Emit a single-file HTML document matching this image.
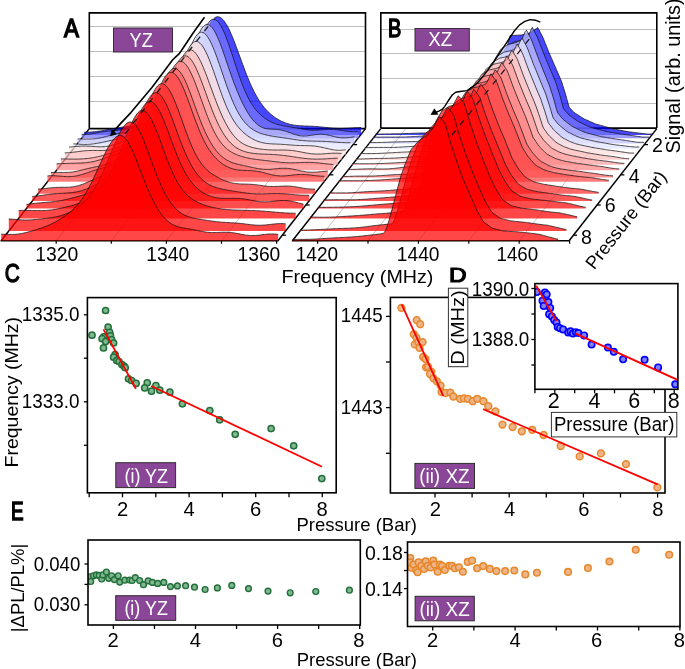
<!DOCTYPE html>
<html><head><meta charset="utf-8"><style>
html,body{margin:0;padding:0;background:#fff;overflow:hidden;}
svg{display:block;will-change:transform;}
text{font-family:"Liberation Sans", sans-serif;}
</style></head><body><svg width="685" height="669" viewBox="0 0 685 669" font-family='"Liberation Sans", sans-serif'><rect x="89.3" y="12.9" width="276.2" height="115.7" fill="#fff" stroke="none" stroke-width="1" />
<line x1="89.3" y1="26.5" x2="365.5" y2="26.5" stroke="#bdbdbd" stroke-width="1" />
<line x1="89.3" y1="51.5" x2="365.5" y2="51.5" stroke="#bdbdbd" stroke-width="1" />
<line x1="89.3" y1="76.5" x2="365.5" y2="76.5" stroke="#bdbdbd" stroke-width="1" />
<line x1="89.3" y1="101.5" x2="365.5" y2="101.5" stroke="#bdbdbd" stroke-width="1" />
<line x1="56.2" y1="240.8" x2="144.4" y2="128.6" stroke="#9a9a9a" stroke-width="0.6" />
<line x1="111.3" y1="240.8" x2="199.5" y2="128.6" stroke="#9a9a9a" stroke-width="0.6" />
<line x1="166.4" y1="240.8" x2="254.6" y2="128.6" stroke="#9a9a9a" stroke-width="0.6" />
<line x1="221.5" y1="240.8" x2="309.7" y2="128.6" stroke="#9a9a9a" stroke-width="0.6" />
<path d="M89.3,128.6 L89.3,12.9 L365.5,12.9 L365.5,128.6" fill="none" stroke="#000" stroke-width="1.6" />
<line x1="89.3" y1="128.6" x2="365.5" y2="128.6" stroke="#000" stroke-width="1.6" />
<line x1="1.1" y1="240.8" x2="89.3" y2="128.6" stroke="#000" stroke-width="1.5" />
<line x1="277.98" y1="240.8" x2="365.5" y2="128.6" stroke="#000" stroke-width="1.5" />
<line x1="0.6" y1="240.8" x2="278.48" y2="240.8" stroke="#000" stroke-width="1.6" />
<path d="M84.19,135.1 L84.19,132.2 L85.45,132.19 L86.71,132.17 L87.97,132.14 L89.22,132.09 L90.48,132.02 L91.74,131.93 L93,131.83 L94.26,131.71 L95.52,131.58 L96.78,131.43 L98.03,131.26 L99.29,131.08 L100.55,130.89 L101.81,130.69 L103.07,130.47 L104.33,130.25 L105.59,130.02 L106.84,129.79 L108.1,129.56 L109.36,129.32 L110.62,129.09 L111.88,128.86 L113.14,128.63 L114.4,128.41 L115.65,128.19 L116.91,127.99 L118.17,127.78 L119.43,127.59 L120.69,127.4 L121.95,127.22 L123.2,127.04 L124.46,126.87 L125.72,126.7 L126.98,126.53 L128.24,126.36 L129.5,126.18 L130.76,126 L132.01,125.82 L133.27,125.62 L134.53,125.41 L135.79,125.19 L137.05,124.95 L138.31,124.69 L139.57,124.41 L140.82,124.11 L142.08,123.78 L143.34,123.43 L144.6,123.05 L145.86,122.65 L147.12,122.22 L148.38,121.76 L149.63,121.26 L150.89,120.74 L152.15,120.19 L153.41,119.61 L154.67,119 L155.93,118.36 L157.19,117.68 L158.44,116.97 L159.7,116.23 L160.96,115.45 L162.22,114.63 L163.48,113.76 L164.74,112.86 L166,111.91 L167.25,110.9 L168.51,109.84 L169.77,108.72 L171.03,107.53 L172.29,106.27 L173.55,104.93 L174.8,103.51 L176.06,101.99 L177.32,100.38 L178.58,98.66 L179.84,96.83 L181.1,94.88 L182.36,92.8 L183.61,90.6 L184.87,88.26 L186.13,85.78 L187.39,83.17 L188.65,80.41 L189.91,77.52 L191.17,74.49 L192.42,71.33 L193.68,68.05 L194.94,64.66 L196.2,61.17 L197.46,57.61 L198.72,54 L199.98,50.35 L201.23,46.71 L202.49,43.09 L203.75,39.55 L205.01,36.12 L206.27,32.83 L207.53,29.74 L208.79,26.88 L210.04,24.31 L211.3,22.05 L212.56,20.15 L213.82,18.65 L215.08,17.56 L216.34,16.9 L217.59,16.7 L218.85,16.88 L220.11,17.37 L221.37,18.18 L222.63,19.3 L223.89,20.71 L225.15,22.41 L226.4,24.38 L227.66,26.6 L228.92,29.06 L230.18,31.72 L231.44,34.57 L232.7,37.59 L233.96,40.75 L235.21,44.02 L236.47,47.38 L237.73,50.81 L238.99,54.27 L240.25,57.74 L241.51,61.21 L242.77,64.65 L244.02,68.03 L245.28,71.35 L246.54,74.58 L247.8,77.72 L249.06,80.75 L250.32,83.66 L251.58,86.45 L252.83,89.11 L254.09,91.64 L255.35,94.04 L256.61,96.31 L257.87,98.46 L259.13,100.47 L260.39,102.37 L261.64,104.15 L262.9,105.83 L264.16,107.4 L265.42,108.87 L266.68,110.25 L267.94,111.55 L269.19,112.76 L270.45,113.9 L271.71,114.97 L272.97,115.97 L274.23,116.91 L275.49,117.79 L276.75,118.62 L278,119.38 L279.26,120.1 L280.52,120.77 L281.78,121.38 L283.04,121.95 L284.3,122.47 L285.56,122.95 L286.81,123.38 L288.07,123.78 L289.33,124.13 L290.59,124.44 L291.85,124.71 L293.11,124.95 L294.37,125.16 L295.62,125.34 L296.88,125.49 L298.14,125.61 L299.4,125.71 L300.66,125.8 L301.92,125.87 L303.18,125.93 L304.43,125.98 L305.69,126.02 L306.95,126.06 L308.21,126.11 L309.47,126.15 L310.73,126.2 L311.99,126.26 L313.24,126.32 L314.5,126.4 L315.76,126.48 L317.02,126.58 L318.28,126.68 L319.54,126.79 L320.79,126.91 L322.05,127.03 L323.31,127.16 L324.57,127.3 L325.83,127.43 L327.09,127.56 L328.35,127.69 L329.6,127.81 L330.86,127.93 L332.12,128.03 L333.38,128.13 L334.64,128.21 L335.9,128.27 L337.16,128.32 L338.41,128.36 L339.67,128.38 L340.93,128.38 L342.19,128.36 L343.45,128.34 L344.71,128.29 L345.97,128.24 L347.22,128.18 L348.48,128.11 L349.74,128.04 L351,127.96 L352.26,127.89 L353.52,127.81 L354.78,127.74 L356.03,127.68 L357.29,127.63 L358.55,127.59 L359.81,127.57 L361.07,127.56 L361.07,135.1 Z" fill="rgba(0,0,255,0.72)" stroke="none" stroke-width="1" />
<path d="M84.19,132.2 L85.45,132.19 L86.71,132.17 L87.97,132.14 L89.22,132.09 L90.48,132.02 L91.74,131.93 L93,131.83 L94.26,131.71 L95.52,131.58 L96.78,131.43 L98.03,131.26 L99.29,131.08 L100.55,130.89 L101.81,130.69 L103.07,130.47 L104.33,130.25 L105.59,130.02 L106.84,129.79 L108.1,129.56 L109.36,129.32 L110.62,129.09 L111.88,128.86 L113.14,128.63 L114.4,128.41 L115.65,128.19 L116.91,127.99 L118.17,127.78 L119.43,127.59 L120.69,127.4 L121.95,127.22 L123.2,127.04 L124.46,126.87 L125.72,126.7 L126.98,126.53 L128.24,126.36 L129.5,126.18 L130.76,126 L132.01,125.82 L133.27,125.62 L134.53,125.41 L135.79,125.19 L137.05,124.95 L138.31,124.69 L139.57,124.41 L140.82,124.11 L142.08,123.78 L143.34,123.43 L144.6,123.05 L145.86,122.65 L147.12,122.22 L148.38,121.76 L149.63,121.26 L150.89,120.74 L152.15,120.19 L153.41,119.61 L154.67,119 L155.93,118.36 L157.19,117.68 L158.44,116.97 L159.7,116.23 L160.96,115.45 L162.22,114.63 L163.48,113.76 L164.74,112.86 L166,111.91 L167.25,110.9 L168.51,109.84 L169.77,108.72 L171.03,107.53 L172.29,106.27 L173.55,104.93 L174.8,103.51 L176.06,101.99 L177.32,100.38 L178.58,98.66 L179.84,96.83 L181.1,94.88 L182.36,92.8 L183.61,90.6 L184.87,88.26 L186.13,85.78 L187.39,83.17 L188.65,80.41 L189.91,77.52 L191.17,74.49 L192.42,71.33 L193.68,68.05 L194.94,64.66 L196.2,61.17 L197.46,57.61 L198.72,54 L199.98,50.35 L201.23,46.71 L202.49,43.09 L203.75,39.55 L205.01,36.12 L206.27,32.83 L207.53,29.74 L208.79,26.88 L210.04,24.31 L211.3,22.05 L212.56,20.15 L213.82,18.65 L215.08,17.56 L216.34,16.9 L217.59,16.7 L218.85,16.88 L220.11,17.37 L221.37,18.18 L222.63,19.3 L223.89,20.71 L225.15,22.41 L226.4,24.38 L227.66,26.6 L228.92,29.06 L230.18,31.72 L231.44,34.57 L232.7,37.59 L233.96,40.75 L235.21,44.02 L236.47,47.38 L237.73,50.81 L238.99,54.27 L240.25,57.74 L241.51,61.21 L242.77,64.65 L244.02,68.03 L245.28,71.35 L246.54,74.58 L247.8,77.72 L249.06,80.75 L250.32,83.66 L251.58,86.45 L252.83,89.11 L254.09,91.64 L255.35,94.04 L256.61,96.31 L257.87,98.46 L259.13,100.47 L260.39,102.37 L261.64,104.15 L262.9,105.83 L264.16,107.4 L265.42,108.87 L266.68,110.25 L267.94,111.55 L269.19,112.76 L270.45,113.9 L271.71,114.97 L272.97,115.97 L274.23,116.91 L275.49,117.79 L276.75,118.62 L278,119.38 L279.26,120.1 L280.52,120.77 L281.78,121.38 L283.04,121.95 L284.3,122.47 L285.56,122.95 L286.81,123.38 L288.07,123.78 L289.33,124.13 L290.59,124.44 L291.85,124.71 L293.11,124.95 L294.37,125.16 L295.62,125.34 L296.88,125.49 L298.14,125.61 L299.4,125.71 L300.66,125.8 L301.92,125.87 L303.18,125.93 L304.43,125.98 L305.69,126.02 L306.95,126.06 L308.21,126.11 L309.47,126.15 L310.73,126.2 L311.99,126.26 L313.24,126.32 L314.5,126.4 L315.76,126.48 L317.02,126.58 L318.28,126.68 L319.54,126.79 L320.79,126.91 L322.05,127.03 L323.31,127.16 L324.57,127.3 L325.83,127.43 L327.09,127.56 L328.35,127.69 L329.6,127.81 L330.86,127.93 L332.12,128.03 L333.38,128.13 L334.64,128.21 L335.9,128.27 L337.16,128.32 L338.41,128.36 L339.67,128.38 L340.93,128.38 L342.19,128.36 L343.45,128.34 L344.71,128.29 L345.97,128.24 L347.22,128.18 L348.48,128.11 L349.74,128.04 L351,127.96 L352.26,127.89 L353.52,127.81 L354.78,127.74 L356.03,127.68 L357.29,127.63 L358.55,127.59 L359.81,127.57 L361.07,127.56" fill="none" stroke="#111" stroke-width="0.75" />
<path d="M81.67,138.3 L81.67,134.3 L82.93,134.37 L84.19,134.4 L85.45,134.4 L86.71,134.35 L87.97,134.27 L89.23,134.15 L90.48,134 L91.74,133.82 L93,133.62 L94.26,133.4 L95.52,133.17 L96.78,132.93 L98.04,132.69 L99.29,132.46 L100.55,132.23 L101.81,132.02 L103.07,131.82 L104.33,131.63 L105.59,131.46 L106.85,131.31 L108.1,131.17 L109.36,131.04 L110.62,130.92 L111.88,130.81 L113.14,130.69 L114.4,130.58 L115.66,130.45 L116.91,130.32 L118.17,130.17 L119.43,130.01 L120.69,129.83 L121.95,129.62 L123.21,129.4 L124.47,129.15 L125.72,128.88 L126.98,128.6 L128.24,128.29 L129.5,127.98 L130.76,127.65 L132.02,127.31 L133.27,126.97 L134.53,126.63 L135.79,126.29 L137.05,125.95 L138.31,125.61 L139.57,125.27 L140.83,124.94 L142.08,124.61 L143.34,124.27 L144.6,123.93 L145.86,123.57 L147.12,123.2 L148.38,122.81 L149.64,122.39 L150.89,121.93 L152.15,121.43 L153.41,120.88 L154.67,120.28 L155.93,119.62 L157.19,118.89 L158.45,118.09 L159.7,117.21 L160.96,116.26 L162.22,115.24 L163.48,114.13 L164.74,112.94 L166,111.66 L167.26,110.31 L168.51,108.87 L169.77,107.35 L171.03,105.75 L172.29,104.06 L173.55,102.29 L174.81,100.42 L176.06,98.47 L177.32,96.42 L178.58,94.27 L179.84,92.01 L181.1,89.64 L182.36,87.15 L183.62,84.55 L184.87,81.81 L186.13,78.95 L187.39,75.96 L188.65,72.85 L189.91,69.61 L191.17,66.26 L192.43,62.81 L193.68,59.27 L194.94,55.67 L196.2,52.04 L197.46,48.4 L198.72,44.8 L199.98,41.26 L201.24,37.85 L202.49,34.59 L203.75,31.53 L205.01,28.73 L206.27,26.23 L207.53,24.06 L208.79,22.26 L210.05,20.87 L211.3,19.91 L212.56,19.39 L213.82,19.33 L215.08,19.65 L216.34,20.36 L217.6,21.43 L218.86,22.86 L220.11,24.64 L221.37,26.74 L222.63,29.15 L223.89,31.84 L225.15,34.8 L226.41,37.98 L227.66,41.36 L228.92,44.91 L230.18,48.59 L231.44,52.38 L232.7,56.22 L233.96,60.1 L235.22,63.98 L236.47,67.82 L237.73,71.6 L238.99,75.29 L240.25,78.86 L241.51,82.3 L242.77,85.59 L244.03,88.71 L245.28,91.66 L246.54,94.43 L247.8,97.03 L249.06,99.45 L250.32,101.7 L251.58,103.78 L252.84,105.71 L254.09,107.5 L255.35,109.15 L256.61,110.67 L257.87,112.08 L259.13,113.39 L260.39,114.6 L261.65,115.72 L262.9,116.77 L264.16,117.74 L265.42,118.64 L266.68,119.48 L267.94,120.26 L269.2,120.99 L270.45,121.66 L271.71,122.27 L272.97,122.84 L274.23,123.35 L275.49,123.82 L276.75,124.25 L278.01,124.64 L279.26,124.98 L280.52,125.29 L281.78,125.58 L283.04,125.83 L284.3,126.07 L285.56,126.28 L286.82,126.49 L288.07,126.68 L289.33,126.88 L290.59,127.07 L291.85,127.26 L293.11,127.46 L294.37,127.67 L295.63,127.88 L296.88,128.09 L298.14,128.32 L299.4,128.54 L300.66,128.76 L301.92,128.98 L303.18,129.2 L304.44,129.4 L305.69,129.58 L306.95,129.75 L308.21,129.9 L309.47,130.02 L310.73,130.11 L311.99,130.18 L313.25,130.22 L314.5,130.23 L315.76,130.21 L317.02,130.16 L318.28,130.1 L319.54,130.02 L320.8,129.92 L322.05,129.82 L323.31,129.72 L324.57,129.62 L325.83,129.54 L327.09,129.46 L328.35,129.41 L329.61,129.38 L330.86,129.38 L332.12,129.41 L333.38,129.47 L334.64,129.55 L335.9,129.67 L337.16,129.81 L338.42,129.97 L339.67,130.15 L340.93,130.34 L342.19,130.54 L343.45,130.74 L344.71,130.94 L345.97,131.12 L347.23,131.3 L348.48,131.45 L349.74,131.58 L351,131.69 L352.26,131.77 L353.52,131.82 L354.78,131.84 L356.04,131.84 L357.29,131.82 L358.55,131.79 L358.55,138.3 Z" fill="rgba(119,119,255,0.72)" stroke="none" stroke-width="1" />
<path d="M81.67,134.3 L82.93,134.37 L84.19,134.4 L85.45,134.4 L86.71,134.35 L87.97,134.27 L89.23,134.15 L90.48,134 L91.74,133.82 L93,133.62 L94.26,133.4 L95.52,133.17 L96.78,132.93 L98.04,132.69 L99.29,132.46 L100.55,132.23 L101.81,132.02 L103.07,131.82 L104.33,131.63 L105.59,131.46 L106.85,131.31 L108.1,131.17 L109.36,131.04 L110.62,130.92 L111.88,130.81 L113.14,130.69 L114.4,130.58 L115.66,130.45 L116.91,130.32 L118.17,130.17 L119.43,130.01 L120.69,129.83 L121.95,129.62 L123.21,129.4 L124.47,129.15 L125.72,128.88 L126.98,128.6 L128.24,128.29 L129.5,127.98 L130.76,127.65 L132.02,127.31 L133.27,126.97 L134.53,126.63 L135.79,126.29 L137.05,125.95 L138.31,125.61 L139.57,125.27 L140.83,124.94 L142.08,124.61 L143.34,124.27 L144.6,123.93 L145.86,123.57 L147.12,123.2 L148.38,122.81 L149.64,122.39 L150.89,121.93 L152.15,121.43 L153.41,120.88 L154.67,120.28 L155.93,119.62 L157.19,118.89 L158.45,118.09 L159.7,117.21 L160.96,116.26 L162.22,115.24 L163.48,114.13 L164.74,112.94 L166,111.66 L167.26,110.31 L168.51,108.87 L169.77,107.35 L171.03,105.75 L172.29,104.06 L173.55,102.29 L174.81,100.42 L176.06,98.47 L177.32,96.42 L178.58,94.27 L179.84,92.01 L181.1,89.64 L182.36,87.15 L183.62,84.55 L184.87,81.81 L186.13,78.95 L187.39,75.96 L188.65,72.85 L189.91,69.61 L191.17,66.26 L192.43,62.81 L193.68,59.27 L194.94,55.67 L196.2,52.04 L197.46,48.4 L198.72,44.8 L199.98,41.26 L201.24,37.85 L202.49,34.59 L203.75,31.53 L205.01,28.73 L206.27,26.23 L207.53,24.06 L208.79,22.26 L210.05,20.87 L211.3,19.91 L212.56,19.39 L213.82,19.33 L215.08,19.65 L216.34,20.36 L217.6,21.43 L218.86,22.86 L220.11,24.64 L221.37,26.74 L222.63,29.15 L223.89,31.84 L225.15,34.8 L226.41,37.98 L227.66,41.36 L228.92,44.91 L230.18,48.59 L231.44,52.38 L232.7,56.22 L233.96,60.1 L235.22,63.98 L236.47,67.82 L237.73,71.6 L238.99,75.29 L240.25,78.86 L241.51,82.3 L242.77,85.59 L244.03,88.71 L245.28,91.66 L246.54,94.43 L247.8,97.03 L249.06,99.45 L250.32,101.7 L251.58,103.78 L252.84,105.71 L254.09,107.5 L255.35,109.15 L256.61,110.67 L257.87,112.08 L259.13,113.39 L260.39,114.6 L261.65,115.72 L262.9,116.77 L264.16,117.74 L265.42,118.64 L266.68,119.48 L267.94,120.26 L269.2,120.99 L270.45,121.66 L271.71,122.27 L272.97,122.84 L274.23,123.35 L275.49,123.82 L276.75,124.25 L278.01,124.64 L279.26,124.98 L280.52,125.29 L281.78,125.58 L283.04,125.83 L284.3,126.07 L285.56,126.28 L286.82,126.49 L288.07,126.68 L289.33,126.88 L290.59,127.07 L291.85,127.26 L293.11,127.46 L294.37,127.67 L295.63,127.88 L296.88,128.09 L298.14,128.32 L299.4,128.54 L300.66,128.76 L301.92,128.98 L303.18,129.2 L304.44,129.4 L305.69,129.58 L306.95,129.75 L308.21,129.9 L309.47,130.02 L310.73,130.11 L311.99,130.18 L313.25,130.22 L314.5,130.23 L315.76,130.21 L317.02,130.16 L318.28,130.1 L319.54,130.02 L320.8,129.92 L322.05,129.82 L323.31,129.72 L324.57,129.62 L325.83,129.54 L327.09,129.46 L328.35,129.41 L329.61,129.38 L330.86,129.38 L332.12,129.41 L333.38,129.47 L334.64,129.55 L335.9,129.67 L337.16,129.81 L338.42,129.97 L339.67,130.15 L340.93,130.34 L342.19,130.54 L343.45,130.74 L344.71,130.94 L345.97,131.12 L347.23,131.3 L348.48,131.45 L349.74,131.58 L351,131.69 L352.26,131.77 L353.52,131.82 L354.78,131.84 L356.04,131.84 L357.29,131.82 L358.55,131.79" fill="none" stroke="#111" stroke-width="0.75" />
<path d="M77.59,143.5 L77.59,138.9 L78.85,138.9 L80.1,138.91 L81.36,138.93 L82.62,138.96 L83.88,138.98 L85.14,139.01 L86.4,139.02 L87.66,139.03 L88.91,139.03 L90.17,139.01 L91.43,138.96 L92.69,138.9 L93.95,138.81 L95.21,138.69 L96.47,138.54 L97.72,138.36 L98.98,138.16 L100.24,137.92 L101.5,137.66 L102.76,137.38 L104.02,137.08 L105.27,136.76 L106.53,136.43 L107.79,136.1 L109.05,135.76 L110.31,135.42 L111.57,135.09 L112.83,134.78 L114.08,134.47 L115.34,134.19 L116.6,133.92 L117.86,133.68 L119.12,133.45 L120.38,133.25 L121.64,133.07 L122.89,132.9 L124.15,132.74 L125.41,132.6 L126.67,132.45 L127.93,132.3 L129.19,132.14 L130.45,131.97 L131.7,131.77 L132.96,131.55 L134.22,131.29 L135.48,131 L136.74,130.66 L138,130.27 L139.26,129.83 L140.51,129.34 L141.77,128.79 L143.03,128.19 L144.29,127.54 L145.55,126.84 L146.81,126.08 L148.07,125.28 L149.32,124.43 L150.58,123.54 L151.84,122.61 L153.1,121.64 L154.36,120.63 L155.62,119.58 L156.87,118.49 L158.13,117.36 L159.39,116.19 L160.65,114.97 L161.91,113.69 L163.17,112.35 L164.43,110.94 L165.68,109.45 L166.94,107.88 L168.2,106.2 L169.46,104.42 L170.72,102.52 L171.98,100.49 L173.24,98.33 L174.49,96.02 L175.75,93.57 L177.01,90.97 L178.27,88.22 L179.53,85.32 L180.79,82.28 L182.05,79.1 L183.3,75.79 L184.56,72.38 L185.82,68.86 L187.08,65.28 L188.34,61.64 L189.6,57.98 L190.86,54.32 L192.11,50.7 L193.37,47.16 L194.63,43.74 L195.89,40.47 L197.15,37.39 L198.41,34.55 L199.66,31.99 L200.92,29.75 L202.18,27.87 L203.44,26.38 L204.7,25.31 L205.96,24.68 L207.22,24.5 L208.47,24.74 L209.73,25.36 L210.99,26.36 L212.25,27.73 L213.51,29.45 L214.77,31.51 L216.03,33.88 L217.28,36.53 L218.54,39.44 L219.8,42.57 L221.06,45.88 L222.32,49.35 L223.58,52.93 L224.84,56.58 L226.09,60.29 L227.35,64.01 L228.61,67.71 L229.87,71.38 L231.13,74.99 L232.39,78.52 L233.65,81.97 L234.9,85.31 L236.16,88.54 L237.42,91.66 L238.68,94.66 L239.94,97.55 L241.2,100.31 L242.46,102.94 L243.71,105.46 L244.97,107.85 L246.23,110.12 L247.49,112.26 L248.75,114.27 L250.01,116.16 L251.26,117.9 L252.52,119.52 L253.78,121 L255.04,122.34 L256.3,123.54 L257.56,124.61 L258.82,125.54 L260.07,126.35 L261.33,127.03 L262.59,127.59 L263.85,128.05 L265.11,128.41 L266.37,128.68 L267.63,128.88 L268.88,129.02 L270.14,129.12 L271.4,129.19 L272.66,129.24 L273.92,129.29 L275.18,129.35 L276.44,129.43 L277.69,129.54 L278.95,129.68 L280.21,129.87 L281.47,130.11 L282.73,130.39 L283.99,130.72 L285.25,131.09 L286.5,131.49 L287.76,131.93 L289.02,132.39 L290.28,132.85 L291.54,133.32 L292.8,133.78 L294.06,134.22 L295.31,134.62 L296.57,134.99 L297.83,135.31 L299.09,135.58 L300.35,135.78 L301.61,135.93 L302.86,136.01 L304.12,136.03 L305.38,136 L306.64,135.91 L307.9,135.78 L309.16,135.62 L310.42,135.43 L311.67,135.23 L312.93,135.02 L314.19,134.82 L315.45,134.63 L316.71,134.47 L317.97,134.35 L319.23,134.27 L320.48,134.24 L321.74,134.25 L323,134.32 L324.26,134.45 L325.52,134.61 L326.78,134.83 L328.04,135.08 L329.29,135.36 L330.55,135.67 L331.81,135.98 L333.07,136.3 L334.33,136.61 L335.59,136.9 L336.85,137.17 L338.1,137.41 L339.36,137.6 L340.62,137.75 L341.88,137.85 L343.14,137.91 L344.4,137.91 L345.65,137.87 L346.91,137.79 L348.17,137.67 L349.43,137.52 L350.69,137.35 L351.95,137.17 L353.21,136.98 L354.46,136.79 L354.46,143.5 Z" fill="rgba(192,192,255,0.72)" stroke="none" stroke-width="1" />
<path d="M77.59,138.9 L78.85,138.9 L80.1,138.91 L81.36,138.93 L82.62,138.96 L83.88,138.98 L85.14,139.01 L86.4,139.02 L87.66,139.03 L88.91,139.03 L90.17,139.01 L91.43,138.96 L92.69,138.9 L93.95,138.81 L95.21,138.69 L96.47,138.54 L97.72,138.36 L98.98,138.16 L100.24,137.92 L101.5,137.66 L102.76,137.38 L104.02,137.08 L105.27,136.76 L106.53,136.43 L107.79,136.1 L109.05,135.76 L110.31,135.42 L111.57,135.09 L112.83,134.78 L114.08,134.47 L115.34,134.19 L116.6,133.92 L117.86,133.68 L119.12,133.45 L120.38,133.25 L121.64,133.07 L122.89,132.9 L124.15,132.74 L125.41,132.6 L126.67,132.45 L127.93,132.3 L129.19,132.14 L130.45,131.97 L131.7,131.77 L132.96,131.55 L134.22,131.29 L135.48,131 L136.74,130.66 L138,130.27 L139.26,129.83 L140.51,129.34 L141.77,128.79 L143.03,128.19 L144.29,127.54 L145.55,126.84 L146.81,126.08 L148.07,125.28 L149.32,124.43 L150.58,123.54 L151.84,122.61 L153.1,121.64 L154.36,120.63 L155.62,119.58 L156.87,118.49 L158.13,117.36 L159.39,116.19 L160.65,114.97 L161.91,113.69 L163.17,112.35 L164.43,110.94 L165.68,109.45 L166.94,107.88 L168.2,106.2 L169.46,104.42 L170.72,102.52 L171.98,100.49 L173.24,98.33 L174.49,96.02 L175.75,93.57 L177.01,90.97 L178.27,88.22 L179.53,85.32 L180.79,82.28 L182.05,79.1 L183.3,75.79 L184.56,72.38 L185.82,68.86 L187.08,65.28 L188.34,61.64 L189.6,57.98 L190.86,54.32 L192.11,50.7 L193.37,47.16 L194.63,43.74 L195.89,40.47 L197.15,37.39 L198.41,34.55 L199.66,31.99 L200.92,29.75 L202.18,27.87 L203.44,26.38 L204.7,25.31 L205.96,24.68 L207.22,24.5 L208.47,24.74 L209.73,25.36 L210.99,26.36 L212.25,27.73 L213.51,29.45 L214.77,31.51 L216.03,33.88 L217.28,36.53 L218.54,39.44 L219.8,42.57 L221.06,45.88 L222.32,49.35 L223.58,52.93 L224.84,56.58 L226.09,60.29 L227.35,64.01 L228.61,67.71 L229.87,71.38 L231.13,74.99 L232.39,78.52 L233.65,81.97 L234.9,85.31 L236.16,88.54 L237.42,91.66 L238.68,94.66 L239.94,97.55 L241.2,100.31 L242.46,102.94 L243.71,105.46 L244.97,107.85 L246.23,110.12 L247.49,112.26 L248.75,114.27 L250.01,116.16 L251.26,117.9 L252.52,119.52 L253.78,121 L255.04,122.34 L256.3,123.54 L257.56,124.61 L258.82,125.54 L260.07,126.35 L261.33,127.03 L262.59,127.59 L263.85,128.05 L265.11,128.41 L266.37,128.68 L267.63,128.88 L268.88,129.02 L270.14,129.12 L271.4,129.19 L272.66,129.24 L273.92,129.29 L275.18,129.35 L276.44,129.43 L277.69,129.54 L278.95,129.68 L280.21,129.87 L281.47,130.11 L282.73,130.39 L283.99,130.72 L285.25,131.09 L286.5,131.49 L287.76,131.93 L289.02,132.39 L290.28,132.85 L291.54,133.32 L292.8,133.78 L294.06,134.22 L295.31,134.62 L296.57,134.99 L297.83,135.31 L299.09,135.58 L300.35,135.78 L301.61,135.93 L302.86,136.01 L304.12,136.03 L305.38,136 L306.64,135.91 L307.9,135.78 L309.16,135.62 L310.42,135.43 L311.67,135.23 L312.93,135.02 L314.19,134.82 L315.45,134.63 L316.71,134.47 L317.97,134.35 L319.23,134.27 L320.48,134.24 L321.74,134.25 L323,134.32 L324.26,134.45 L325.52,134.61 L326.78,134.83 L328.04,135.08 L329.29,135.36 L330.55,135.67 L331.81,135.98 L333.07,136.3 L334.33,136.61 L335.59,136.9 L336.85,137.17 L338.1,137.41 L339.36,137.6 L340.62,137.75 L341.88,137.85 L343.14,137.91 L344.4,137.91 L345.65,137.87 L346.91,137.79 L348.17,137.67 L349.43,137.52 L350.69,137.35 L351.95,137.17 L353.21,136.98 L354.46,136.79" fill="none" stroke="#111" stroke-width="0.75" />
<path d="M73.5,148.7 L73.5,143.8 L74.76,143.9 L76.02,144 L77.28,144.09 L78.53,144.18 L79.79,144.27 L81.05,144.34 L82.31,144.39 L83.57,144.42 L84.83,144.44 L86.08,144.43 L87.34,144.39 L88.6,144.33 L89.86,144.25 L91.12,144.14 L92.38,144.01 L93.64,143.85 L94.89,143.68 L96.15,143.48 L97.41,143.27 L98.67,143.04 L99.93,142.8 L101.19,142.55 L102.45,142.29 L103.7,142.03 L104.96,141.75 L106.22,141.48 L107.48,141.2 L108.74,140.91 L110,140.63 L111.26,140.34 L112.51,140.06 L113.77,139.77 L115.03,139.48 L116.29,139.18 L117.55,138.88 L118.81,138.58 L120.07,138.28 L121.32,137.96 L122.58,137.64 L123.84,137.32 L125.1,136.98 L126.36,136.63 L127.62,136.27 L128.87,135.9 L130.13,135.51 L131.39,135.11 L132.65,134.69 L133.91,134.25 L135.17,133.79 L136.43,133.31 L137.68,132.8 L138.94,132.26 L140.2,131.68 L141.46,131.07 L142.72,130.43 L143.98,129.74 L145.24,129 L146.49,128.21 L147.75,127.37 L149.01,126.46 L150.27,125.5 L151.53,124.46 L152.79,123.36 L154.05,122.17 L155.3,120.91 L156.56,119.57 L157.82,118.13 L159.08,116.6 L160.34,114.98 L161.6,113.26 L162.86,111.44 L164.11,109.51 L165.37,107.47 L166.63,105.32 L167.89,103.06 L169.15,100.69 L170.41,98.19 L171.67,95.58 L172.92,92.85 L174.18,90 L175.44,87.04 L176.7,83.96 L177.96,80.78 L179.22,77.51 L180.47,74.15 L181.73,70.73 L182.99,67.26 L184.25,63.76 L185.51,60.26 L186.77,56.79 L188.03,53.4 L189.28,50.11 L190.54,46.97 L191.8,44.02 L193.06,41.31 L194.32,38.88 L195.58,36.77 L196.84,35.03 L198.09,33.68 L199.35,32.76 L200.61,32.27 L201.87,32.23 L203.13,32.59 L204.39,33.31 L205.65,34.41 L206.9,35.85 L208.16,37.64 L209.42,39.74 L210.68,42.13 L211.94,44.8 L213.2,47.7 L214.46,50.81 L215.71,54.1 L216.97,57.54 L218.23,61.09 L219.49,64.72 L220.75,68.41 L222.01,72.13 L223.27,75.84 L224.52,79.52 L225.78,83.14 L227.04,86.69 L228.3,90.15 L229.56,93.49 L230.82,96.71 L232.07,99.79 L233.33,102.72 L234.59,105.51 L235.85,108.13 L237.11,110.6 L238.37,112.91 L239.63,115.06 L240.88,117.06 L242.14,118.91 L243.4,120.61 L244.66,122.18 L245.92,123.61 L247.18,124.93 L248.44,126.13 L249.69,127.22 L250.95,128.21 L252.21,129.12 L253.47,129.94 L254.73,130.68 L255.99,131.35 L257.25,131.96 L258.5,132.52 L259.76,133.02 L261.02,133.48 L262.28,133.89 L263.54,134.27 L264.8,134.62 L266.06,134.93 L267.31,135.22 L268.57,135.49 L269.83,135.74 L271.09,135.97 L272.35,136.19 L273.61,136.4 L274.86,136.6 L276.12,136.79 L277.38,136.98 L278.64,137.16 L279.9,137.35 L281.16,137.53 L282.42,137.71 L283.67,137.9 L284.93,138.08 L286.19,138.27 L287.45,138.46 L288.71,138.65 L289.97,138.84 L291.23,139.04 L292.48,139.23 L293.74,139.41 L295,139.59 L296.26,139.77 L297.52,139.94 L298.78,140.1 L300.04,140.25 L301.29,140.39 L302.55,140.52 L303.81,140.64 L305.07,140.74 L306.33,140.83 L307.59,140.91 L308.85,140.97 L310.1,141.03 L311.36,141.08 L312.62,141.11 L313.88,141.15 L315.14,141.17 L316.4,141.2 L317.66,141.23 L318.91,141.25 L320.17,141.28 L321.43,141.32 L322.69,141.36 L323.95,141.4 L325.21,141.46 L326.46,141.52 L327.72,141.59 L328.98,141.67 L330.24,141.75 L331.5,141.84 L332.76,141.94 L334.02,142.03 L335.27,142.13 L336.53,142.22 L337.79,142.31 L339.05,142.39 L340.31,142.47 L341.57,142.54 L342.83,142.6 L344.08,142.65 L345.34,142.68 L346.6,142.71 L347.86,142.72 L349.12,142.72 L350.38,142.71 L350.38,148.7 Z" fill="rgba(224,229,255,0.72)" stroke="none" stroke-width="1" />
<path d="M73.5,143.8 L74.76,143.9 L76.02,144 L77.28,144.09 L78.53,144.18 L79.79,144.27 L81.05,144.34 L82.31,144.39 L83.57,144.42 L84.83,144.44 L86.08,144.43 L87.34,144.39 L88.6,144.33 L89.86,144.25 L91.12,144.14 L92.38,144.01 L93.64,143.85 L94.89,143.68 L96.15,143.48 L97.41,143.27 L98.67,143.04 L99.93,142.8 L101.19,142.55 L102.45,142.29 L103.7,142.03 L104.96,141.75 L106.22,141.48 L107.48,141.2 L108.74,140.91 L110,140.63 L111.26,140.34 L112.51,140.06 L113.77,139.77 L115.03,139.48 L116.29,139.18 L117.55,138.88 L118.81,138.58 L120.07,138.28 L121.32,137.96 L122.58,137.64 L123.84,137.32 L125.1,136.98 L126.36,136.63 L127.62,136.27 L128.87,135.9 L130.13,135.51 L131.39,135.11 L132.65,134.69 L133.91,134.25 L135.17,133.79 L136.43,133.31 L137.68,132.8 L138.94,132.26 L140.2,131.68 L141.46,131.07 L142.72,130.43 L143.98,129.74 L145.24,129 L146.49,128.21 L147.75,127.37 L149.01,126.46 L150.27,125.5 L151.53,124.46 L152.79,123.36 L154.05,122.17 L155.3,120.91 L156.56,119.57 L157.82,118.13 L159.08,116.6 L160.34,114.98 L161.6,113.26 L162.86,111.44 L164.11,109.51 L165.37,107.47 L166.63,105.32 L167.89,103.06 L169.15,100.69 L170.41,98.19 L171.67,95.58 L172.92,92.85 L174.18,90 L175.44,87.04 L176.7,83.96 L177.96,80.78 L179.22,77.51 L180.47,74.15 L181.73,70.73 L182.99,67.26 L184.25,63.76 L185.51,60.26 L186.77,56.79 L188.03,53.4 L189.28,50.11 L190.54,46.97 L191.8,44.02 L193.06,41.31 L194.32,38.88 L195.58,36.77 L196.84,35.03 L198.09,33.68 L199.35,32.76 L200.61,32.27 L201.87,32.23 L203.13,32.59 L204.39,33.31 L205.65,34.41 L206.9,35.85 L208.16,37.64 L209.42,39.74 L210.68,42.13 L211.94,44.8 L213.2,47.7 L214.46,50.81 L215.71,54.1 L216.97,57.54 L218.23,61.09 L219.49,64.72 L220.75,68.41 L222.01,72.13 L223.27,75.84 L224.52,79.52 L225.78,83.14 L227.04,86.69 L228.3,90.15 L229.56,93.49 L230.82,96.71 L232.07,99.79 L233.33,102.72 L234.59,105.51 L235.85,108.13 L237.11,110.6 L238.37,112.91 L239.63,115.06 L240.88,117.06 L242.14,118.91 L243.4,120.61 L244.66,122.18 L245.92,123.61 L247.18,124.93 L248.44,126.13 L249.69,127.22 L250.95,128.21 L252.21,129.12 L253.47,129.94 L254.73,130.68 L255.99,131.35 L257.25,131.96 L258.5,132.52 L259.76,133.02 L261.02,133.48 L262.28,133.89 L263.54,134.27 L264.8,134.62 L266.06,134.93 L267.31,135.22 L268.57,135.49 L269.83,135.74 L271.09,135.97 L272.35,136.19 L273.61,136.4 L274.86,136.6 L276.12,136.79 L277.38,136.98 L278.64,137.16 L279.9,137.35 L281.16,137.53 L282.42,137.71 L283.67,137.9 L284.93,138.08 L286.19,138.27 L287.45,138.46 L288.71,138.65 L289.97,138.84 L291.23,139.04 L292.48,139.23 L293.74,139.41 L295,139.59 L296.26,139.77 L297.52,139.94 L298.78,140.1 L300.04,140.25 L301.29,140.39 L302.55,140.52 L303.81,140.64 L305.07,140.74 L306.33,140.83 L307.59,140.91 L308.85,140.97 L310.1,141.03 L311.36,141.08 L312.62,141.11 L313.88,141.15 L315.14,141.17 L316.4,141.2 L317.66,141.23 L318.91,141.25 L320.17,141.28 L321.43,141.32 L322.69,141.36 L323.95,141.4 L325.21,141.46 L326.46,141.52 L327.72,141.59 L328.98,141.67 L330.24,141.75 L331.5,141.84 L332.76,141.94 L334.02,142.03 L335.27,142.13 L336.53,142.22 L337.79,142.31 L339.05,142.39 L340.31,142.47 L341.57,142.54 L342.83,142.6 L344.08,142.65 L345.34,142.68 L346.6,142.71 L347.86,142.72 L349.12,142.72 L350.38,142.71" fill="none" stroke="#111" stroke-width="0.75" />
<path d="M69.02,154.4 L69.02,147.1 L70.28,146.99 L71.54,146.88 L72.79,146.76 L74.05,146.65 L75.31,146.54 L76.57,146.44 L77.83,146.34 L79.09,146.26 L80.35,146.19 L81.6,146.13 L82.86,146.1 L84.12,146.08 L85.38,146.09 L86.64,146.11 L87.9,146.15 L89.16,146.21 L90.41,146.28 L91.67,146.36 L92.93,146.45 L94.19,146.54 L95.45,146.62 L96.71,146.69 L97.97,146.75 L99.22,146.79 L100.48,146.8 L101.74,146.79 L103,146.74 L104.26,146.65 L105.52,146.53 L106.77,146.37 L108.03,146.17 L109.29,145.94 L110.55,145.67 L111.81,145.36 L113.07,145.03 L114.33,144.67 L115.58,144.28 L116.84,143.89 L118.1,143.48 L119.36,143.06 L120.62,142.64 L121.88,142.21 L123.14,141.79 L124.39,141.37 L125.65,140.95 L126.91,140.54 L128.17,140.13 L129.43,139.71 L130.69,139.29 L131.95,138.86 L133.2,138.41 L134.46,137.94 L135.72,137.45 L136.98,136.92 L138.24,136.34 L139.5,135.72 L140.76,135.04 L142.01,134.3 L143.27,133.49 L144.53,132.61 L145.79,131.66 L147.05,130.62 L148.31,129.5 L149.56,128.29 L150.82,126.99 L152.08,125.61 L153.34,124.13 L154.6,122.56 L155.86,120.89 L157.12,119.13 L158.37,117.27 L159.63,115.32 L160.89,113.26 L162.15,111.1 L163.41,108.84 L164.67,106.46 L165.93,103.98 L167.18,101.38 L168.44,98.67 L169.7,95.84 L170.96,92.9 L172.22,89.85 L173.48,86.7 L174.74,83.46 L175.99,80.14 L177.25,76.76 L178.51,73.34 L179.77,69.91 L181.03,66.51 L182.29,63.15 L183.55,59.89 L184.8,56.76 L186.06,53.82 L187.32,51.09 L188.58,48.63 L189.84,46.47 L191.1,44.66 L192.36,43.23 L193.61,42.19 L194.87,41.58 L196.13,41.4 L197.39,41.61 L198.65,42.19 L199.91,43.11 L201.16,44.39 L202.42,45.99 L203.68,47.9 L204.94,50.11 L206.2,52.59 L207.46,55.32 L208.72,58.28 L209.97,61.42 L211.23,64.73 L212.49,68.17 L213.75,71.71 L215.01,75.32 L216.27,78.96 L217.53,82.62 L218.78,86.25 L220.04,89.83 L221.3,93.33 L222.56,96.74 L223.82,100.04 L225.08,103.2 L226.34,106.21 L227.59,109.07 L228.85,111.77 L230.11,114.3 L231.37,116.67 L232.63,118.89 L233.89,120.95 L235.15,122.86 L236.4,124.63 L237.66,126.27 L238.92,127.8 L240.18,129.21 L241.44,130.53 L242.7,131.75 L243.95,132.89 L245.21,133.95 L246.47,134.95 L247.73,135.88 L248.99,136.74 L250.25,137.55 L251.51,138.31 L252.76,139.01 L254.02,139.66 L255.28,140.26 L256.54,140.8 L257.8,141.3 L259.06,141.74 L260.32,142.14 L261.57,142.48 L262.83,142.78 L264.09,143.04 L265.35,143.26 L266.61,143.43 L267.87,143.58 L269.13,143.7 L270.38,143.79 L271.64,143.87 L272.9,143.93 L274.16,143.98 L275.42,144.03 L276.68,144.07 L277.94,144.12 L279.19,144.17 L280.45,144.23 L281.71,144.3 L282.97,144.38 L284.23,144.46 L285.49,144.56 L286.75,144.66 L288,144.76 L289.26,144.86 L290.52,144.97 L291.78,145.07 L293.04,145.17 L294.3,145.25 L295.55,145.33 L296.81,145.4 L298.07,145.46 L299.33,145.5 L300.59,145.54 L301.85,145.56 L303.11,145.58 L304.36,145.6 L305.62,145.62 L306.88,145.64 L308.14,145.67 L309.4,145.71 L310.66,145.76 L311.92,145.84 L313.17,145.93 L314.43,146.05 L315.69,146.2 L316.95,146.37 L318.21,146.57 L319.47,146.79 L320.73,147.04 L321.98,147.31 L323.24,147.59 L324.5,147.88 L325.76,148.18 L327.02,148.48 L328.28,148.77 L329.54,149.05 L330.79,149.31 L332.05,149.55 L333.31,149.76 L334.57,149.93 L335.83,150.07 L337.09,150.16 L338.35,150.22 L339.6,150.23 L340.86,150.2 L342.12,150.14 L343.38,150.04 L344.64,149.91 L345.9,149.75 L345.9,154.4 Z" fill="rgba(252,222,222,0.72)" stroke="none" stroke-width="1" />
<path d="M69.02,147.1 L70.28,146.99 L71.54,146.88 L72.79,146.76 L74.05,146.65 L75.31,146.54 L76.57,146.44 L77.83,146.34 L79.09,146.26 L80.35,146.19 L81.6,146.13 L82.86,146.1 L84.12,146.08 L85.38,146.09 L86.64,146.11 L87.9,146.15 L89.16,146.21 L90.41,146.28 L91.67,146.36 L92.93,146.45 L94.19,146.54 L95.45,146.62 L96.71,146.69 L97.97,146.75 L99.22,146.79 L100.48,146.8 L101.74,146.79 L103,146.74 L104.26,146.65 L105.52,146.53 L106.77,146.37 L108.03,146.17 L109.29,145.94 L110.55,145.67 L111.81,145.36 L113.07,145.03 L114.33,144.67 L115.58,144.28 L116.84,143.89 L118.1,143.48 L119.36,143.06 L120.62,142.64 L121.88,142.21 L123.14,141.79 L124.39,141.37 L125.65,140.95 L126.91,140.54 L128.17,140.13 L129.43,139.71 L130.69,139.29 L131.95,138.86 L133.2,138.41 L134.46,137.94 L135.72,137.45 L136.98,136.92 L138.24,136.34 L139.5,135.72 L140.76,135.04 L142.01,134.3 L143.27,133.49 L144.53,132.61 L145.79,131.66 L147.05,130.62 L148.31,129.5 L149.56,128.29 L150.82,126.99 L152.08,125.61 L153.34,124.13 L154.6,122.56 L155.86,120.89 L157.12,119.13 L158.37,117.27 L159.63,115.32 L160.89,113.26 L162.15,111.1 L163.41,108.84 L164.67,106.46 L165.93,103.98 L167.18,101.38 L168.44,98.67 L169.7,95.84 L170.96,92.9 L172.22,89.85 L173.48,86.7 L174.74,83.46 L175.99,80.14 L177.25,76.76 L178.51,73.34 L179.77,69.91 L181.03,66.51 L182.29,63.15 L183.55,59.89 L184.8,56.76 L186.06,53.82 L187.32,51.09 L188.58,48.63 L189.84,46.47 L191.1,44.66 L192.36,43.23 L193.61,42.19 L194.87,41.58 L196.13,41.4 L197.39,41.61 L198.65,42.19 L199.91,43.11 L201.16,44.39 L202.42,45.99 L203.68,47.9 L204.94,50.11 L206.2,52.59 L207.46,55.32 L208.72,58.28 L209.97,61.42 L211.23,64.73 L212.49,68.17 L213.75,71.71 L215.01,75.32 L216.27,78.96 L217.53,82.62 L218.78,86.25 L220.04,89.83 L221.3,93.33 L222.56,96.74 L223.82,100.04 L225.08,103.2 L226.34,106.21 L227.59,109.07 L228.85,111.77 L230.11,114.3 L231.37,116.67 L232.63,118.89 L233.89,120.95 L235.15,122.86 L236.4,124.63 L237.66,126.27 L238.92,127.8 L240.18,129.21 L241.44,130.53 L242.7,131.75 L243.95,132.89 L245.21,133.95 L246.47,134.95 L247.73,135.88 L248.99,136.74 L250.25,137.55 L251.51,138.31 L252.76,139.01 L254.02,139.66 L255.28,140.26 L256.54,140.8 L257.8,141.3 L259.06,141.74 L260.32,142.14 L261.57,142.48 L262.83,142.78 L264.09,143.04 L265.35,143.26 L266.61,143.43 L267.87,143.58 L269.13,143.7 L270.38,143.79 L271.64,143.87 L272.9,143.93 L274.16,143.98 L275.42,144.03 L276.68,144.07 L277.94,144.12 L279.19,144.17 L280.45,144.23 L281.71,144.3 L282.97,144.38 L284.23,144.46 L285.49,144.56 L286.75,144.66 L288,144.76 L289.26,144.86 L290.52,144.97 L291.78,145.07 L293.04,145.17 L294.3,145.25 L295.55,145.33 L296.81,145.4 L298.07,145.46 L299.33,145.5 L300.59,145.54 L301.85,145.56 L303.11,145.58 L304.36,145.6 L305.62,145.62 L306.88,145.64 L308.14,145.67 L309.4,145.71 L310.66,145.76 L311.92,145.84 L313.17,145.93 L314.43,146.05 L315.69,146.2 L316.95,146.37 L318.21,146.57 L319.47,146.79 L320.73,147.04 L321.98,147.31 L323.24,147.59 L324.5,147.88 L325.76,148.18 L327.02,148.48 L328.28,148.77 L329.54,149.05 L330.79,149.31 L332.05,149.55 L333.31,149.76 L334.57,149.93 L335.83,150.07 L337.09,150.16 L338.35,150.22 L339.6,150.23 L340.86,150.2 L342.12,150.14 L343.38,150.04 L344.64,149.91 L345.9,149.75" fill="none" stroke="#111" stroke-width="0.75" />
<path d="M64.77,159.8 L64.77,152.9 L66.03,152.86 L67.29,152.8 L68.55,152.71 L69.81,152.61 L71.07,152.49 L72.33,152.35 L73.58,152.2 L74.84,152.04 L76.1,151.87 L77.36,151.7 L78.62,151.53 L79.88,151.36 L81.13,151.2 L82.39,151.05 L83.65,150.92 L84.91,150.8 L86.17,150.7 L87.43,150.62 L88.69,150.56 L89.94,150.52 L91.2,150.49 L92.46,150.48 L93.72,150.48 L94.98,150.48 L96.24,150.5 L97.5,150.51 L98.75,150.52 L100.01,150.51 L101.27,150.5 L102.53,150.46 L103.79,150.4 L105.05,150.32 L106.31,150.2 L107.56,150.06 L108.82,149.87 L110.08,149.65 L111.34,149.4 L112.6,149.11 L113.86,148.78 L115.12,148.42 L116.37,148.03 L117.63,147.61 L118.89,147.16 L120.15,146.69 L121.41,146.2 L122.67,145.7 L123.92,145.17 L125.18,144.64 L126.44,144.09 L127.7,143.52 L128.96,142.95 L130.22,142.36 L131.48,141.75 L132.73,141.13 L133.99,140.48 L135.25,139.8 L136.51,139.09 L137.77,138.34 L139.03,137.54 L140.29,136.69 L141.54,135.77 L142.8,134.79 L144.06,133.72 L145.32,132.57 L146.58,131.33 L147.84,129.98 L149.1,128.54 L150.35,126.98 L151.61,125.31 L152.87,123.52 L154.13,121.6 L155.39,119.57 L156.65,117.41 L157.91,115.12 L159.16,112.72 L160.42,110.19 L161.68,107.54 L162.94,104.78 L164.2,101.91 L165.46,98.94 L166.72,95.88 L167.97,92.73 L169.23,89.51 L170.49,86.24 L171.75,82.94 L173.01,79.62 L174.27,76.3 L175.52,73.03 L176.78,69.83 L178.04,66.73 L179.3,63.77 L180.56,60.99 L181.82,58.44 L183.08,56.15 L184.33,54.16 L185.59,52.51 L186.85,51.23 L188.11,50.35 L189.37,49.88 L190.63,49.83 L191.89,50.15 L193.14,50.82 L194.4,51.85 L195.66,53.2 L196.92,54.88 L198.18,56.85 L199.44,59.09 L200.7,61.59 L201.95,64.31 L203.21,67.21 L204.47,70.29 L205.73,73.49 L206.99,76.8 L208.25,80.19 L209.51,83.62 L210.76,87.07 L212.02,90.53 L213.28,93.96 L214.54,97.34 L215.8,100.67 L217.06,103.92 L218.31,107.08 L219.57,110.13 L220.83,113.08 L222.09,115.9 L223.35,118.6 L224.61,121.17 L225.87,123.6 L227.12,125.89 L228.38,128.04 L229.64,130.05 L230.9,131.93 L232.16,133.67 L233.42,135.27 L234.68,136.75 L235.93,138.1 L237.19,139.34 L238.45,140.46 L239.71,141.48 L240.97,142.4 L242.23,143.22 L243.49,143.97 L244.74,144.64 L246,145.24 L247.26,145.77 L248.52,146.26 L249.78,146.69 L251.04,147.08 L252.3,147.43 L253.55,147.75 L254.81,148.04 L256.07,148.3 L257.33,148.54 L258.59,148.75 L259.85,148.95 L261.11,149.13 L262.36,149.29 L263.62,149.43 L264.88,149.56 L266.14,149.67 L267.4,149.76 L268.66,149.84 L269.91,149.9 L271.17,149.95 L272.43,149.99 L273.69,150.01 L274.95,150.02 L276.21,150.02 L277.47,150.02 L278.72,150.01 L279.98,150.01 L281.24,150 L282.5,150.01 L283.76,150.02 L285.02,150.04 L286.28,150.08 L287.53,150.14 L288.79,150.21 L290.05,150.31 L291.31,150.42 L292.57,150.56 L293.83,150.73 L295.09,150.91 L296.34,151.11 L297.6,151.33 L298.86,151.56 L300.12,151.81 L301.38,152.06 L302.64,152.31 L303.9,152.56 L305.15,152.8 L306.41,153.04 L307.67,153.25 L308.93,153.45 L310.19,153.63 L311.45,153.78 L312.71,153.9 L313.96,153.99 L315.22,154.06 L316.48,154.09 L317.74,154.1 L319,154.08 L320.26,154.04 L321.51,153.98 L322.77,153.9 L324.03,153.81 L325.29,153.71 L326.55,153.61 L327.81,153.51 L329.07,153.41 L330.32,153.33 L331.58,153.26 L332.84,153.21 L334.1,153.18 L335.36,153.18 L336.62,153.19 L337.88,153.23 L339.13,153.29 L340.39,153.37 L341.65,153.47 L341.65,159.8 Z" fill="rgba(255,190,188,0.72)" stroke="none" stroke-width="1" />
<path d="M64.77,152.9 L66.03,152.86 L67.29,152.8 L68.55,152.71 L69.81,152.61 L71.07,152.49 L72.33,152.35 L73.58,152.2 L74.84,152.04 L76.1,151.87 L77.36,151.7 L78.62,151.53 L79.88,151.36 L81.13,151.2 L82.39,151.05 L83.65,150.92 L84.91,150.8 L86.17,150.7 L87.43,150.62 L88.69,150.56 L89.94,150.52 L91.2,150.49 L92.46,150.48 L93.72,150.48 L94.98,150.48 L96.24,150.5 L97.5,150.51 L98.75,150.52 L100.01,150.51 L101.27,150.5 L102.53,150.46 L103.79,150.4 L105.05,150.32 L106.31,150.2 L107.56,150.06 L108.82,149.87 L110.08,149.65 L111.34,149.4 L112.6,149.11 L113.86,148.78 L115.12,148.42 L116.37,148.03 L117.63,147.61 L118.89,147.16 L120.15,146.69 L121.41,146.2 L122.67,145.7 L123.92,145.17 L125.18,144.64 L126.44,144.09 L127.7,143.52 L128.96,142.95 L130.22,142.36 L131.48,141.75 L132.73,141.13 L133.99,140.48 L135.25,139.8 L136.51,139.09 L137.77,138.34 L139.03,137.54 L140.29,136.69 L141.54,135.77 L142.8,134.79 L144.06,133.72 L145.32,132.57 L146.58,131.33 L147.84,129.98 L149.1,128.54 L150.35,126.98 L151.61,125.31 L152.87,123.52 L154.13,121.6 L155.39,119.57 L156.65,117.41 L157.91,115.12 L159.16,112.72 L160.42,110.19 L161.68,107.54 L162.94,104.78 L164.2,101.91 L165.46,98.94 L166.72,95.88 L167.97,92.73 L169.23,89.51 L170.49,86.24 L171.75,82.94 L173.01,79.62 L174.27,76.3 L175.52,73.03 L176.78,69.83 L178.04,66.73 L179.3,63.77 L180.56,60.99 L181.82,58.44 L183.08,56.15 L184.33,54.16 L185.59,52.51 L186.85,51.23 L188.11,50.35 L189.37,49.88 L190.63,49.83 L191.89,50.15 L193.14,50.82 L194.4,51.85 L195.66,53.2 L196.92,54.88 L198.18,56.85 L199.44,59.09 L200.7,61.59 L201.95,64.31 L203.21,67.21 L204.47,70.29 L205.73,73.49 L206.99,76.8 L208.25,80.19 L209.51,83.62 L210.76,87.07 L212.02,90.53 L213.28,93.96 L214.54,97.34 L215.8,100.67 L217.06,103.92 L218.31,107.08 L219.57,110.13 L220.83,113.08 L222.09,115.9 L223.35,118.6 L224.61,121.17 L225.87,123.6 L227.12,125.89 L228.38,128.04 L229.64,130.05 L230.9,131.93 L232.16,133.67 L233.42,135.27 L234.68,136.75 L235.93,138.1 L237.19,139.34 L238.45,140.46 L239.71,141.48 L240.97,142.4 L242.23,143.22 L243.49,143.97 L244.74,144.64 L246,145.24 L247.26,145.77 L248.52,146.26 L249.78,146.69 L251.04,147.08 L252.3,147.43 L253.55,147.75 L254.81,148.04 L256.07,148.3 L257.33,148.54 L258.59,148.75 L259.85,148.95 L261.11,149.13 L262.36,149.29 L263.62,149.43 L264.88,149.56 L266.14,149.67 L267.4,149.76 L268.66,149.84 L269.91,149.9 L271.17,149.95 L272.43,149.99 L273.69,150.01 L274.95,150.02 L276.21,150.02 L277.47,150.02 L278.72,150.01 L279.98,150.01 L281.24,150 L282.5,150.01 L283.76,150.02 L285.02,150.04 L286.28,150.08 L287.53,150.14 L288.79,150.21 L290.05,150.31 L291.31,150.42 L292.57,150.56 L293.83,150.73 L295.09,150.91 L296.34,151.11 L297.6,151.33 L298.86,151.56 L300.12,151.81 L301.38,152.06 L302.64,152.31 L303.9,152.56 L305.15,152.8 L306.41,153.04 L307.67,153.25 L308.93,153.45 L310.19,153.63 L311.45,153.78 L312.71,153.9 L313.96,153.99 L315.22,154.06 L316.48,154.09 L317.74,154.1 L319,154.08 L320.26,154.04 L321.51,153.98 L322.77,153.9 L324.03,153.81 L325.29,153.71 L326.55,153.61 L327.81,153.51 L329.07,153.41 L330.32,153.33 L331.58,153.26 L332.84,153.21 L334.1,153.18 L335.36,153.18 L336.62,153.19 L337.88,153.23 L339.13,153.29 L340.39,153.37 L341.65,153.47" fill="none" stroke="#111" stroke-width="0.75" />
<path d="M60.84,164.8 L60.84,158.9 L62.1,158.91 L63.36,158.93 L64.62,158.96 L65.88,158.99 L67.14,159.01 L68.39,159.04 L69.65,159.07 L70.91,159.09 L72.17,159.11 L73.43,159.12 L74.69,159.12 L75.95,159.12 L77.2,159.1 L78.46,159.07 L79.72,159.03 L80.98,158.97 L82.24,158.9 L83.5,158.82 L84.76,158.72 L86.01,158.6 L87.27,158.47 L88.53,158.32 L89.79,158.15 L91.05,157.97 L92.31,157.77 L93.57,157.55 L94.82,157.32 L96.08,157.07 L97.34,156.81 L98.6,156.53 L99.86,156.24 L101.12,155.93 L102.37,155.61 L103.63,155.28 L104.89,154.93 L106.15,154.58 L107.41,154.21 L108.67,153.83 L109.93,153.43 L111.18,153.03 L112.44,152.61 L113.7,152.18 L114.96,151.74 L116.22,151.28 L117.48,150.81 L118.74,150.32 L119.99,149.82 L121.25,149.29 L122.51,148.75 L123.77,148.18 L125.03,147.59 L126.29,146.96 L127.55,146.31 L128.8,145.62 L130.06,144.9 L131.32,144.14 L132.58,143.33 L133.84,142.48 L135.1,141.57 L136.36,140.61 L137.61,139.58 L138.87,138.49 L140.13,137.33 L141.39,136.09 L142.65,134.78 L143.91,133.37 L145.17,131.88 L146.42,130.29 L147.68,128.6 L148.94,126.8 L150.2,124.89 L151.46,122.86 L152.72,120.71 L153.97,118.44 L155.23,116.05 L156.49,113.54 L157.75,110.9 L159.01,108.13 L160.27,105.26 L161.53,102.27 L162.78,99.18 L164.04,96 L165.3,92.76 L166.56,89.46 L167.82,86.13 L169.08,82.8 L170.34,79.5 L171.59,76.26 L172.85,73.13 L174.11,70.13 L175.37,67.31 L176.63,64.72 L177.89,62.39 L179.15,60.36 L180.4,58.67 L181.66,57.35 L182.92,56.43 L184.18,55.91 L185.44,55.81 L186.7,56.09 L187.96,56.71 L189.21,57.67 L190.47,58.97 L191.73,60.58 L192.99,62.48 L194.25,64.67 L195.51,67.1 L196.76,69.77 L198.02,72.63 L199.28,75.67 L200.54,78.85 L201.8,82.14 L203.06,85.52 L204.32,88.96 L205.57,92.42 L206.83,95.89 L208.09,99.34 L209.35,102.75 L210.61,106.1 L211.87,109.36 L213.13,112.53 L214.38,115.59 L215.64,118.54 L216.9,121.35 L218.16,124.02 L219.42,126.56 L220.68,128.95 L221.94,131.2 L223.19,133.31 L224.45,135.27 L225.71,137.09 L226.97,138.78 L228.23,140.34 L229.49,141.77 L230.75,143.09 L232,144.29 L233.26,145.38 L234.52,146.38 L235.78,147.29 L237.04,148.1 L238.3,148.84 L239.56,149.5 L240.81,150.1 L242.07,150.63 L243.33,151.11 L244.59,151.53 L245.85,151.91 L247.11,152.24 L248.36,152.53 L249.62,152.78 L250.88,153.01 L252.14,153.2 L253.4,153.37 L254.66,153.52 L255.92,153.64 L257.17,153.75 L258.43,153.85 L259.69,153.93 L260.95,154 L262.21,154.06 L263.47,154.12 L264.73,154.17 L265.98,154.22 L267.24,154.27 L268.5,154.32 L269.76,154.38 L271.02,154.43 L272.28,154.5 L273.54,154.57 L274.79,154.64 L276.05,154.73 L277.31,154.82 L278.57,154.93 L279.83,155.04 L281.09,155.16 L282.35,155.3 L283.6,155.44 L284.86,155.59 L286.12,155.75 L287.38,155.92 L288.64,156.1 L289.9,156.28 L291.16,156.46 L292.41,156.65 L293.67,156.85 L294.93,157.04 L296.19,157.23 L297.45,157.42 L298.71,157.61 L299.96,157.79 L301.22,157.97 L302.48,158.13 L303.74,158.29 L305,158.44 L306.26,158.57 L307.52,158.69 L308.77,158.8 L310.03,158.9 L311.29,158.97 L312.55,159.04 L313.81,159.08 L315.07,159.12 L316.33,159.13 L317.58,159.13 L318.84,159.12 L320.1,159.1 L321.36,159.06 L322.62,159.01 L323.88,158.95 L325.14,158.89 L326.39,158.81 L327.65,158.73 L328.91,158.65 L330.17,158.57 L331.43,158.49 L332.69,158.4 L333.95,158.33 L335.2,158.26 L336.46,158.19 L337.72,158.14 L337.72,164.8 Z" fill="rgba(255,158,158,0.72)" stroke="none" stroke-width="1" />
<path d="M60.84,158.9 L62.1,158.91 L63.36,158.93 L64.62,158.96 L65.88,158.99 L67.14,159.01 L68.39,159.04 L69.65,159.07 L70.91,159.09 L72.17,159.11 L73.43,159.12 L74.69,159.12 L75.95,159.12 L77.2,159.1 L78.46,159.07 L79.72,159.03 L80.98,158.97 L82.24,158.9 L83.5,158.82 L84.76,158.72 L86.01,158.6 L87.27,158.47 L88.53,158.32 L89.79,158.15 L91.05,157.97 L92.31,157.77 L93.57,157.55 L94.82,157.32 L96.08,157.07 L97.34,156.81 L98.6,156.53 L99.86,156.24 L101.12,155.93 L102.37,155.61 L103.63,155.28 L104.89,154.93 L106.15,154.58 L107.41,154.21 L108.67,153.83 L109.93,153.43 L111.18,153.03 L112.44,152.61 L113.7,152.18 L114.96,151.74 L116.22,151.28 L117.48,150.81 L118.74,150.32 L119.99,149.82 L121.25,149.29 L122.51,148.75 L123.77,148.18 L125.03,147.59 L126.29,146.96 L127.55,146.31 L128.8,145.62 L130.06,144.9 L131.32,144.14 L132.58,143.33 L133.84,142.48 L135.1,141.57 L136.36,140.61 L137.61,139.58 L138.87,138.49 L140.13,137.33 L141.39,136.09 L142.65,134.78 L143.91,133.37 L145.17,131.88 L146.42,130.29 L147.68,128.6 L148.94,126.8 L150.2,124.89 L151.46,122.86 L152.72,120.71 L153.97,118.44 L155.23,116.05 L156.49,113.54 L157.75,110.9 L159.01,108.13 L160.27,105.26 L161.53,102.27 L162.78,99.18 L164.04,96 L165.3,92.76 L166.56,89.46 L167.82,86.13 L169.08,82.8 L170.34,79.5 L171.59,76.26 L172.85,73.13 L174.11,70.13 L175.37,67.31 L176.63,64.72 L177.89,62.39 L179.15,60.36 L180.4,58.67 L181.66,57.35 L182.92,56.43 L184.18,55.91 L185.44,55.81 L186.7,56.09 L187.96,56.71 L189.21,57.67 L190.47,58.97 L191.73,60.58 L192.99,62.48 L194.25,64.67 L195.51,67.1 L196.76,69.77 L198.02,72.63 L199.28,75.67 L200.54,78.85 L201.8,82.14 L203.06,85.52 L204.32,88.96 L205.57,92.42 L206.83,95.89 L208.09,99.34 L209.35,102.75 L210.61,106.1 L211.87,109.36 L213.13,112.53 L214.38,115.59 L215.64,118.54 L216.9,121.35 L218.16,124.02 L219.42,126.56 L220.68,128.95 L221.94,131.2 L223.19,133.31 L224.45,135.27 L225.71,137.09 L226.97,138.78 L228.23,140.34 L229.49,141.77 L230.75,143.09 L232,144.29 L233.26,145.38 L234.52,146.38 L235.78,147.29 L237.04,148.1 L238.3,148.84 L239.56,149.5 L240.81,150.1 L242.07,150.63 L243.33,151.11 L244.59,151.53 L245.85,151.91 L247.11,152.24 L248.36,152.53 L249.62,152.78 L250.88,153.01 L252.14,153.2 L253.4,153.37 L254.66,153.52 L255.92,153.64 L257.17,153.75 L258.43,153.85 L259.69,153.93 L260.95,154 L262.21,154.06 L263.47,154.12 L264.73,154.17 L265.98,154.22 L267.24,154.27 L268.5,154.32 L269.76,154.38 L271.02,154.43 L272.28,154.5 L273.54,154.57 L274.79,154.64 L276.05,154.73 L277.31,154.82 L278.57,154.93 L279.83,155.04 L281.09,155.16 L282.35,155.3 L283.6,155.44 L284.86,155.59 L286.12,155.75 L287.38,155.92 L288.64,156.1 L289.9,156.28 L291.16,156.46 L292.41,156.65 L293.67,156.85 L294.93,157.04 L296.19,157.23 L297.45,157.42 L298.71,157.61 L299.96,157.79 L301.22,157.97 L302.48,158.13 L303.74,158.29 L305,158.44 L306.26,158.57 L307.52,158.69 L308.77,158.8 L310.03,158.9 L311.29,158.97 L312.55,159.04 L313.81,159.08 L315.07,159.12 L316.33,159.13 L317.58,159.13 L318.84,159.12 L320.1,159.1 L321.36,159.06 L322.62,159.01 L323.88,158.95 L325.14,158.89 L326.39,158.81 L327.65,158.73 L328.91,158.65 L330.17,158.57 L331.43,158.49 L332.69,158.4 L333.95,158.33 L335.2,158.26 L336.46,158.19 L337.72,158.14" fill="none" stroke="#111" stroke-width="0.75" />
<path d="M56.52,170.3 L56.52,163.8 L57.78,163.76 L59.04,163.71 L60.3,163.67 L61.55,163.62 L62.81,163.57 L64.07,163.53 L65.33,163.48 L66.59,163.44 L67.85,163.39 L69.11,163.35 L70.36,163.32 L71.62,163.28 L72.88,163.25 L74.14,163.21 L75.4,163.18 L76.66,163.14 L77.91,163.1 L79.17,163.06 L80.43,163.01 L81.69,162.94 L82.95,162.87 L84.21,162.78 L85.47,162.67 L86.72,162.55 L87.98,162.4 L89.24,162.23 L90.5,162.04 L91.76,161.82 L93.02,161.57 L94.28,161.3 L95.53,161.01 L96.79,160.69 L98.05,160.35 L99.31,159.99 L100.57,159.6 L101.83,159.2 L103.09,158.79 L104.34,158.36 L105.6,157.92 L106.86,157.48 L108.12,157.02 L109.38,156.56 L110.64,156.09 L111.9,155.62 L113.15,155.15 L114.41,154.67 L115.67,154.18 L116.93,153.68 L118.19,153.16 L119.45,152.64 L120.71,152.09 L121.96,151.52 L123.22,150.92 L124.48,150.29 L125.74,149.61 L127,148.9 L128.26,148.13 L129.51,147.31 L130.77,146.43 L132.03,145.49 L133.29,144.47 L134.55,143.38 L135.81,142.21 L137.07,140.96 L138.32,139.61 L139.58,138.17 L140.84,136.64 L142.1,135.01 L143.36,133.27 L144.62,131.42 L145.88,129.46 L147.13,127.39 L148.39,125.21 L149.65,122.9 L150.91,120.48 L152.17,117.94 L153.43,115.28 L154.69,112.5 L155.94,109.61 L157.2,106.62 L158.46,103.53 L159.72,100.35 L160.98,97.11 L162.24,93.83 L163.5,90.52 L164.75,87.21 L166.01,83.94 L167.27,80.74 L168.53,77.65 L169.79,74.71 L171.05,71.96 L172.3,69.44 L173.56,67.21 L174.82,65.28 L176.08,63.71 L177.34,62.51 L178.6,61.71 L179.86,61.33 L181.11,61.36 L182.37,61.75 L183.63,62.49 L184.89,63.57 L186.15,64.98 L187.41,66.69 L188.67,68.7 L189.92,70.99 L191.18,73.52 L192.44,76.27 L193.7,79.23 L194.96,82.35 L196.22,85.61 L197.48,88.98 L198.73,92.43 L199.99,95.93 L201.25,99.46 L202.51,102.99 L203.77,106.48 L205.03,109.93 L206.29,113.3 L207.54,116.57 L208.8,119.74 L210.06,122.78 L211.32,125.67 L212.58,128.42 L213.84,131.02 L215.1,133.45 L216.35,135.72 L217.61,137.83 L218.87,139.78 L220.13,141.58 L221.39,143.23 L222.65,144.73 L223.9,146.11 L225.16,147.36 L226.42,148.5 L227.68,149.53 L228.94,150.47 L230.2,151.32 L231.46,152.1 L232.71,152.81 L233.97,153.46 L235.23,154.05 L236.49,154.6 L237.75,155.1 L239.01,155.56 L240.27,156 L241.52,156.4 L242.78,156.77 L244.04,157.11 L245.3,157.44 L246.56,157.74 L247.82,158.01 L249.08,158.27 L250.33,158.51 L251.59,158.74 L252.85,158.94 L254.11,159.14 L255.37,159.32 L256.63,159.49 L257.89,159.64 L259.14,159.8 L260.4,159.94 L261.66,160.09 L262.92,160.23 L264.18,160.37 L265.44,160.51 L266.69,160.65 L267.95,160.79 L269.21,160.94 L270.47,161.09 L271.73,161.24 L272.99,161.4 L274.25,161.55 L275.5,161.7 L276.76,161.85 L278.02,162 L279.28,162.14 L280.54,162.27 L281.8,162.39 L283.06,162.5 L284.31,162.59 L285.57,162.67 L286.83,162.74 L288.09,162.78 L289.35,162.82 L290.61,162.83 L291.87,162.83 L293.12,162.81 L294.38,162.78 L295.64,162.74 L296.9,162.7 L298.16,162.64 L299.42,162.59 L300.68,162.53 L301.93,162.48 L303.19,162.43 L304.45,162.4 L305.71,162.37 L306.97,162.36 L308.23,162.36 L309.49,162.37 L310.74,162.41 L312,162.46 L313.26,162.52 L314.52,162.6 L315.78,162.7 L317.04,162.81 L318.29,162.93 L319.55,163.06 L320.81,163.2 L322.07,163.34 L323.33,163.49 L324.59,163.64 L325.85,163.78 L327.1,163.92 L328.36,164.06 L329.62,164.19 L330.88,164.32 L332.14,164.43 L333.4,164.54 L333.4,170.3 Z" fill="rgba(255,130,130,0.72)" stroke="none" stroke-width="1" />
<path d="M56.52,163.8 L57.78,163.76 L59.04,163.71 L60.3,163.67 L61.55,163.62 L62.81,163.57 L64.07,163.53 L65.33,163.48 L66.59,163.44 L67.85,163.39 L69.11,163.35 L70.36,163.32 L71.62,163.28 L72.88,163.25 L74.14,163.21 L75.4,163.18 L76.66,163.14 L77.91,163.1 L79.17,163.06 L80.43,163.01 L81.69,162.94 L82.95,162.87 L84.21,162.78 L85.47,162.67 L86.72,162.55 L87.98,162.4 L89.24,162.23 L90.5,162.04 L91.76,161.82 L93.02,161.57 L94.28,161.3 L95.53,161.01 L96.79,160.69 L98.05,160.35 L99.31,159.99 L100.57,159.6 L101.83,159.2 L103.09,158.79 L104.34,158.36 L105.6,157.92 L106.86,157.48 L108.12,157.02 L109.38,156.56 L110.64,156.09 L111.9,155.62 L113.15,155.15 L114.41,154.67 L115.67,154.18 L116.93,153.68 L118.19,153.16 L119.45,152.64 L120.71,152.09 L121.96,151.52 L123.22,150.92 L124.48,150.29 L125.74,149.61 L127,148.9 L128.26,148.13 L129.51,147.31 L130.77,146.43 L132.03,145.49 L133.29,144.47 L134.55,143.38 L135.81,142.21 L137.07,140.96 L138.32,139.61 L139.58,138.17 L140.84,136.64 L142.1,135.01 L143.36,133.27 L144.62,131.42 L145.88,129.46 L147.13,127.39 L148.39,125.21 L149.65,122.9 L150.91,120.48 L152.17,117.94 L153.43,115.28 L154.69,112.5 L155.94,109.61 L157.2,106.62 L158.46,103.53 L159.72,100.35 L160.98,97.11 L162.24,93.83 L163.5,90.52 L164.75,87.21 L166.01,83.94 L167.27,80.74 L168.53,77.65 L169.79,74.71 L171.05,71.96 L172.3,69.44 L173.56,67.21 L174.82,65.28 L176.08,63.71 L177.34,62.51 L178.6,61.71 L179.86,61.33 L181.11,61.36 L182.37,61.75 L183.63,62.49 L184.89,63.57 L186.15,64.98 L187.41,66.69 L188.67,68.7 L189.92,70.99 L191.18,73.52 L192.44,76.27 L193.7,79.23 L194.96,82.35 L196.22,85.61 L197.48,88.98 L198.73,92.43 L199.99,95.93 L201.25,99.46 L202.51,102.99 L203.77,106.48 L205.03,109.93 L206.29,113.3 L207.54,116.57 L208.8,119.74 L210.06,122.78 L211.32,125.67 L212.58,128.42 L213.84,131.02 L215.1,133.45 L216.35,135.72 L217.61,137.83 L218.87,139.78 L220.13,141.58 L221.39,143.23 L222.65,144.73 L223.9,146.11 L225.16,147.36 L226.42,148.5 L227.68,149.53 L228.94,150.47 L230.2,151.32 L231.46,152.1 L232.71,152.81 L233.97,153.46 L235.23,154.05 L236.49,154.6 L237.75,155.1 L239.01,155.56 L240.27,156 L241.52,156.4 L242.78,156.77 L244.04,157.11 L245.3,157.44 L246.56,157.74 L247.82,158.01 L249.08,158.27 L250.33,158.51 L251.59,158.74 L252.85,158.94 L254.11,159.14 L255.37,159.32 L256.63,159.49 L257.89,159.64 L259.14,159.8 L260.4,159.94 L261.66,160.09 L262.92,160.23 L264.18,160.37 L265.44,160.51 L266.69,160.65 L267.95,160.79 L269.21,160.94 L270.47,161.09 L271.73,161.24 L272.99,161.4 L274.25,161.55 L275.5,161.7 L276.76,161.85 L278.02,162 L279.28,162.14 L280.54,162.27 L281.8,162.39 L283.06,162.5 L284.31,162.59 L285.57,162.67 L286.83,162.74 L288.09,162.78 L289.35,162.82 L290.61,162.83 L291.87,162.83 L293.12,162.81 L294.38,162.78 L295.64,162.74 L296.9,162.7 L298.16,162.64 L299.42,162.59 L300.68,162.53 L301.93,162.48 L303.19,162.43 L304.45,162.4 L305.71,162.37 L306.97,162.36 L308.23,162.36 L309.49,162.37 L310.74,162.41 L312,162.46 L313.26,162.52 L314.52,162.6 L315.78,162.7 L317.04,162.81 L318.29,162.93 L319.55,163.06 L320.81,163.2 L322.07,163.34 L323.33,163.49 L324.59,163.64 L325.85,163.78 L327.1,163.92 L328.36,164.06 L329.62,164.19 L330.88,164.32 L332.14,164.43 L333.4,164.54" fill="none" stroke="#111" stroke-width="0.75" />
<path d="M50.94,177.4 L50.94,172.6 L52.2,172.52 L53.46,172.46 L54.71,172.42 L55.97,172.41 L57.23,172.4 L58.49,172.41 L59.75,172.42 L61.01,172.44 L62.27,172.46 L63.52,172.47 L64.78,172.46 L66.04,172.44 L67.3,172.4 L68.56,172.34 L69.82,172.25 L71.08,172.13 L72.33,171.98 L73.59,171.81 L74.85,171.6 L76.11,171.37 L77.37,171.11 L78.63,170.84 L79.88,170.55 L81.14,170.24 L82.4,169.92 L83.66,169.6 L84.92,169.28 L86.18,168.96 L87.44,168.65 L88.69,168.35 L89.95,168.05 L91.21,167.76 L92.47,167.49 L93.73,167.22 L94.99,166.96 L96.25,166.7 L97.5,166.44 L98.76,166.18 L100.02,165.91 L101.28,165.63 L102.54,165.33 L103.8,165.01 L105.06,164.67 L106.31,164.29 L107.57,163.88 L108.83,163.43 L110.09,162.94 L111.35,162.42 L112.61,161.84 L113.87,161.23 L115.12,160.57 L116.38,159.87 L117.64,159.13 L118.9,158.34 L120.16,157.51 L121.42,156.64 L122.67,155.72 L123.93,154.77 L125.19,153.76 L126.45,152.71 L127.71,151.61 L128.97,150.46 L130.23,149.24 L131.48,147.96 L132.74,146.6 L134,145.16 L135.26,143.63 L136.52,142.01 L137.78,140.28 L139.04,138.43 L140.29,136.47 L141.55,134.37 L142.81,132.15 L144.07,129.79 L145.33,127.29 L146.59,124.66 L147.85,121.89 L149.1,119 L150.36,115.99 L151.62,112.87 L152.88,109.66 L154.14,106.38 L155.4,103.05 L156.66,99.69 L157.91,96.32 L159.17,92.99 L160.43,89.73 L161.69,86.56 L162.95,83.53 L164.21,80.68 L165.47,78.04 L166.72,75.65 L167.98,73.54 L169.24,71.76 L170.5,70.34 L171.76,69.29 L173.02,68.64 L174.27,68.4 L175.53,68.55 L176.79,69.05 L178.05,69.9 L179.31,71.09 L180.57,72.6 L181.83,74.43 L183.08,76.56 L184.34,78.95 L185.6,81.59 L186.86,84.45 L188.12,87.5 L189.38,90.7 L190.64,94.03 L191.89,97.45 L193.15,100.92 L194.41,104.42 L195.67,107.92 L196.93,111.38 L198.19,114.79 L199.45,118.13 L200.7,121.37 L201.96,124.5 L203.22,127.51 L204.48,130.39 L205.74,133.14 L207,135.74 L208.26,138.21 L209.51,140.53 L210.77,142.72 L212.03,144.77 L213.29,146.69 L214.55,148.47 L215.81,150.14 L217.07,151.68 L218.32,153.1 L219.58,154.42 L220.84,155.63 L222.1,156.74 L223.36,157.75 L224.62,158.67 L225.87,159.5 L227.13,160.26 L228.39,160.93 L229.65,161.54 L230.91,162.09 L232.17,162.58 L233.43,163.02 L234.68,163.42 L235.94,163.78 L237.2,164.11 L238.46,164.42 L239.72,164.71 L240.98,164.98 L242.24,165.25 L243.49,165.52 L244.75,165.79 L246.01,166.05 L247.27,166.32 L248.53,166.6 L249.79,166.87 L251.05,167.15 L252.3,167.43 L253.56,167.7 L254.82,167.96 L256.08,168.21 L257.34,168.45 L258.6,168.67 L259.86,168.86 L261.11,169.03 L262.37,169.17 L263.63,169.27 L264.89,169.34 L266.15,169.38 L267.41,169.38 L268.66,169.36 L269.92,169.3 L271.18,169.22 L272.44,169.12 L273.7,169 L274.96,168.88 L276.22,168.75 L277.47,168.62 L278.73,168.5 L279.99,168.4 L281.25,168.32 L282.51,168.27 L283.77,168.25 L285.03,168.26 L286.28,168.31 L287.54,168.4 L288.8,168.52 L290.06,168.68 L291.32,168.88 L292.58,169.1 L293.84,169.35 L295.09,169.62 L296.35,169.9 L297.61,170.19 L298.87,170.48 L300.13,170.77 L301.39,171.04 L302.65,171.29 L303.9,171.52 L305.16,171.72 L306.42,171.89 L307.68,172.03 L308.94,172.13 L310.2,172.19 L311.46,172.22 L312.71,172.22 L313.97,172.18 L315.23,172.13 L316.49,172.05 L317.75,171.95 L319.01,171.84 L320.26,171.73 L321.52,171.61 L322.78,171.5 L324.04,171.4 L325.3,171.31 L326.56,171.23 L327.82,171.17 L327.82,177.4 Z" fill="rgba(255,100,100,0.72)" stroke="none" stroke-width="1" />
<path d="M50.94,172.6 L52.2,172.52 L53.46,172.46 L54.71,172.42 L55.97,172.41 L57.23,172.4 L58.49,172.41 L59.75,172.42 L61.01,172.44 L62.27,172.46 L63.52,172.47 L64.78,172.46 L66.04,172.44 L67.3,172.4 L68.56,172.34 L69.82,172.25 L71.08,172.13 L72.33,171.98 L73.59,171.81 L74.85,171.6 L76.11,171.37 L77.37,171.11 L78.63,170.84 L79.88,170.55 L81.14,170.24 L82.4,169.92 L83.66,169.6 L84.92,169.28 L86.18,168.96 L87.44,168.65 L88.69,168.35 L89.95,168.05 L91.21,167.76 L92.47,167.49 L93.73,167.22 L94.99,166.96 L96.25,166.7 L97.5,166.44 L98.76,166.18 L100.02,165.91 L101.28,165.63 L102.54,165.33 L103.8,165.01 L105.06,164.67 L106.31,164.29 L107.57,163.88 L108.83,163.43 L110.09,162.94 L111.35,162.42 L112.61,161.84 L113.87,161.23 L115.12,160.57 L116.38,159.87 L117.64,159.13 L118.9,158.34 L120.16,157.51 L121.42,156.64 L122.67,155.72 L123.93,154.77 L125.19,153.76 L126.45,152.71 L127.71,151.61 L128.97,150.46 L130.23,149.24 L131.48,147.96 L132.74,146.6 L134,145.16 L135.26,143.63 L136.52,142.01 L137.78,140.28 L139.04,138.43 L140.29,136.47 L141.55,134.37 L142.81,132.15 L144.07,129.79 L145.33,127.29 L146.59,124.66 L147.85,121.89 L149.1,119 L150.36,115.99 L151.62,112.87 L152.88,109.66 L154.14,106.38 L155.4,103.05 L156.66,99.69 L157.91,96.32 L159.17,92.99 L160.43,89.73 L161.69,86.56 L162.95,83.53 L164.21,80.68 L165.47,78.04 L166.72,75.65 L167.98,73.54 L169.24,71.76 L170.5,70.34 L171.76,69.29 L173.02,68.64 L174.27,68.4 L175.53,68.55 L176.79,69.05 L178.05,69.9 L179.31,71.09 L180.57,72.6 L181.83,74.43 L183.08,76.56 L184.34,78.95 L185.6,81.59 L186.86,84.45 L188.12,87.5 L189.38,90.7 L190.64,94.03 L191.89,97.45 L193.15,100.92 L194.41,104.42 L195.67,107.92 L196.93,111.38 L198.19,114.79 L199.45,118.13 L200.7,121.37 L201.96,124.5 L203.22,127.51 L204.48,130.39 L205.74,133.14 L207,135.74 L208.26,138.21 L209.51,140.53 L210.77,142.72 L212.03,144.77 L213.29,146.69 L214.55,148.47 L215.81,150.14 L217.07,151.68 L218.32,153.1 L219.58,154.42 L220.84,155.63 L222.1,156.74 L223.36,157.75 L224.62,158.67 L225.87,159.5 L227.13,160.26 L228.39,160.93 L229.65,161.54 L230.91,162.09 L232.17,162.58 L233.43,163.02 L234.68,163.42 L235.94,163.78 L237.2,164.11 L238.46,164.42 L239.72,164.71 L240.98,164.98 L242.24,165.25 L243.49,165.52 L244.75,165.79 L246.01,166.05 L247.27,166.32 L248.53,166.6 L249.79,166.87 L251.05,167.15 L252.3,167.43 L253.56,167.7 L254.82,167.96 L256.08,168.21 L257.34,168.45 L258.6,168.67 L259.86,168.86 L261.11,169.03 L262.37,169.17 L263.63,169.27 L264.89,169.34 L266.15,169.38 L267.41,169.38 L268.66,169.36 L269.92,169.3 L271.18,169.22 L272.44,169.12 L273.7,169 L274.96,168.88 L276.22,168.75 L277.47,168.62 L278.73,168.5 L279.99,168.4 L281.25,168.32 L282.51,168.27 L283.77,168.25 L285.03,168.26 L286.28,168.31 L287.54,168.4 L288.8,168.52 L290.06,168.68 L291.32,168.88 L292.58,169.1 L293.84,169.35 L295.09,169.62 L296.35,169.9 L297.61,170.19 L298.87,170.48 L300.13,170.77 L301.39,171.04 L302.65,171.29 L303.9,171.52 L305.16,171.72 L306.42,171.89 L307.68,172.03 L308.94,172.13 L310.2,172.19 L311.46,172.22 L312.71,172.22 L313.97,172.18 L315.23,172.13 L316.49,172.05 L317.75,171.95 L319.01,171.84 L320.26,171.73 L321.52,171.61 L322.78,171.5 L324.04,171.4 L325.3,171.31 L326.56,171.23 L327.82,171.17" fill="none" stroke="#111" stroke-width="0.75" />
<path d="M47.48,181.8 L47.48,175.9 L48.74,175.8 L50,175.74 L51.26,175.7 L52.51,175.69 L53.77,175.71 L55.03,175.75 L56.29,175.82 L57.55,175.91 L58.81,176.01 L60.07,176.12 L61.32,176.23 L62.58,176.34 L63.84,176.44 L65.1,176.52 L66.36,176.59 L67.62,176.63 L68.87,176.63 L70.13,176.61 L71.39,176.54 L72.65,176.44 L73.91,176.29 L75.17,176.1 L76.43,175.88 L77.68,175.61 L78.94,175.31 L80.2,174.98 L81.46,174.62 L82.72,174.24 L83.98,173.84 L85.24,173.42 L86.49,173 L87.75,172.58 L89.01,172.15 L90.27,171.73 L91.53,171.32 L92.79,170.92 L94.05,170.53 L95.3,170.15 L96.56,169.78 L97.82,169.43 L99.08,169.08 L100.34,168.73 L101.6,168.39 L102.86,168.04 L104.11,167.68 L105.37,167.31 L106.63,166.91 L107.89,166.49 L109.15,166.04 L110.41,165.55 L111.66,165.02 L112.92,164.44 L114.18,163.8 L115.44,163.11 L116.7,162.36 L117.96,161.55 L119.22,160.67 L120.47,159.72 L121.73,158.7 L122.99,157.61 L124.25,156.45 L125.51,155.21 L126.77,153.89 L128.03,152.49 L129.28,151.02 L130.54,149.46 L131.8,147.81 L133.06,146.07 L134.32,144.24 L135.58,142.31 L136.84,140.28 L138.09,138.14 L139.35,135.89 L140.61,133.52 L141.87,131.04 L143.13,128.44 L144.39,125.73 L145.65,122.9 L146.9,119.95 L148.16,116.9 L149.42,113.76 L150.68,110.54 L151.94,107.26 L153.2,103.94 L154.46,100.6 L155.71,97.28 L156.97,94.01 L158.23,90.83 L159.49,87.77 L160.75,84.87 L162.01,82.19 L163.26,79.75 L164.52,77.6 L165.78,75.78 L167.04,74.32 L168.3,73.24 L169.56,72.56 L170.82,72.3 L172.07,72.44 L173.33,72.93 L174.59,73.76 L175.85,74.93 L177.11,76.43 L178.37,78.23 L179.63,80.33 L180.88,82.69 L182.14,85.3 L183.4,88.13 L184.66,91.14 L185.92,94.32 L187.18,97.63 L188.44,101.03 L189.69,104.51 L190.95,108.02 L192.21,111.53 L193.47,115.03 L194.73,118.49 L195.99,121.87 L197.25,125.17 L198.5,128.35 L199.76,131.42 L201.02,134.35 L202.28,137.14 L203.54,139.78 L204.8,142.28 L206.05,144.62 L207.31,146.82 L208.57,148.87 L209.83,150.78 L211.09,152.56 L212.35,154.22 L213.61,155.76 L214.86,157.19 L216.12,158.51 L217.38,159.74 L218.64,160.89 L219.9,161.94 L221.16,162.92 L222.42,163.83 L223.67,164.67 L224.93,165.44 L226.19,166.14 L227.45,166.78 L228.71,167.36 L229.97,167.88 L231.23,168.35 L232.48,168.76 L233.74,169.11 L235,169.42 L236.26,169.67 L237.52,169.88 L238.78,170.05 L240.04,170.19 L241.29,170.29 L242.55,170.37 L243.81,170.43 L245.07,170.47 L246.33,170.51 L247.59,170.55 L248.85,170.59 L250.1,170.64 L251.36,170.7 L252.62,170.79 L253.88,170.9 L255.14,171.03 L256.4,171.2 L257.65,171.39 L258.91,171.61 L260.17,171.86 L261.43,172.13 L262.69,172.42 L263.95,172.73 L265.21,173.06 L266.46,173.39 L267.72,173.72 L268.98,174.05 L270.24,174.36 L271.5,174.66 L272.76,174.94 L274.02,175.19 L275.27,175.41 L276.53,175.59 L277.79,175.74 L279.05,175.84 L280.31,175.91 L281.57,175.94 L282.83,175.93 L284.08,175.89 L285.34,175.82 L286.6,175.72 L287.86,175.6 L289.12,175.47 L290.38,175.33 L291.64,175.18 L292.89,175.03 L294.15,174.89 L295.41,174.76 L296.67,174.65 L297.93,174.56 L299.19,174.5 L300.45,174.46 L301.7,174.45 L302.96,174.46 L304.22,174.51 L305.48,174.58 L306.74,174.67 L308,174.78 L309.25,174.91 L310.51,175.05 L311.77,175.2 L313.03,175.36 L314.29,175.51 L315.55,175.66 L316.81,175.8 L318.06,175.93 L319.32,176.04 L320.58,176.14 L321.84,176.21 L323.1,176.27 L324.36,176.31 L324.36,181.8 Z" fill="rgba(255,72,72,0.72)" stroke="none" stroke-width="1" />
<path d="M47.48,175.9 L48.74,175.8 L50,175.74 L51.26,175.7 L52.51,175.69 L53.77,175.71 L55.03,175.75 L56.29,175.82 L57.55,175.91 L58.81,176.01 L60.07,176.12 L61.32,176.23 L62.58,176.34 L63.84,176.44 L65.1,176.52 L66.36,176.59 L67.62,176.63 L68.87,176.63 L70.13,176.61 L71.39,176.54 L72.65,176.44 L73.91,176.29 L75.17,176.1 L76.43,175.88 L77.68,175.61 L78.94,175.31 L80.2,174.98 L81.46,174.62 L82.72,174.24 L83.98,173.84 L85.24,173.42 L86.49,173 L87.75,172.58 L89.01,172.15 L90.27,171.73 L91.53,171.32 L92.79,170.92 L94.05,170.53 L95.3,170.15 L96.56,169.78 L97.82,169.43 L99.08,169.08 L100.34,168.73 L101.6,168.39 L102.86,168.04 L104.11,167.68 L105.37,167.31 L106.63,166.91 L107.89,166.49 L109.15,166.04 L110.41,165.55 L111.66,165.02 L112.92,164.44 L114.18,163.8 L115.44,163.11 L116.7,162.36 L117.96,161.55 L119.22,160.67 L120.47,159.72 L121.73,158.7 L122.99,157.61 L124.25,156.45 L125.51,155.21 L126.77,153.89 L128.03,152.49 L129.28,151.02 L130.54,149.46 L131.8,147.81 L133.06,146.07 L134.32,144.24 L135.58,142.31 L136.84,140.28 L138.09,138.14 L139.35,135.89 L140.61,133.52 L141.87,131.04 L143.13,128.44 L144.39,125.73 L145.65,122.9 L146.9,119.95 L148.16,116.9 L149.42,113.76 L150.68,110.54 L151.94,107.26 L153.2,103.94 L154.46,100.6 L155.71,97.28 L156.97,94.01 L158.23,90.83 L159.49,87.77 L160.75,84.87 L162.01,82.19 L163.26,79.75 L164.52,77.6 L165.78,75.78 L167.04,74.32 L168.3,73.24 L169.56,72.56 L170.82,72.3 L172.07,72.44 L173.33,72.93 L174.59,73.76 L175.85,74.93 L177.11,76.43 L178.37,78.23 L179.63,80.33 L180.88,82.69 L182.14,85.3 L183.4,88.13 L184.66,91.14 L185.92,94.32 L187.18,97.63 L188.44,101.03 L189.69,104.51 L190.95,108.02 L192.21,111.53 L193.47,115.03 L194.73,118.49 L195.99,121.87 L197.25,125.17 L198.5,128.35 L199.76,131.42 L201.02,134.35 L202.28,137.14 L203.54,139.78 L204.8,142.28 L206.05,144.62 L207.31,146.82 L208.57,148.87 L209.83,150.78 L211.09,152.56 L212.35,154.22 L213.61,155.76 L214.86,157.19 L216.12,158.51 L217.38,159.74 L218.64,160.89 L219.9,161.94 L221.16,162.92 L222.42,163.83 L223.67,164.67 L224.93,165.44 L226.19,166.14 L227.45,166.78 L228.71,167.36 L229.97,167.88 L231.23,168.35 L232.48,168.76 L233.74,169.11 L235,169.42 L236.26,169.67 L237.52,169.88 L238.78,170.05 L240.04,170.19 L241.29,170.29 L242.55,170.37 L243.81,170.43 L245.07,170.47 L246.33,170.51 L247.59,170.55 L248.85,170.59 L250.1,170.64 L251.36,170.7 L252.62,170.79 L253.88,170.9 L255.14,171.03 L256.4,171.2 L257.65,171.39 L258.91,171.61 L260.17,171.86 L261.43,172.13 L262.69,172.42 L263.95,172.73 L265.21,173.06 L266.46,173.39 L267.72,173.72 L268.98,174.05 L270.24,174.36 L271.5,174.66 L272.76,174.94 L274.02,175.19 L275.27,175.41 L276.53,175.59 L277.79,175.74 L279.05,175.84 L280.31,175.91 L281.57,175.94 L282.83,175.93 L284.08,175.89 L285.34,175.82 L286.6,175.72 L287.86,175.6 L289.12,175.47 L290.38,175.33 L291.64,175.18 L292.89,175.03 L294.15,174.89 L295.41,174.76 L296.67,174.65 L297.93,174.56 L299.19,174.5 L300.45,174.46 L301.7,174.45 L302.96,174.46 L304.22,174.51 L305.48,174.58 L306.74,174.67 L308,174.78 L309.25,174.91 L310.51,175.05 L311.77,175.2 L313.03,175.36 L314.29,175.51 L315.55,175.66 L316.81,175.8 L318.06,175.93 L319.32,176.04 L320.58,176.14 L321.84,176.21 L323.1,176.27 L324.36,176.31" fill="none" stroke="#111" stroke-width="0.75" />
<path d="M38.13,193.7 L38.13,189 L39.38,188.96 L40.64,188.9 L41.9,188.81 L43.16,188.7 L44.42,188.58 L45.68,188.44 L46.93,188.3 L48.19,188.16 L49.45,188.01 L50.71,187.88 L51.97,187.75 L53.23,187.64 L54.49,187.54 L55.74,187.47 L57,187.41 L58.26,187.36 L59.52,187.33 L60.78,187.32 L62.04,187.31 L63.3,187.3 L64.55,187.3 L65.81,187.28 L67.07,187.26 L68.33,187.21 L69.59,187.14 L70.85,187.04 L72.11,186.91 L73.36,186.74 L74.62,186.53 L75.88,186.28 L77.14,185.98 L78.4,185.65 L79.66,185.27 L80.92,184.85 L82.17,184.41 L83.43,183.93 L84.69,183.42 L85.95,182.9 L87.21,182.36 L88.47,181.81 L89.73,181.25 L90.98,180.69 L92.24,180.13 L93.5,179.58 L94.76,179.02 L96.02,178.47 L97.28,177.93 L98.53,177.38 L99.79,176.82 L101.05,176.26 L102.31,175.68 L103.57,175.09 L104.83,174.46 L106.09,173.8 L107.34,173.09 L108.6,172.33 L109.86,171.52 L111.12,170.64 L112.38,169.69 L113.64,168.67 L114.9,167.56 L116.15,166.37 L117.41,165.09 L118.67,163.72 L119.93,162.26 L121.19,160.71 L122.45,159.06 L123.71,157.31 L124.96,155.46 L126.22,153.52 L127.48,151.48 L128.74,149.34 L130,147.1 L131.26,144.75 L132.52,142.3 L133.77,139.74 L135.03,137.07 L136.29,134.3 L137.55,131.43 L138.81,128.45 L140.07,125.38 L141.32,122.23 L142.58,119.01 L143.84,115.74 L145.1,112.44 L146.36,109.14 L147.62,105.87 L148.88,102.67 L150.13,99.59 L151.39,96.65 L152.65,93.92 L153.91,91.42 L155.17,89.22 L156.43,87.34 L157.69,85.82 L158.94,84.7 L160.2,83.99 L161.46,83.71 L162.72,83.83 L163.98,84.31 L165.24,85.14 L166.5,86.31 L167.75,87.81 L169.01,89.61 L170.27,91.7 L171.53,94.06 L172.79,96.65 L174.05,99.46 L175.31,102.45 L176.56,105.61 L177.82,108.89 L179.08,112.28 L180.34,115.75 L181.6,119.26 L182.86,122.78 L184.12,126.3 L185.37,129.79 L186.63,133.21 L187.89,136.55 L189.15,139.79 L190.41,142.91 L191.67,145.9 L192.92,148.73 L194.18,151.41 L195.44,153.93 L196.7,156.28 L197.96,158.47 L199.22,160.49 L200.48,162.36 L201.73,164.07 L202.99,165.65 L204.25,167.09 L205.51,168.42 L206.77,169.64 L208.03,170.76 L209.29,171.8 L210.54,172.77 L211.8,173.68 L213.06,174.53 L214.32,175.34 L215.58,176.1 L216.84,176.83 L218.1,177.53 L219.35,178.2 L220.61,178.83 L221.87,179.43 L223.13,180.01 L224.39,180.54 L225.65,181.04 L226.91,181.5 L228.16,181.93 L229.42,182.3 L230.68,182.64 L231.94,182.93 L233.2,183.19 L234.46,183.4 L235.71,183.57 L236.97,183.7 L238.23,183.81 L239.49,183.89 L240.75,183.95 L242.01,183.99 L243.27,184.02 L244.52,184.05 L245.78,184.07 L247.04,184.11 L248.3,184.15 L249.56,184.21 L250.82,184.28 L252.08,184.37 L253.33,184.48 L254.59,184.61 L255.85,184.75 L257.11,184.91 L258.37,185.08 L259.63,185.26 L260.89,185.44 L262.14,185.62 L263.4,185.79 L264.66,185.95 L265.92,186.1 L267.18,186.22 L268.44,186.33 L269.7,186.41 L270.95,186.46 L272.21,186.5 L273.47,186.5 L274.73,186.49 L275.99,186.45 L277.25,186.4 L278.51,186.34 L279.76,186.28 L281.02,186.21 L282.28,186.15 L283.54,186.1 L284.8,186.06 L286.06,186.05 L287.31,186.06 L288.57,186.09 L289.83,186.16 L291.09,186.25 L292.35,186.38 L293.61,186.53 L294.87,186.7 L296.12,186.9 L297.38,187.11 L298.64,187.34 L299.9,187.57 L301.16,187.81 L302.42,188.04 L303.68,188.25 L304.93,188.46 L306.19,188.63 L307.45,188.79 L308.71,188.91 L309.97,189.01 L311.23,189.07 L312.49,189.1 L313.74,189.1 L315,189.07 L315,193.7 Z" fill="rgba(255,45,45,0.72)" stroke="none" stroke-width="1" />
<path d="M38.13,189 L39.38,188.96 L40.64,188.9 L41.9,188.81 L43.16,188.7 L44.42,188.58 L45.68,188.44 L46.93,188.3 L48.19,188.16 L49.45,188.01 L50.71,187.88 L51.97,187.75 L53.23,187.64 L54.49,187.54 L55.74,187.47 L57,187.41 L58.26,187.36 L59.52,187.33 L60.78,187.32 L62.04,187.31 L63.3,187.3 L64.55,187.3 L65.81,187.28 L67.07,187.26 L68.33,187.21 L69.59,187.14 L70.85,187.04 L72.11,186.91 L73.36,186.74 L74.62,186.53 L75.88,186.28 L77.14,185.98 L78.4,185.65 L79.66,185.27 L80.92,184.85 L82.17,184.41 L83.43,183.93 L84.69,183.42 L85.95,182.9 L87.21,182.36 L88.47,181.81 L89.73,181.25 L90.98,180.69 L92.24,180.13 L93.5,179.58 L94.76,179.02 L96.02,178.47 L97.28,177.93 L98.53,177.38 L99.79,176.82 L101.05,176.26 L102.31,175.68 L103.57,175.09 L104.83,174.46 L106.09,173.8 L107.34,173.09 L108.6,172.33 L109.86,171.52 L111.12,170.64 L112.38,169.69 L113.64,168.67 L114.9,167.56 L116.15,166.37 L117.41,165.09 L118.67,163.72 L119.93,162.26 L121.19,160.71 L122.45,159.06 L123.71,157.31 L124.96,155.46 L126.22,153.52 L127.48,151.48 L128.74,149.34 L130,147.1 L131.26,144.75 L132.52,142.3 L133.77,139.74 L135.03,137.07 L136.29,134.3 L137.55,131.43 L138.81,128.45 L140.07,125.38 L141.32,122.23 L142.58,119.01 L143.84,115.74 L145.1,112.44 L146.36,109.14 L147.62,105.87 L148.88,102.67 L150.13,99.59 L151.39,96.65 L152.65,93.92 L153.91,91.42 L155.17,89.22 L156.43,87.34 L157.69,85.82 L158.94,84.7 L160.2,83.99 L161.46,83.71 L162.72,83.83 L163.98,84.31 L165.24,85.14 L166.5,86.31 L167.75,87.81 L169.01,89.61 L170.27,91.7 L171.53,94.06 L172.79,96.65 L174.05,99.46 L175.31,102.45 L176.56,105.61 L177.82,108.89 L179.08,112.28 L180.34,115.75 L181.6,119.26 L182.86,122.78 L184.12,126.3 L185.37,129.79 L186.63,133.21 L187.89,136.55 L189.15,139.79 L190.41,142.91 L191.67,145.9 L192.92,148.73 L194.18,151.41 L195.44,153.93 L196.7,156.28 L197.96,158.47 L199.22,160.49 L200.48,162.36 L201.73,164.07 L202.99,165.65 L204.25,167.09 L205.51,168.42 L206.77,169.64 L208.03,170.76 L209.29,171.8 L210.54,172.77 L211.8,173.68 L213.06,174.53 L214.32,175.34 L215.58,176.1 L216.84,176.83 L218.1,177.53 L219.35,178.2 L220.61,178.83 L221.87,179.43 L223.13,180.01 L224.39,180.54 L225.65,181.04 L226.91,181.5 L228.16,181.93 L229.42,182.3 L230.68,182.64 L231.94,182.93 L233.2,183.19 L234.46,183.4 L235.71,183.57 L236.97,183.7 L238.23,183.81 L239.49,183.89 L240.75,183.95 L242.01,183.99 L243.27,184.02 L244.52,184.05 L245.78,184.07 L247.04,184.11 L248.3,184.15 L249.56,184.21 L250.82,184.28 L252.08,184.37 L253.33,184.48 L254.59,184.61 L255.85,184.75 L257.11,184.91 L258.37,185.08 L259.63,185.26 L260.89,185.44 L262.14,185.62 L263.4,185.79 L264.66,185.95 L265.92,186.1 L267.18,186.22 L268.44,186.33 L269.7,186.41 L270.95,186.46 L272.21,186.5 L273.47,186.5 L274.73,186.49 L275.99,186.45 L277.25,186.4 L278.51,186.34 L279.76,186.28 L281.02,186.21 L282.28,186.15 L283.54,186.1 L284.8,186.06 L286.06,186.05 L287.31,186.06 L288.57,186.09 L289.83,186.16 L291.09,186.25 L292.35,186.38 L293.61,186.53 L294.87,186.7 L296.12,186.9 L297.38,187.11 L298.64,187.34 L299.9,187.57 L301.16,187.81 L302.42,188.04 L303.68,188.25 L304.93,188.46 L306.19,188.63 L307.45,188.79 L308.71,188.91 L309.97,189.01 L311.23,189.07 L312.49,189.1 L313.74,189.1 L315,189.07" fill="none" stroke="#111" stroke-width="0.75" />
<path d="M32.31,201.1 L32.31,196.5 L33.57,196.38 L34.83,196.25 L36.08,196.11 L37.34,195.96 L38.6,195.8 L39.86,195.63 L41.12,195.46 L42.38,195.28 L43.63,195.1 L44.89,194.93 L46.15,194.75 L47.41,194.58 L48.67,194.42 L49.93,194.27 L51.19,194.12 L52.44,193.99 L53.7,193.87 L54.96,193.75 L56.22,193.65 L57.48,193.56 L58.74,193.47 L60,193.4 L61.25,193.32 L62.51,193.26 L63.77,193.19 L65.03,193.11 L66.29,193.04 L67.55,192.95 L68.81,192.86 L70.06,192.74 L71.32,192.62 L72.58,192.47 L73.84,192.3 L75.1,192.11 L76.36,191.88 L77.62,191.64 L78.87,191.36 L80.13,191.05 L81.39,190.71 L82.65,190.34 L83.91,189.94 L85.17,189.5 L86.42,189.04 L87.68,188.54 L88.94,188.02 L90.2,187.46 L91.46,186.88 L92.72,186.26 L93.98,185.62 L95.23,184.95 L96.49,184.25 L97.75,183.52 L99.01,182.76 L100.27,181.96 L101.53,181.13 L102.79,180.26 L104.04,179.34 L105.3,178.38 L106.56,177.38 L107.82,176.31 L109.08,175.19 L110.34,174.01 L111.6,172.75 L112.85,171.42 L114.11,170.01 L115.37,168.51 L116.63,166.91 L117.89,165.22 L119.15,163.43 L120.41,161.52 L121.66,159.51 L122.92,157.38 L124.18,155.13 L125.44,152.76 L126.7,150.27 L127.96,147.67 L129.22,144.94 L130.47,142.11 L131.73,139.17 L132.99,136.14 L134.25,133.02 L135.51,129.83 L136.77,126.6 L138.02,123.33 L139.28,120.06 L140.54,116.81 L141.8,113.62 L143.06,110.51 L144.32,107.54 L145.58,104.72 L146.83,102.11 L148.09,99.74 L149.35,97.66 L150.61,95.9 L151.87,94.49 L153.13,93.45 L154.39,92.82 L155.64,92.6 L156.9,92.77 L158.16,93.28 L159.42,94.14 L160.68,95.34 L161.94,96.86 L163.2,98.69 L164.45,100.8 L165.71,103.18 L166.97,105.8 L168.23,108.62 L169.49,111.63 L170.75,114.79 L172.01,118.07 L173.26,121.44 L174.52,124.87 L175.78,128.33 L177.04,131.79 L178.3,135.23 L179.56,138.63 L180.82,141.96 L182.07,145.2 L183.33,148.34 L184.59,151.37 L185.85,154.27 L187.11,157.04 L188.37,159.67 L189.62,162.17 L190.88,164.51 L192.14,166.72 L193.4,168.78 L194.66,170.71 L195.92,172.5 L197.18,174.16 L198.43,175.7 L199.69,177.12 L200.95,178.43 L202.21,179.63 L203.47,180.73 L204.73,181.73 L205.99,182.65 L207.24,183.49 L208.5,184.25 L209.76,184.94 L211.02,185.57 L212.28,186.14 L213.54,186.66 L214.8,187.13 L216.05,187.55 L217.31,187.94 L218.57,188.29 L219.83,188.62 L221.09,188.91 L222.35,189.19 L223.61,189.45 L224.86,189.69 L226.12,189.92 L227.38,190.14 L228.64,190.35 L229.9,190.56 L231.16,190.76 L232.41,190.96 L233.67,191.16 L234.93,191.36 L236.19,191.56 L237.45,191.75 L238.71,191.95 L239.97,192.14 L241.22,192.33 L242.48,192.51 L243.74,192.69 L245,192.86 L246.26,193.03 L247.52,193.18 L248.78,193.32 L250.03,193.45 L251.29,193.56 L252.55,193.66 L253.81,193.74 L255.07,193.81 L256.33,193.86 L257.59,193.89 L258.84,193.91 L260.1,193.92 L261.36,193.91 L262.62,193.89 L263.88,193.86 L265.14,193.83 L266.4,193.78 L267.65,193.74 L268.91,193.7 L270.17,193.66 L271.43,193.62 L272.69,193.59 L273.95,193.57 L275.21,193.56 L276.46,193.56 L277.72,193.57 L278.98,193.59 L280.24,193.63 L281.5,193.68 L282.76,193.75 L284.01,193.83 L285.27,193.91 L286.53,194.01 L287.79,194.11 L289.05,194.22 L290.31,194.33 L291.57,194.44 L292.82,194.56 L294.08,194.66 L295.34,194.77 L296.6,194.86 L297.86,194.95 L299.12,195.03 L300.38,195.09 L301.63,195.15 L302.89,195.19 L304.15,195.22 L305.41,195.24 L306.67,195.25 L307.93,195.26 L309.19,195.25 L309.19,201.1 Z" fill="rgba(255,22,22,0.72)" stroke="none" stroke-width="1" />
<path d="M32.31,196.5 L33.57,196.38 L34.83,196.25 L36.08,196.11 L37.34,195.96 L38.6,195.8 L39.86,195.63 L41.12,195.46 L42.38,195.28 L43.63,195.1 L44.89,194.93 L46.15,194.75 L47.41,194.58 L48.67,194.42 L49.93,194.27 L51.19,194.12 L52.44,193.99 L53.7,193.87 L54.96,193.75 L56.22,193.65 L57.48,193.56 L58.74,193.47 L60,193.4 L61.25,193.32 L62.51,193.26 L63.77,193.19 L65.03,193.11 L66.29,193.04 L67.55,192.95 L68.81,192.86 L70.06,192.74 L71.32,192.62 L72.58,192.47 L73.84,192.3 L75.1,192.11 L76.36,191.88 L77.62,191.64 L78.87,191.36 L80.13,191.05 L81.39,190.71 L82.65,190.34 L83.91,189.94 L85.17,189.5 L86.42,189.04 L87.68,188.54 L88.94,188.02 L90.2,187.46 L91.46,186.88 L92.72,186.26 L93.98,185.62 L95.23,184.95 L96.49,184.25 L97.75,183.52 L99.01,182.76 L100.27,181.96 L101.53,181.13 L102.79,180.26 L104.04,179.34 L105.3,178.38 L106.56,177.38 L107.82,176.31 L109.08,175.19 L110.34,174.01 L111.6,172.75 L112.85,171.42 L114.11,170.01 L115.37,168.51 L116.63,166.91 L117.89,165.22 L119.15,163.43 L120.41,161.52 L121.66,159.51 L122.92,157.38 L124.18,155.13 L125.44,152.76 L126.7,150.27 L127.96,147.67 L129.22,144.94 L130.47,142.11 L131.73,139.17 L132.99,136.14 L134.25,133.02 L135.51,129.83 L136.77,126.6 L138.02,123.33 L139.28,120.06 L140.54,116.81 L141.8,113.62 L143.06,110.51 L144.32,107.54 L145.58,104.72 L146.83,102.11 L148.09,99.74 L149.35,97.66 L150.61,95.9 L151.87,94.49 L153.13,93.45 L154.39,92.82 L155.64,92.6 L156.9,92.77 L158.16,93.28 L159.42,94.14 L160.68,95.34 L161.94,96.86 L163.2,98.69 L164.45,100.8 L165.71,103.18 L166.97,105.8 L168.23,108.62 L169.49,111.63 L170.75,114.79 L172.01,118.07 L173.26,121.44 L174.52,124.87 L175.78,128.33 L177.04,131.79 L178.3,135.23 L179.56,138.63 L180.82,141.96 L182.07,145.2 L183.33,148.34 L184.59,151.37 L185.85,154.27 L187.11,157.04 L188.37,159.67 L189.62,162.17 L190.88,164.51 L192.14,166.72 L193.4,168.78 L194.66,170.71 L195.92,172.5 L197.18,174.16 L198.43,175.7 L199.69,177.12 L200.95,178.43 L202.21,179.63 L203.47,180.73 L204.73,181.73 L205.99,182.65 L207.24,183.49 L208.5,184.25 L209.76,184.94 L211.02,185.57 L212.28,186.14 L213.54,186.66 L214.8,187.13 L216.05,187.55 L217.31,187.94 L218.57,188.29 L219.83,188.62 L221.09,188.91 L222.35,189.19 L223.61,189.45 L224.86,189.69 L226.12,189.92 L227.38,190.14 L228.64,190.35 L229.9,190.56 L231.16,190.76 L232.41,190.96 L233.67,191.16 L234.93,191.36 L236.19,191.56 L237.45,191.75 L238.71,191.95 L239.97,192.14 L241.22,192.33 L242.48,192.51 L243.74,192.69 L245,192.86 L246.26,193.03 L247.52,193.18 L248.78,193.32 L250.03,193.45 L251.29,193.56 L252.55,193.66 L253.81,193.74 L255.07,193.81 L256.33,193.86 L257.59,193.89 L258.84,193.91 L260.1,193.92 L261.36,193.91 L262.62,193.89 L263.88,193.86 L265.14,193.83 L266.4,193.78 L267.65,193.74 L268.91,193.7 L270.17,193.66 L271.43,193.62 L272.69,193.59 L273.95,193.57 L275.21,193.56 L276.46,193.56 L277.72,193.57 L278.98,193.59 L280.24,193.63 L281.5,193.68 L282.76,193.75 L284.01,193.83 L285.27,193.91 L286.53,194.01 L287.79,194.11 L289.05,194.22 L290.31,194.33 L291.57,194.44 L292.82,194.56 L294.08,194.66 L295.34,194.77 L296.6,194.86 L297.86,194.95 L299.12,195.03 L300.38,195.09 L301.63,195.15 L302.89,195.19 L304.15,195.22 L305.41,195.24 L306.67,195.25 L307.93,195.26 L309.19,195.25" fill="none" stroke="#111" stroke-width="0.75" />
<path d="M26.57,208.4 L26.57,204.4 L27.83,204.25 L29.09,204.09 L30.35,203.93 L31.6,203.77 L32.86,203.61 L34.12,203.46 L35.38,203.3 L36.64,203.16 L37.9,203.02 L39.15,202.9 L40.41,202.77 L41.67,202.66 L42.93,202.55 L44.19,202.45 L45.45,202.35 L46.71,202.25 L47.96,202.15 L49.22,202.05 L50.48,201.94 L51.74,201.83 L53,201.7 L54.26,201.56 L55.52,201.41 L56.77,201.25 L58.03,201.06 L59.29,200.86 L60.55,200.65 L61.81,200.41 L63.07,200.16 L64.33,199.9 L65.58,199.62 L66.84,199.33 L68.1,199.02 L69.36,198.71 L70.62,198.39 L71.88,198.07 L73.14,197.74 L74.39,197.41 L75.65,197.07 L76.91,196.74 L78.17,196.4 L79.43,196.05 L80.69,195.7 L81.95,195.35 L83.2,194.98 L84.46,194.6 L85.72,194.21 L86.98,193.79 L88.24,193.35 L89.5,192.88 L90.75,192.37 L92.01,191.83 L93.27,191.23 L94.53,190.59 L95.79,189.88 L97.05,189.12 L98.31,188.29 L99.56,187.39 L100.82,186.41 L102.08,185.35 L103.34,184.21 L104.6,182.99 L105.86,181.67 L107.12,180.26 L108.37,178.76 L109.63,177.16 L110.89,175.47 L112.15,173.67 L113.41,171.78 L114.67,169.78 L115.93,167.67 L117.18,165.46 L118.44,163.15 L119.7,160.72 L120.96,158.2 L122.22,155.56 L123.48,152.82 L124.74,149.99 L125.99,147.06 L127.25,144.04 L128.51,140.95 L129.77,137.79 L131.03,134.59 L132.29,131.36 L133.54,128.14 L134.8,124.93 L136.06,121.78 L137.32,118.73 L138.58,115.8 L139.84,113.04 L141.1,110.48 L142.35,108.17 L143.61,106.15 L144.87,104.45 L146.13,103.1 L147.39,102.14 L148.65,101.56 L149.91,101.4 L151.16,101.61 L152.42,102.16 L153.68,103.05 L154.94,104.26 L156.2,105.79 L157.46,107.61 L158.72,109.7 L159.97,112.05 L161.23,114.63 L162.49,117.41 L163.75,120.37 L165.01,123.47 L166.27,126.68 L167.53,129.99 L168.78,133.36 L170.04,136.76 L171.3,140.16 L172.56,143.55 L173.82,146.9 L175.08,150.19 L176.34,153.39 L177.59,156.5 L178.85,159.5 L180.11,162.38 L181.37,165.13 L182.63,167.75 L183.89,170.22 L185.14,172.55 L186.4,174.74 L187.66,176.8 L188.92,178.71 L190.18,180.49 L191.44,182.15 L192.7,183.68 L193.95,185.11 L195.21,186.42 L196.47,187.64 L197.73,188.76 L198.99,189.8 L200.25,190.76 L201.51,191.64 L202.76,192.46 L204.02,193.21 L205.28,193.9 L206.54,194.53 L207.8,195.1 L209.06,195.63 L210.32,196.1 L211.57,196.53 L212.83,196.91 L214.09,197.24 L215.35,197.52 L216.61,197.77 L217.87,197.97 L219.13,198.13 L220.38,198.26 L221.64,198.35 L222.9,198.42 L224.16,198.45 L225.42,198.47 L226.68,198.46 L227.93,198.44 L229.19,198.42 L230.45,198.39 L231.71,198.36 L232.97,198.34 L234.23,198.32 L235.49,198.33 L236.74,198.35 L238,198.39 L239.26,198.45 L240.52,198.54 L241.78,198.66 L243.04,198.8 L244.3,198.97 L245.55,199.16 L246.81,199.36 L248.07,199.59 L249.33,199.83 L250.59,200.07 L251.85,200.32 L253.11,200.56 L254.36,200.8 L255.62,201.02 L256.88,201.22 L258.14,201.4 L259.4,201.56 L260.66,201.69 L261.92,201.78 L263.17,201.84 L264.43,201.87 L265.69,201.86 L266.95,201.82 L268.21,201.75 L269.47,201.66 L270.73,201.54 L271.98,201.41 L273.24,201.26 L274.5,201.12 L275.76,200.97 L277.02,200.83 L278.28,200.7 L279.53,200.6 L280.79,200.52 L282.05,200.47 L283.31,200.46 L284.57,200.48 L285.83,200.54 L287.09,200.64 L288.34,200.78 L289.6,200.96 L290.86,201.17 L292.12,201.42 L293.38,201.69 L294.64,201.99 L295.9,202.3 L297.15,202.62 L298.41,202.94 L299.67,203.26 L300.93,203.57 L302.19,203.86 L303.45,204.12 L303.45,208.4 Z" fill="rgba(255,8,8,0.72)" stroke="none" stroke-width="1" />
<path d="M26.57,204.4 L27.83,204.25 L29.09,204.09 L30.35,203.93 L31.6,203.77 L32.86,203.61 L34.12,203.46 L35.38,203.3 L36.64,203.16 L37.9,203.02 L39.15,202.9 L40.41,202.77 L41.67,202.66 L42.93,202.55 L44.19,202.45 L45.45,202.35 L46.71,202.25 L47.96,202.15 L49.22,202.05 L50.48,201.94 L51.74,201.83 L53,201.7 L54.26,201.56 L55.52,201.41 L56.77,201.25 L58.03,201.06 L59.29,200.86 L60.55,200.65 L61.81,200.41 L63.07,200.16 L64.33,199.9 L65.58,199.62 L66.84,199.33 L68.1,199.02 L69.36,198.71 L70.62,198.39 L71.88,198.07 L73.14,197.74 L74.39,197.41 L75.65,197.07 L76.91,196.74 L78.17,196.4 L79.43,196.05 L80.69,195.7 L81.95,195.35 L83.2,194.98 L84.46,194.6 L85.72,194.21 L86.98,193.79 L88.24,193.35 L89.5,192.88 L90.75,192.37 L92.01,191.83 L93.27,191.23 L94.53,190.59 L95.79,189.88 L97.05,189.12 L98.31,188.29 L99.56,187.39 L100.82,186.41 L102.08,185.35 L103.34,184.21 L104.6,182.99 L105.86,181.67 L107.12,180.26 L108.37,178.76 L109.63,177.16 L110.89,175.47 L112.15,173.67 L113.41,171.78 L114.67,169.78 L115.93,167.67 L117.18,165.46 L118.44,163.15 L119.7,160.72 L120.96,158.2 L122.22,155.56 L123.48,152.82 L124.74,149.99 L125.99,147.06 L127.25,144.04 L128.51,140.95 L129.77,137.79 L131.03,134.59 L132.29,131.36 L133.54,128.14 L134.8,124.93 L136.06,121.78 L137.32,118.73 L138.58,115.8 L139.84,113.04 L141.1,110.48 L142.35,108.17 L143.61,106.15 L144.87,104.45 L146.13,103.1 L147.39,102.14 L148.65,101.56 L149.91,101.4 L151.16,101.61 L152.42,102.16 L153.68,103.05 L154.94,104.26 L156.2,105.79 L157.46,107.61 L158.72,109.7 L159.97,112.05 L161.23,114.63 L162.49,117.41 L163.75,120.37 L165.01,123.47 L166.27,126.68 L167.53,129.99 L168.78,133.36 L170.04,136.76 L171.3,140.16 L172.56,143.55 L173.82,146.9 L175.08,150.19 L176.34,153.39 L177.59,156.5 L178.85,159.5 L180.11,162.38 L181.37,165.13 L182.63,167.75 L183.89,170.22 L185.14,172.55 L186.4,174.74 L187.66,176.8 L188.92,178.71 L190.18,180.49 L191.44,182.15 L192.7,183.68 L193.95,185.11 L195.21,186.42 L196.47,187.64 L197.73,188.76 L198.99,189.8 L200.25,190.76 L201.51,191.64 L202.76,192.46 L204.02,193.21 L205.28,193.9 L206.54,194.53 L207.8,195.1 L209.06,195.63 L210.32,196.1 L211.57,196.53 L212.83,196.91 L214.09,197.24 L215.35,197.52 L216.61,197.77 L217.87,197.97 L219.13,198.13 L220.38,198.26 L221.64,198.35 L222.9,198.42 L224.16,198.45 L225.42,198.47 L226.68,198.46 L227.93,198.44 L229.19,198.42 L230.45,198.39 L231.71,198.36 L232.97,198.34 L234.23,198.32 L235.49,198.33 L236.74,198.35 L238,198.39 L239.26,198.45 L240.52,198.54 L241.78,198.66 L243.04,198.8 L244.3,198.97 L245.55,199.16 L246.81,199.36 L248.07,199.59 L249.33,199.83 L250.59,200.07 L251.85,200.32 L253.11,200.56 L254.36,200.8 L255.62,201.02 L256.88,201.22 L258.14,201.4 L259.4,201.56 L260.66,201.69 L261.92,201.78 L263.17,201.84 L264.43,201.87 L265.69,201.86 L266.95,201.82 L268.21,201.75 L269.47,201.66 L270.73,201.54 L271.98,201.41 L273.24,201.26 L274.5,201.12 L275.76,200.97 L277.02,200.83 L278.28,200.7 L279.53,200.6 L280.79,200.52 L282.05,200.47 L283.31,200.46 L284.57,200.48 L285.83,200.54 L287.09,200.64 L288.34,200.78 L289.6,200.96 L290.86,201.17 L292.12,201.42 L293.38,201.69 L294.64,201.99 L295.9,202.3 L297.15,202.62 L298.41,202.94 L299.67,203.26 L300.93,203.57 L302.19,203.86 L303.45,204.12" fill="none" stroke="#111" stroke-width="0.75" />
<path d="M18.71,218.4 L18.71,210.6 L19.97,210.52 L21.23,210.45 L22.48,210.4 L23.74,210.37 L25,210.35 L26.26,210.34 L27.52,210.35 L28.78,210.37 L30.04,210.39 L31.29,210.42 L32.55,210.46 L33.81,210.5 L35.07,210.53 L36.33,210.56 L37.59,210.59 L38.85,210.6 L40.1,210.61 L41.36,210.6 L42.62,210.58 L43.88,210.54 L45.14,210.48 L46.4,210.4 L47.65,210.31 L48.91,210.2 L50.17,210.06 L51.43,209.91 L52.69,209.74 L53.95,209.55 L55.21,209.34 L56.46,209.12 L57.72,208.88 L58.98,208.63 L60.24,208.37 L61.5,208.09 L62.76,207.81 L64.02,207.51 L65.27,207.21 L66.53,206.9 L67.79,206.58 L69.05,206.26 L70.31,205.93 L71.57,205.59 L72.83,205.24 L74.08,204.88 L75.34,204.5 L76.6,204.11 L77.86,203.71 L79.12,203.28 L80.38,202.83 L81.64,202.35 L82.89,201.84 L84.15,201.29 L85.41,200.7 L86.67,200.06 L87.93,199.38 L89.19,198.64 L90.44,197.84 L91.7,196.98 L92.96,196.04 L94.22,195.03 L95.48,193.94 L96.74,192.77 L98,191.51 L99.25,190.15 L100.51,188.7 L101.77,187.15 L103.03,185.49 L104.29,183.73 L105.55,181.85 L106.81,179.87 L108.06,177.77 L109.32,175.55 L110.58,173.23 L111.84,170.78 L113.1,168.22 L114.36,165.56 L115.62,162.78 L116.87,159.9 L118.13,156.93 L119.39,153.87 L120.65,150.74 L121.91,147.55 L123.17,144.31 L124.43,141.05 L125.68,137.79 L126.94,134.56 L128.2,131.38 L129.46,128.3 L130.72,125.33 L131.98,122.54 L133.24,119.94 L134.49,117.58 L135.75,115.51 L137.01,113.74 L138.27,112.33 L139.53,111.28 L140.79,110.64 L142.04,110.4 L143.3,110.55 L144.56,111.05 L145.82,111.89 L147.08,113.07 L148.34,114.57 L149.6,116.38 L150.85,118.48 L152.11,120.85 L153.37,123.46 L154.63,126.28 L155.89,129.29 L157.15,132.45 L158.41,135.73 L159.66,139.11 L160.92,142.55 L162.18,146.02 L163.44,149.49 L164.7,152.93 L165.96,156.33 L167.22,159.65 L168.47,162.89 L169.73,166.01 L170.99,169.02 L172.25,171.89 L173.51,174.62 L174.77,177.2 L176.03,179.64 L177.28,181.92 L178.54,184.05 L179.8,186.04 L181.06,187.89 L182.32,189.59 L183.58,191.17 L184.84,192.62 L186.09,193.96 L187.35,195.19 L188.61,196.33 L189.87,197.37 L191.13,198.33 L192.39,199.21 L193.64,200.03 L194.9,200.79 L196.16,201.48 L197.42,202.13 L198.68,202.74 L199.94,203.3 L201.2,203.83 L202.45,204.32 L203.71,204.79 L204.97,205.22 L206.23,205.63 L207.49,206.02 L208.75,206.38 L210.01,206.72 L211.26,207.04 L212.52,207.34 L213.78,207.62 L215.04,207.88 L216.3,208.13 L217.56,208.35 L218.82,208.56 L220.07,208.75 L221.33,208.93 L222.59,209.09 L223.85,209.24 L225.11,209.37 L226.37,209.49 L227.63,209.59 L228.88,209.69 L230.14,209.77 L231.4,209.84 L232.66,209.91 L233.92,209.96 L235.18,210.01 L236.43,210.06 L237.69,210.1 L238.95,210.13 L240.21,210.17 L241.47,210.2 L242.73,210.23 L243.99,210.26 L245.24,210.29 L246.5,210.32 L247.76,210.36 L249.02,210.4 L250.28,210.44 L251.54,210.48 L252.8,210.53 L254.05,210.59 L255.31,210.65 L256.57,210.71 L257.83,210.78 L259.09,210.85 L260.35,210.93 L261.61,211.01 L262.86,211.1 L264.12,211.19 L265.38,211.29 L266.64,211.39 L267.9,211.49 L269.16,211.6 L270.42,211.71 L271.67,211.82 L272.93,211.93 L274.19,212.04 L275.45,212.15 L276.71,212.26 L277.97,212.36 L279.23,212.47 L280.48,212.57 L281.74,212.66 L283,212.75 L284.26,212.83 L285.52,212.91 L286.78,212.98 L288.03,213.04 L289.29,213.1 L290.55,213.14 L291.81,213.18 L293.07,213.21 L294.33,213.22 L295.59,213.23 L295.59,218.4 Z" fill="rgba(255,0,0,0.72)" stroke="none" stroke-width="1" />
<path d="M18.71,210.6 L19.97,210.52 L21.23,210.45 L22.48,210.4 L23.74,210.37 L25,210.35 L26.26,210.34 L27.52,210.35 L28.78,210.37 L30.04,210.39 L31.29,210.42 L32.55,210.46 L33.81,210.5 L35.07,210.53 L36.33,210.56 L37.59,210.59 L38.85,210.6 L40.1,210.61 L41.36,210.6 L42.62,210.58 L43.88,210.54 L45.14,210.48 L46.4,210.4 L47.65,210.31 L48.91,210.2 L50.17,210.06 L51.43,209.91 L52.69,209.74 L53.95,209.55 L55.21,209.34 L56.46,209.12 L57.72,208.88 L58.98,208.63 L60.24,208.37 L61.5,208.09 L62.76,207.81 L64.02,207.51 L65.27,207.21 L66.53,206.9 L67.79,206.58 L69.05,206.26 L70.31,205.93 L71.57,205.59 L72.83,205.24 L74.08,204.88 L75.34,204.5 L76.6,204.11 L77.86,203.71 L79.12,203.28 L80.38,202.83 L81.64,202.35 L82.89,201.84 L84.15,201.29 L85.41,200.7 L86.67,200.06 L87.93,199.38 L89.19,198.64 L90.44,197.84 L91.7,196.98 L92.96,196.04 L94.22,195.03 L95.48,193.94 L96.74,192.77 L98,191.51 L99.25,190.15 L100.51,188.7 L101.77,187.15 L103.03,185.49 L104.29,183.73 L105.55,181.85 L106.81,179.87 L108.06,177.77 L109.32,175.55 L110.58,173.23 L111.84,170.78 L113.1,168.22 L114.36,165.56 L115.62,162.78 L116.87,159.9 L118.13,156.93 L119.39,153.87 L120.65,150.74 L121.91,147.55 L123.17,144.31 L124.43,141.05 L125.68,137.79 L126.94,134.56 L128.2,131.38 L129.46,128.3 L130.72,125.33 L131.98,122.54 L133.24,119.94 L134.49,117.58 L135.75,115.51 L137.01,113.74 L138.27,112.33 L139.53,111.28 L140.79,110.64 L142.04,110.4 L143.3,110.55 L144.56,111.05 L145.82,111.89 L147.08,113.07 L148.34,114.57 L149.6,116.38 L150.85,118.48 L152.11,120.85 L153.37,123.46 L154.63,126.28 L155.89,129.29 L157.15,132.45 L158.41,135.73 L159.66,139.11 L160.92,142.55 L162.18,146.02 L163.44,149.49 L164.7,152.93 L165.96,156.33 L167.22,159.65 L168.47,162.89 L169.73,166.01 L170.99,169.02 L172.25,171.89 L173.51,174.62 L174.77,177.2 L176.03,179.64 L177.28,181.92 L178.54,184.05 L179.8,186.04 L181.06,187.89 L182.32,189.59 L183.58,191.17 L184.84,192.62 L186.09,193.96 L187.35,195.19 L188.61,196.33 L189.87,197.37 L191.13,198.33 L192.39,199.21 L193.64,200.03 L194.9,200.79 L196.16,201.48 L197.42,202.13 L198.68,202.74 L199.94,203.3 L201.2,203.83 L202.45,204.32 L203.71,204.79 L204.97,205.22 L206.23,205.63 L207.49,206.02 L208.75,206.38 L210.01,206.72 L211.26,207.04 L212.52,207.34 L213.78,207.62 L215.04,207.88 L216.3,208.13 L217.56,208.35 L218.82,208.56 L220.07,208.75 L221.33,208.93 L222.59,209.09 L223.85,209.24 L225.11,209.37 L226.37,209.49 L227.63,209.59 L228.88,209.69 L230.14,209.77 L231.4,209.84 L232.66,209.91 L233.92,209.96 L235.18,210.01 L236.43,210.06 L237.69,210.1 L238.95,210.13 L240.21,210.17 L241.47,210.2 L242.73,210.23 L243.99,210.26 L245.24,210.29 L246.5,210.32 L247.76,210.36 L249.02,210.4 L250.28,210.44 L251.54,210.48 L252.8,210.53 L254.05,210.59 L255.31,210.65 L256.57,210.71 L257.83,210.78 L259.09,210.85 L260.35,210.93 L261.61,211.01 L262.86,211.1 L264.12,211.19 L265.38,211.29 L266.64,211.39 L267.9,211.49 L269.16,211.6 L270.42,211.71 L271.67,211.82 L272.93,211.93 L274.19,212.04 L275.45,212.15 L276.71,212.26 L277.97,212.36 L279.23,212.47 L280.48,212.57 L281.74,212.66 L283,212.75 L284.26,212.83 L285.52,212.91 L286.78,212.98 L288.03,213.04 L289.29,213.1 L290.55,213.14 L291.81,213.18 L293.07,213.21 L294.33,213.22 L295.59,213.23" fill="none" stroke="#111" stroke-width="0.75" />
<path d="M8.8,231 L8.8,219 L10.06,219.05 L11.32,219.12 L12.58,219.21 L13.84,219.31 L15.1,219.41 L16.35,219.52 L17.61,219.63 L18.87,219.72 L20.13,219.81 L21.39,219.88 L22.65,219.94 L23.91,219.98 L25.16,220 L26.42,220 L27.68,219.98 L28.94,219.94 L30.2,219.89 L31.46,219.82 L32.72,219.73 L33.97,219.64 L35.23,219.53 L36.49,219.41 L37.75,219.29 L39.01,219.16 L40.27,219.03 L41.53,218.89 L42.78,218.75 L44.04,218.61 L45.3,218.46 L46.56,218.31 L47.82,218.15 L49.08,217.99 L50.34,217.81 L51.59,217.63 L52.85,217.42 L54.11,217.21 L55.37,216.97 L56.63,216.71 L57.89,216.43 L59.15,216.12 L60.4,215.78 L61.66,215.42 L62.92,215.02 L64.18,214.6 L65.44,214.13 L66.7,213.64 L67.95,213.1 L69.21,212.53 L70.47,211.93 L71.73,211.28 L72.99,210.59 L74.25,209.85 L75.51,209.07 L76.76,208.23 L78.02,207.35 L79.28,206.41 L80.54,205.4 L81.8,204.33 L83.06,203.19 L84.32,201.97 L85.57,200.67 L86.83,199.28 L88.09,197.8 L89.35,196.22 L90.61,194.54 L91.87,192.75 L93.13,190.85 L94.38,188.84 L95.64,186.72 L96.9,184.48 L98.16,182.13 L99.42,179.67 L100.68,177.1 L101.94,174.43 L103.19,171.66 L104.45,168.81 L105.71,165.88 L106.97,162.89 L108.23,159.85 L109.49,156.78 L110.75,153.69 L112,150.6 L113.26,147.54 L114.52,144.52 L115.78,141.58 L117.04,138.74 L118.3,136.03 L119.55,133.48 L120.81,131.11 L122.07,128.96 L123.33,127.05 L124.59,125.42 L125.85,124.08 L127.11,123.06 L128.36,122.37 L129.62,122.04 L130.88,122.05 L132.14,122.42 L133.4,123.14 L134.66,124.2 L135.92,125.59 L137.17,127.29 L138.43,129.3 L139.69,131.58 L140.95,134.12 L142.21,136.88 L143.47,139.83 L144.73,142.95 L145.98,146.2 L147.24,149.55 L148.5,152.97 L149.76,156.43 L151.02,159.9 L152.28,163.36 L153.54,166.78 L154.79,170.13 L156.05,173.41 L157.31,176.6 L158.57,179.68 L159.83,182.64 L161.09,185.48 L162.34,188.19 L163.6,190.76 L164.86,193.19 L166.12,195.49 L167.38,197.65 L168.64,199.67 L169.9,201.56 L171.15,203.32 L172.41,204.95 L173.67,206.46 L174.93,207.85 L176.19,209.13 L177.45,210.29 L178.71,211.36 L179.96,212.32 L181.22,213.19 L182.48,213.98 L183.74,214.68 L185,215.31 L186.26,215.87 L187.52,216.37 L188.77,216.82 L190.03,217.22 L191.29,217.57 L192.55,217.89 L193.81,218.17 L195.07,218.43 L196.33,218.67 L197.58,218.89 L198.84,219.1 L200.1,219.31 L201.36,219.5 L202.62,219.69 L203.88,219.88 L205.14,220.07 L206.39,220.26 L207.65,220.44 L208.91,220.63 L210.17,220.81 L211.43,220.99 L212.69,221.16 L213.94,221.33 L215.2,221.49 L216.46,221.64 L217.72,221.78 L218.98,221.91 L220.24,222.03 L221.5,222.14 L222.75,222.24 L224.01,222.33 L225.27,222.41 L226.53,222.49 L227.79,222.56 L229.05,222.62 L230.31,222.69 L231.56,222.76 L232.82,222.83 L234.08,222.9 L235.34,222.99 L236.6,223.08 L237.86,223.18 L239.12,223.29 L240.37,223.42 L241.63,223.55 L242.89,223.69 L244.15,223.85 L245.41,224 L246.67,224.16 L247.93,224.32 L249.18,224.48 L250.44,224.63 L251.7,224.77 L252.96,224.89 L254.22,225 L255.48,225.09 L256.73,225.16 L257.99,225.21 L259.25,225.23 L260.51,225.22 L261.77,225.18 L263.03,225.13 L264.29,225.04 L265.54,224.94 L266.8,224.82 L268.06,224.69 L269.32,224.54 L270.58,224.39 L271.84,224.24 L273.1,224.09 L274.35,223.96 L275.61,223.84 L276.87,223.74 L278.13,223.66 L279.39,223.61 L280.65,223.59 L281.91,223.6 L283.16,223.65 L284.42,223.72 L285.68,223.84 L285.68,231 Z" fill="rgba(255,0,0,0.72)" stroke="none" stroke-width="1" />
<path d="M8.8,219 L10.06,219.05 L11.32,219.12 L12.58,219.21 L13.84,219.31 L15.1,219.41 L16.35,219.52 L17.61,219.63 L18.87,219.72 L20.13,219.81 L21.39,219.88 L22.65,219.94 L23.91,219.98 L25.16,220 L26.42,220 L27.68,219.98 L28.94,219.94 L30.2,219.89 L31.46,219.82 L32.72,219.73 L33.97,219.64 L35.23,219.53 L36.49,219.41 L37.75,219.29 L39.01,219.16 L40.27,219.03 L41.53,218.89 L42.78,218.75 L44.04,218.61 L45.3,218.46 L46.56,218.31 L47.82,218.15 L49.08,217.99 L50.34,217.81 L51.59,217.63 L52.85,217.42 L54.11,217.21 L55.37,216.97 L56.63,216.71 L57.89,216.43 L59.15,216.12 L60.4,215.78 L61.66,215.42 L62.92,215.02 L64.18,214.6 L65.44,214.13 L66.7,213.64 L67.95,213.1 L69.21,212.53 L70.47,211.93 L71.73,211.28 L72.99,210.59 L74.25,209.85 L75.51,209.07 L76.76,208.23 L78.02,207.35 L79.28,206.41 L80.54,205.4 L81.8,204.33 L83.06,203.19 L84.32,201.97 L85.57,200.67 L86.83,199.28 L88.09,197.8 L89.35,196.22 L90.61,194.54 L91.87,192.75 L93.13,190.85 L94.38,188.84 L95.64,186.72 L96.9,184.48 L98.16,182.13 L99.42,179.67 L100.68,177.1 L101.94,174.43 L103.19,171.66 L104.45,168.81 L105.71,165.88 L106.97,162.89 L108.23,159.85 L109.49,156.78 L110.75,153.69 L112,150.6 L113.26,147.54 L114.52,144.52 L115.78,141.58 L117.04,138.74 L118.3,136.03 L119.55,133.48 L120.81,131.11 L122.07,128.96 L123.33,127.05 L124.59,125.42 L125.85,124.08 L127.11,123.06 L128.36,122.37 L129.62,122.04 L130.88,122.05 L132.14,122.42 L133.4,123.14 L134.66,124.2 L135.92,125.59 L137.17,127.29 L138.43,129.3 L139.69,131.58 L140.95,134.12 L142.21,136.88 L143.47,139.83 L144.73,142.95 L145.98,146.2 L147.24,149.55 L148.5,152.97 L149.76,156.43 L151.02,159.9 L152.28,163.36 L153.54,166.78 L154.79,170.13 L156.05,173.41 L157.31,176.6 L158.57,179.68 L159.83,182.64 L161.09,185.48 L162.34,188.19 L163.6,190.76 L164.86,193.19 L166.12,195.49 L167.38,197.65 L168.64,199.67 L169.9,201.56 L171.15,203.32 L172.41,204.95 L173.67,206.46 L174.93,207.85 L176.19,209.13 L177.45,210.29 L178.71,211.36 L179.96,212.32 L181.22,213.19 L182.48,213.98 L183.74,214.68 L185,215.31 L186.26,215.87 L187.52,216.37 L188.77,216.82 L190.03,217.22 L191.29,217.57 L192.55,217.89 L193.81,218.17 L195.07,218.43 L196.33,218.67 L197.58,218.89 L198.84,219.1 L200.1,219.31 L201.36,219.5 L202.62,219.69 L203.88,219.88 L205.14,220.07 L206.39,220.26 L207.65,220.44 L208.91,220.63 L210.17,220.81 L211.43,220.99 L212.69,221.16 L213.94,221.33 L215.2,221.49 L216.46,221.64 L217.72,221.78 L218.98,221.91 L220.24,222.03 L221.5,222.14 L222.75,222.24 L224.01,222.33 L225.27,222.41 L226.53,222.49 L227.79,222.56 L229.05,222.62 L230.31,222.69 L231.56,222.76 L232.82,222.83 L234.08,222.9 L235.34,222.99 L236.6,223.08 L237.86,223.18 L239.12,223.29 L240.37,223.42 L241.63,223.55 L242.89,223.69 L244.15,223.85 L245.41,224 L246.67,224.16 L247.93,224.32 L249.18,224.48 L250.44,224.63 L251.7,224.77 L252.96,224.89 L254.22,225 L255.48,225.09 L256.73,225.16 L257.99,225.21 L259.25,225.23 L260.51,225.22 L261.77,225.18 L263.03,225.13 L264.29,225.04 L265.54,224.94 L266.8,224.82 L268.06,224.69 L269.32,224.54 L270.58,224.39 L271.84,224.24 L273.1,224.09 L274.35,223.96 L275.61,223.84 L276.87,223.74 L278.13,223.66 L279.39,223.61 L280.65,223.59 L281.91,223.6 L283.16,223.65 L284.42,223.72 L285.68,223.84" fill="none" stroke="#111" stroke-width="0.75" />
<path d="M1.26,240.6 L1.26,234.2 L2.52,234.21 L3.77,234.24 L5.03,234.28 L6.29,234.32 L7.55,234.37 L8.81,234.4 L10.07,234.43 L11.33,234.44 L12.58,234.43 L13.84,234.39 L15.1,234.33 L16.36,234.23 L17.62,234.11 L18.88,233.95 L20.14,233.77 L21.39,233.55 L22.65,233.31 L23.91,233.04 L25.17,232.76 L26.43,232.45 L27.69,232.12 L28.94,231.79 L30.2,231.44 L31.46,231.08 L32.72,230.71 L33.98,230.34 L35.24,229.96 L36.5,229.57 L37.75,229.18 L39.01,228.78 L40.27,228.36 L41.53,227.94 L42.79,227.5 L44.05,227.05 L45.31,226.58 L46.56,226.09 L47.82,225.57 L49.08,225.04 L50.34,224.47 L51.6,223.89 L52.86,223.27 L54.12,222.63 L55.37,221.96 L56.63,221.27 L57.89,220.55 L59.15,219.8 L60.41,219.02 L61.67,218.22 L62.93,217.39 L64.18,216.54 L65.44,215.65 L66.7,214.73 L67.96,213.77 L69.22,212.77 L70.48,211.72 L71.74,210.63 L72.99,209.48 L74.25,208.26 L75.51,206.98 L76.77,205.62 L78.03,204.17 L79.29,202.64 L80.54,201.02 L81.8,199.29 L83.06,197.47 L84.32,195.53 L85.58,193.5 L86.84,191.36 L88.1,189.11 L89.35,186.77 L90.61,184.33 L91.87,181.81 L93.13,179.21 L94.39,176.55 L95.65,173.83 L96.91,171.07 L98.16,168.29 L99.42,165.5 L100.68,162.72 L101.94,159.96 L103.2,157.24 L104.46,154.59 L105.72,152.03 L106.97,149.57 L108.23,147.24 L109.49,145.05 L110.75,143.04 L112.01,141.22 L113.27,139.62 L114.53,138.25 L115.78,137.13 L117.04,136.28 L118.3,135.71 L119.56,135.43 L120.82,135.45 L122.08,135.82 L123.34,136.52 L124.59,137.55 L125.85,138.91 L127.11,140.58 L128.37,142.53 L129.63,144.75 L130.89,147.21 L132.14,149.88 L133.4,152.74 L134.66,155.74 L135.92,158.86 L137.18,162.07 L138.44,165.34 L139.7,168.64 L140.95,171.94 L142.21,175.23 L143.47,178.47 L144.73,181.65 L145.99,184.77 L147.25,187.79 L148.51,190.73 L149.76,193.56 L151.02,196.28 L152.28,198.89 L153.54,201.38 L154.8,203.75 L156.06,206 L157.32,208.14 L158.57,210.15 L159.83,212.03 L161.09,213.8 L162.35,215.44 L163.61,216.96 L164.87,218.36 L166.13,219.65 L167.38,220.81 L168.64,221.87 L169.9,222.81 L171.16,223.65 L172.42,224.4 L173.68,225.05 L174.93,225.62 L176.19,226.12 L177.45,226.55 L178.71,226.92 L179.97,227.25 L181.23,227.53 L182.49,227.79 L183.74,228.02 L185,228.23 L186.26,228.44 L187.52,228.65 L188.78,228.86 L190.04,229.07 L191.3,229.29 L192.55,229.53 L193.81,229.77 L195.07,230.02 L196.33,230.27 L197.59,230.53 L198.85,230.79 L200.11,231.05 L201.36,231.3 L202.62,231.53 L203.88,231.74 L205.14,231.94 L206.4,232.11 L207.66,232.26 L208.92,232.37 L210.17,232.46 L211.43,232.52 L212.69,232.55 L213.95,232.55 L215.21,232.53 L216.47,232.5 L217.73,232.45 L218.98,232.4 L220.24,232.34 L221.5,232.29 L222.76,232.24 L224.02,232.21 L225.28,232.21 L226.53,232.22 L227.79,232.26 L229.05,232.33 L230.31,232.43 L231.57,232.56 L232.83,232.72 L234.09,232.91 L235.34,233.12 L236.6,233.35 L237.86,233.59 L239.12,233.84 L240.38,234.1 L241.64,234.35 L242.9,234.58 L244.15,234.81 L245.41,235.01 L246.67,235.18 L247.93,235.32 L249.19,235.43 L250.45,235.51 L251.71,235.54 L252.96,235.54 L254.22,235.51 L255.48,235.44 L256.74,235.34 L258,235.22 L259.26,235.08 L260.52,234.93 L261.77,234.77 L263.03,234.61 L264.29,234.46 L265.55,234.32 L266.81,234.2 L268.07,234.1 L269.32,234.03 L270.58,233.98 L271.84,233.97 L273.1,233.99 L274.36,234.04 L275.62,234.12 L276.88,234.24 L278.13,234.37 L278.13,240.6 Z" fill="rgba(255,0,0,0.72)" stroke="none" stroke-width="1" />
<path d="M1.26,234.2 L2.52,234.21 L3.77,234.24 L5.03,234.28 L6.29,234.32 L7.55,234.37 L8.81,234.4 L10.07,234.43 L11.33,234.44 L12.58,234.43 L13.84,234.39 L15.1,234.33 L16.36,234.23 L17.62,234.11 L18.88,233.95 L20.14,233.77 L21.39,233.55 L22.65,233.31 L23.91,233.04 L25.17,232.76 L26.43,232.45 L27.69,232.12 L28.94,231.79 L30.2,231.44 L31.46,231.08 L32.72,230.71 L33.98,230.34 L35.24,229.96 L36.5,229.57 L37.75,229.18 L39.01,228.78 L40.27,228.36 L41.53,227.94 L42.79,227.5 L44.05,227.05 L45.31,226.58 L46.56,226.09 L47.82,225.57 L49.08,225.04 L50.34,224.47 L51.6,223.89 L52.86,223.27 L54.12,222.63 L55.37,221.96 L56.63,221.27 L57.89,220.55 L59.15,219.8 L60.41,219.02 L61.67,218.22 L62.93,217.39 L64.18,216.54 L65.44,215.65 L66.7,214.73 L67.96,213.77 L69.22,212.77 L70.48,211.72 L71.74,210.63 L72.99,209.48 L74.25,208.26 L75.51,206.98 L76.77,205.62 L78.03,204.17 L79.29,202.64 L80.54,201.02 L81.8,199.29 L83.06,197.47 L84.32,195.53 L85.58,193.5 L86.84,191.36 L88.1,189.11 L89.35,186.77 L90.61,184.33 L91.87,181.81 L93.13,179.21 L94.39,176.55 L95.65,173.83 L96.91,171.07 L98.16,168.29 L99.42,165.5 L100.68,162.72 L101.94,159.96 L103.2,157.24 L104.46,154.59 L105.72,152.03 L106.97,149.57 L108.23,147.24 L109.49,145.05 L110.75,143.04 L112.01,141.22 L113.27,139.62 L114.53,138.25 L115.78,137.13 L117.04,136.28 L118.3,135.71 L119.56,135.43 L120.82,135.45 L122.08,135.82 L123.34,136.52 L124.59,137.55 L125.85,138.91 L127.11,140.58 L128.37,142.53 L129.63,144.75 L130.89,147.21 L132.14,149.88 L133.4,152.74 L134.66,155.74 L135.92,158.86 L137.18,162.07 L138.44,165.34 L139.7,168.64 L140.95,171.94 L142.21,175.23 L143.47,178.47 L144.73,181.65 L145.99,184.77 L147.25,187.79 L148.51,190.73 L149.76,193.56 L151.02,196.28 L152.28,198.89 L153.54,201.38 L154.8,203.75 L156.06,206 L157.32,208.14 L158.57,210.15 L159.83,212.03 L161.09,213.8 L162.35,215.44 L163.61,216.96 L164.87,218.36 L166.13,219.65 L167.38,220.81 L168.64,221.87 L169.9,222.81 L171.16,223.65 L172.42,224.4 L173.68,225.05 L174.93,225.62 L176.19,226.12 L177.45,226.55 L178.71,226.92 L179.97,227.25 L181.23,227.53 L182.49,227.79 L183.74,228.02 L185,228.23 L186.26,228.44 L187.52,228.65 L188.78,228.86 L190.04,229.07 L191.3,229.29 L192.55,229.53 L193.81,229.77 L195.07,230.02 L196.33,230.27 L197.59,230.53 L198.85,230.79 L200.11,231.05 L201.36,231.3 L202.62,231.53 L203.88,231.74 L205.14,231.94 L206.4,232.11 L207.66,232.26 L208.92,232.37 L210.17,232.46 L211.43,232.52 L212.69,232.55 L213.95,232.55 L215.21,232.53 L216.47,232.5 L217.73,232.45 L218.98,232.4 L220.24,232.34 L221.5,232.29 L222.76,232.24 L224.02,232.21 L225.28,232.21 L226.53,232.22 L227.79,232.26 L229.05,232.33 L230.31,232.43 L231.57,232.56 L232.83,232.72 L234.09,232.91 L235.34,233.12 L236.6,233.35 L237.86,233.59 L239.12,233.84 L240.38,234.1 L241.64,234.35 L242.9,234.58 L244.15,234.81 L245.41,235.01 L246.67,235.18 L247.93,235.32 L249.19,235.43 L250.45,235.51 L251.71,235.54 L252.96,235.54 L254.22,235.51 L255.48,235.44 L256.74,235.34 L258,235.22 L259.26,235.08 L260.52,234.93 L261.77,234.77 L263.03,234.61 L264.29,234.46 L265.55,234.32 L266.81,234.2 L268.07,234.1 L269.32,234.03 L270.58,233.98 L271.84,233.97 L273.1,233.99 L274.36,234.04 L275.62,234.12 L276.88,234.24 L278.13,234.37" fill="none" stroke="#111" stroke-width="0.75" />
<rect x="380.8" y="12.9" width="276" height="115.2" fill="#fff" stroke="none" stroke-width="1" />
<line x1="380.8" y1="29.5" x2="656.8" y2="29.5" stroke="#bdbdbd" stroke-width="1" />
<line x1="380.8" y1="53.5" x2="656.8" y2="53.5" stroke="#bdbdbd" stroke-width="1" />
<line x1="380.8" y1="78.5" x2="656.8" y2="78.5" stroke="#bdbdbd" stroke-width="1" />
<line x1="380.8" y1="103.5" x2="656.8" y2="103.5" stroke="#bdbdbd" stroke-width="1" />
<line x1="317.6" y1="240.8" x2="405.8" y2="128.6" stroke="#9a9a9a" stroke-width="0.6" />
<line x1="368" y1="240.8" x2="456.2" y2="128.6" stroke="#9a9a9a" stroke-width="0.6" />
<line x1="418.4" y1="240.8" x2="506.6" y2="128.6" stroke="#9a9a9a" stroke-width="0.6" />
<line x1="468.8" y1="240.8" x2="557" y2="128.6" stroke="#9a9a9a" stroke-width="0.6" />
<line x1="519.2" y1="240.8" x2="607.4" y2="128.6" stroke="#9a9a9a" stroke-width="0.6" />
<path d="M380.8,128.1 L380.8,12.9 L656.8,12.9 L656.8,128.1" fill="none" stroke="#000" stroke-width="1.6" />
<line x1="380.8" y1="128.1" x2="656.8" y2="128.1" stroke="#000" stroke-width="1.6" />
<line x1="292.4" y1="240.8" x2="380.8" y2="128.6" stroke="#000" stroke-width="1.5" />
<line x1="569.1" y1="240.8" x2="656.8" y2="128.6" stroke="#000" stroke-width="1.5" />
<line x1="291.9" y1="240.8" x2="569.6" y2="240.8" stroke="#000" stroke-width="1.6" />
<path d="M375.49,135.1 L375.49,134.13 L376.75,134.09 L378.01,134.06 L379.26,134.03 L380.52,134.01 L381.78,133.99 L383.04,133.97 L384.29,133.95 L385.55,133.93 L386.81,133.92 L388.07,133.91 L389.33,133.89 L390.58,133.88 L391.84,133.87 L393.1,133.85 L394.36,133.84 L395.61,133.82 L396.87,133.79 L398.13,133.77 L399.39,133.74 L400.64,133.71 L401.9,133.68 L403.16,133.64 L404.42,133.6 L405.68,133.56 L406.93,133.52 L408.19,133.48 L409.45,133.43 L410.71,133.39 L411.96,133.35 L413.22,133.3 L414.48,133.26 L415.74,133.22 L416.99,133.18 L418.25,133.14 L419.51,133.1 L420.77,133.06 L422.03,133.02 L423.28,132.98 L424.54,132.94 L425.8,132.9 L427.06,132.85 L428.31,132.8 L429.57,132.75 L430.83,132.69 L432.09,132.64 L433.34,132.57 L434.6,132.51 L435.86,132.44 L437.12,132.36 L438.38,132.28 L439.63,132.2 L440.89,132.12 L442.15,132.03 L443.41,131.94 L444.66,131.85 L445.92,131.76 L447.18,131.66 L448.44,131.57 L449.7,131.48 L450.95,131.38 L452.21,131.29 L453.47,131.19 L454.73,131.1 L455.98,131 L457.24,130.91 L458.5,130.81 L459.76,130.72 L461.01,130.62 L462.27,130.52 L463.53,130.42 L464.79,130.32 L466.05,130.22 L467.3,130.12 L468.56,130.01 L469.82,129.91 L471.08,129.8 L472.33,129.69 L473.59,129.58 L474.85,129.47 L476.11,129.36 L477.36,129.25 L478.62,129.14 L479.88,129.03 L481.14,128.92 L482.4,128.81 L483.65,128.83 L484.91,128.85 L486.17,128.87 L487.43,128.9 L488.68,128.92 L489.94,128.95 L491.2,128.97 L492.46,128.99 L493.72,125.82 L494.97,121.8 L496.23,117.78 L497.49,113.63 L498.75,104.66 L500,95.68 L501.26,86.7 L502.52,77.39 L503.78,67.63 L505.03,57.86 L506.29,49.19 L507.55,44.65 L508.81,40.1 L510.07,35.58 L511.32,35.52 L512.58,35.46 L513.84,35.39 L515.1,35.33 L516.35,35.26 L517.61,35.2 L518.87,35.14 L520.13,35.07 L521.38,34.97 L522.64,34.67 L523.9,34.37 L525.16,34.07 L526.42,33.77 L527.67,33.47 L528.93,33.18 L530.19,32.88 L531.45,32 L532.7,31.11 L533.96,30.21 L535.22,29.32 L536.48,28.43 L537.73,27.53 L538.99,29.83 L540.25,32.25 L541.51,34.67 L542.77,37.08 L544.02,40.19 L545.28,43.32 L546.54,46.45 L547.8,49.58 L549.05,52.68 L550.31,55.57 L551.57,58.45 L552.83,61.34 L554.09,64.22 L555.34,67.11 L556.6,70.01 L557.86,72.91 L559.12,75.81 L560.37,78.72 L561.63,81.77 L562.89,85.79 L564.15,89.81 L565.4,93.84 L566.66,98.4 L567.92,103 L569.18,107.21 L570.44,108.56 L571.69,109.91 L572.95,111.26 L574.21,112.55 L575.47,113.36 L576.72,114.18 L577.98,114.99 L579.24,115.79 L580.5,116.6 L581.75,117.4 L583.01,118.2 L584.27,118.98 L585.53,119.53 L586.79,120.08 L588.04,120.63 L589.3,121.18 L590.56,121.73 L591.82,122.28 L593.07,122.83 L594.33,123.38 L595.59,123.93 L596.85,124.37 L598.1,124.71 L599.36,125.04 L600.62,125.38 L601.88,125.72 L603.14,126.06 L604.39,126.4 L605.65,126.75 L606.91,127.09 L608.17,127.44 L609.42,127.79 L610.68,128.15 L611.94,128.5 L613.2,128.85 L614.46,129.15 L615.71,129.38 L616.97,129.61 L618.23,129.84 L619.49,130.07 L620.74,130.3 L622,130.53 L623.26,130.77 L624.52,131 L625.77,131.23 L627.03,131.47 L628.29,131.7 L629.55,131.88 L630.81,132.05 L632.06,132.22 L633.32,132.38 L634.58,132.55 L635.84,132.71 L637.09,132.87 L638.35,133.03 L639.61,133.18 L640.87,133.33 L642.12,133.48 L643.38,133.62 L644.64,133.76 L645.9,133.89 L647.16,134.01 L648.41,134.06 L649.67,134.03 L650.93,134 L652.19,133.95 L652.19,135.1 Z" fill="rgba(0,0,255,0.72)" stroke="none" stroke-width="1" />
<path d="M375.49,134.13 L376.75,134.09 L378.01,134.06 L379.26,134.03 L380.52,134.01 L381.78,133.99 L383.04,133.97 L384.29,133.95 L385.55,133.93 L386.81,133.92 L388.07,133.91 L389.33,133.89 L390.58,133.88 L391.84,133.87 L393.1,133.85 L394.36,133.84 L395.61,133.82 L396.87,133.79 L398.13,133.77 L399.39,133.74 L400.64,133.71 L401.9,133.68 L403.16,133.64 L404.42,133.6 L405.68,133.56 L406.93,133.52 L408.19,133.48 L409.45,133.43 L410.71,133.39 L411.96,133.35 L413.22,133.3 L414.48,133.26 L415.74,133.22 L416.99,133.18 L418.25,133.14 L419.51,133.1 L420.77,133.06 L422.03,133.02 L423.28,132.98 L424.54,132.94 L425.8,132.9 L427.06,132.85 L428.31,132.8 L429.57,132.75 L430.83,132.69 L432.09,132.64 L433.34,132.57 L434.6,132.51 L435.86,132.44 L437.12,132.36 L438.38,132.28 L439.63,132.2 L440.89,132.12 L442.15,132.03 L443.41,131.94 L444.66,131.85 L445.92,131.76 L447.18,131.66 L448.44,131.57 L449.7,131.48 L450.95,131.38 L452.21,131.29 L453.47,131.19 L454.73,131.1 L455.98,131 L457.24,130.91 L458.5,130.81 L459.76,130.72 L461.01,130.62 L462.27,130.52 L463.53,130.42 L464.79,130.32 L466.05,130.22 L467.3,130.12 L468.56,130.01 L469.82,129.91 L471.08,129.8 L472.33,129.69 L473.59,129.58 L474.85,129.47 L476.11,129.36 L477.36,129.25 L478.62,129.14 L479.88,129.03 L481.14,128.92 L482.4,128.81 L483.65,128.83 L484.91,128.85 L486.17,128.87 L487.43,128.9 L488.68,128.92 L489.94,128.95 L491.2,128.97 L492.46,128.99 L493.72,125.82 L494.97,121.8 L496.23,117.78 L497.49,113.63 L498.75,104.66 L500,95.68 L501.26,86.7 L502.52,77.39 L503.78,67.63 L505.03,57.86 L506.29,49.19 L507.55,44.65 L508.81,40.1 L510.07,35.58 L511.32,35.52 L512.58,35.46 L513.84,35.39 L515.1,35.33 L516.35,35.26 L517.61,35.2 L518.87,35.14 L520.13,35.07 L521.38,34.97 L522.64,34.67 L523.9,34.37 L525.16,34.07 L526.42,33.77 L527.67,33.47 L528.93,33.18 L530.19,32.88 L531.45,32 L532.7,31.11 L533.96,30.21 L535.22,29.32 L536.48,28.43 L537.73,27.53 L538.99,29.83 L540.25,32.25 L541.51,34.67 L542.77,37.08 L544.02,40.19 L545.28,43.32 L546.54,46.45 L547.8,49.58 L549.05,52.68 L550.31,55.57 L551.57,58.45 L552.83,61.34 L554.09,64.22 L555.34,67.11 L556.6,70.01 L557.86,72.91 L559.12,75.81 L560.37,78.72 L561.63,81.77 L562.89,85.79 L564.15,89.81 L565.4,93.84 L566.66,98.4 L567.92,103 L569.18,107.21 L570.44,108.56 L571.69,109.91 L572.95,111.26 L574.21,112.55 L575.47,113.36 L576.72,114.18 L577.98,114.99 L579.24,115.79 L580.5,116.6 L581.75,117.4 L583.01,118.2 L584.27,118.98 L585.53,119.53 L586.79,120.08 L588.04,120.63 L589.3,121.18 L590.56,121.73 L591.82,122.28 L593.07,122.83 L594.33,123.38 L595.59,123.93 L596.85,124.37 L598.1,124.71 L599.36,125.04 L600.62,125.38 L601.88,125.72 L603.14,126.06 L604.39,126.4 L605.65,126.75 L606.91,127.09 L608.17,127.44 L609.42,127.79 L610.68,128.15 L611.94,128.5 L613.2,128.85 L614.46,129.15 L615.71,129.38 L616.97,129.61 L618.23,129.84 L619.49,130.07 L620.74,130.3 L622,130.53 L623.26,130.77 L624.52,131 L625.77,131.23 L627.03,131.47 L628.29,131.7 L629.55,131.88 L630.81,132.05 L632.06,132.22 L633.32,132.38 L634.58,132.55 L635.84,132.71 L637.09,132.87 L638.35,133.03 L639.61,133.18 L640.87,133.33 L642.12,133.48 L643.38,133.62 L644.64,133.76 L645.9,133.89 L647.16,134.01 L648.41,134.06 L649.67,134.03 L650.93,134 L652.19,133.95" fill="none" stroke="#111" stroke-width="0.75" />
<path d="M372.97,138.3 L372.97,137.2 L374.23,137.17 L375.48,137.15 L376.74,137.14 L377.99,137.12 L379.25,137.11 L380.5,137.1 L381.76,137.09 L383.01,137.08 L384.26,137.08 L385.52,137.07 L386.77,137.07 L388.03,137.07 L389.28,137.08 L390.54,137.08 L391.79,137.08 L393.04,137.09 L394.3,137.09 L395.55,137.09 L396.81,137.08 L398.06,137.08 L399.32,137.07 L400.57,137.06 L401.82,137.04 L403.08,137.02 L404.33,136.99 L405.59,136.96 L406.84,136.92 L408.1,136.87 L409.35,136.82 L410.61,136.76 L411.86,136.69 L413.11,136.62 L414.37,136.55 L415.62,136.47 L416.88,136.38 L418.13,136.29 L419.39,136.2 L420.64,136.11 L421.89,136.01 L423.15,135.91 L424.4,135.82 L425.66,135.72 L426.91,135.63 L428.17,135.54 L429.42,135.45 L430.67,135.36 L431.93,135.28 L433.18,135.2 L434.44,135.13 L435.69,135.06 L436.95,134.99 L438.2,134.93 L439.46,134.87 L440.71,134.81 L441.96,134.76 L443.22,134.7 L444.47,134.65 L445.73,134.59 L446.98,134.53 L448.24,134.47 L449.49,134.4 L450.74,134.33 L452,134.25 L453.25,134.17 L454.51,134.08 L455.76,133.98 L457.02,133.88 L458.27,133.77 L459.52,133.65 L460.78,133.52 L462.03,133.39 L463.29,133.26 L464.54,133.12 L465.8,132.97 L467.05,132.83 L468.31,132.67 L469.56,132.52 L470.81,132.37 L472.07,132.21 L473.32,132.06 L474.58,131.91 L475.83,131.76 L477.09,131.64 L478.34,131.62 L479.59,131.61 L480.85,130.26 L482.1,128.51 L483.36,124.95 L484.61,120.97 L485.87,116.99 L487.12,112.72 L488.37,107.21 L489.63,101.7 L490.88,96.19 L492.14,90.68 L493.39,85.17 L494.65,79.65 L495.9,74.13 L497.16,69.68 L498.41,65.26 L499.66,60.84 L500.92,56.42 L502.17,54.22 L503.43,52.15 L504.68,50.08 L505.94,48 L507.19,46.09 L508.44,45.35 L509.7,44.62 L510.95,43.88 L512.21,43.14 L513.46,42.4 L514.72,41.71 L515.97,41.43 L517.23,41.16 L518.48,40.88 L519.73,40.6 L520.99,40.33 L522.24,40.03 L523.5,39.4 L524.75,38.77 L526.01,38.14 L527.26,37.51 L528.51,35.5 L529.77,32.74 L531.02,29.98 L532.28,27.37 L533.53,29.79 L534.79,32.2 L536.04,34.61 L537.29,37.03 L538.55,40.17 L539.8,43.44 L541.06,46.72 L542.31,49.99 L543.57,53.22 L544.82,56.24 L546.08,59.24 L547.33,62.24 L548.58,65.24 L549.84,68.25 L551.09,71.25 L552.35,74.24 L553.6,77.23 L554.86,80.23 L556.11,83.37 L557.36,87.43 L558.62,91.47 L559.87,95.5 L561.13,100.06 L562.38,104.64 L563.64,108.86 L564.89,110.32 L566.14,111.78 L567.4,113.23 L568.65,114.64 L569.91,115.58 L571.16,116.48 L572.42,117.38 L573.67,118.28 L574.93,119.18 L576.18,120.09 L577.43,120.94 L578.69,121.76 L579.94,122.35 L581.2,122.95 L582.45,123.55 L583.71,124.15 L584.96,124.75 L586.21,125.33 L587.47,125.89 L588.72,126.46 L589.98,127.02 L591.23,127.5 L592.49,127.85 L593.74,128.2 L594.99,128.54 L596.25,128.88 L597.5,129.21 L598.76,129.54 L600.01,129.86 L601.27,130.18 L602.52,130.5 L603.78,130.81 L605.03,131.13 L606.28,131.44 L607.54,131.74 L608.79,132.01 L610.05,132.2 L611.3,132.39 L612.56,132.58 L613.81,132.78 L615.06,132.97 L616.32,133.18 L617.57,133.38 L618.83,133.59 L620.08,133.81 L621.34,134.03 L622.59,134.25 L623.84,134.43 L625.1,134.6 L626.35,134.78 L627.61,134.95 L628.86,135.13 L630.12,135.31 L631.37,135.49 L632.63,135.67 L633.88,135.85 L635.13,136.04 L636.39,136.22 L637.64,136.39 L638.9,136.56 L640.15,136.73 L641.41,136.89 L642.66,137.04 L643.91,137.11 L645.17,137.09 L646.42,137.07 L647.68,137.04 L648.93,137.01 L648.93,138.3 Z" fill="rgba(119,119,255,0.72)" stroke="none" stroke-width="1" />
<path d="M372.97,137.2 L374.23,137.17 L375.48,137.15 L376.74,137.14 L377.99,137.12 L379.25,137.11 L380.5,137.1 L381.76,137.09 L383.01,137.08 L384.26,137.08 L385.52,137.07 L386.77,137.07 L388.03,137.07 L389.28,137.08 L390.54,137.08 L391.79,137.08 L393.04,137.09 L394.3,137.09 L395.55,137.09 L396.81,137.08 L398.06,137.08 L399.32,137.07 L400.57,137.06 L401.82,137.04 L403.08,137.02 L404.33,136.99 L405.59,136.96 L406.84,136.92 L408.1,136.87 L409.35,136.82 L410.61,136.76 L411.86,136.69 L413.11,136.62 L414.37,136.55 L415.62,136.47 L416.88,136.38 L418.13,136.29 L419.39,136.2 L420.64,136.11 L421.89,136.01 L423.15,135.91 L424.4,135.82 L425.66,135.72 L426.91,135.63 L428.17,135.54 L429.42,135.45 L430.67,135.36 L431.93,135.28 L433.18,135.2 L434.44,135.13 L435.69,135.06 L436.95,134.99 L438.2,134.93 L439.46,134.87 L440.71,134.81 L441.96,134.76 L443.22,134.7 L444.47,134.65 L445.73,134.59 L446.98,134.53 L448.24,134.47 L449.49,134.4 L450.74,134.33 L452,134.25 L453.25,134.17 L454.51,134.08 L455.76,133.98 L457.02,133.88 L458.27,133.77 L459.52,133.65 L460.78,133.52 L462.03,133.39 L463.29,133.26 L464.54,133.12 L465.8,132.97 L467.05,132.83 L468.31,132.67 L469.56,132.52 L470.81,132.37 L472.07,132.21 L473.32,132.06 L474.58,131.91 L475.83,131.76 L477.09,131.64 L478.34,131.62 L479.59,131.61 L480.85,130.26 L482.1,128.51 L483.36,124.95 L484.61,120.97 L485.87,116.99 L487.12,112.72 L488.37,107.21 L489.63,101.7 L490.88,96.19 L492.14,90.68 L493.39,85.17 L494.65,79.65 L495.9,74.13 L497.16,69.68 L498.41,65.26 L499.66,60.84 L500.92,56.42 L502.17,54.22 L503.43,52.15 L504.68,50.08 L505.94,48 L507.19,46.09 L508.44,45.35 L509.7,44.62 L510.95,43.88 L512.21,43.14 L513.46,42.4 L514.72,41.71 L515.97,41.43 L517.23,41.16 L518.48,40.88 L519.73,40.6 L520.99,40.33 L522.24,40.03 L523.5,39.4 L524.75,38.77 L526.01,38.14 L527.26,37.51 L528.51,35.5 L529.77,32.74 L531.02,29.98 L532.28,27.37 L533.53,29.79 L534.79,32.2 L536.04,34.61 L537.29,37.03 L538.55,40.17 L539.8,43.44 L541.06,46.72 L542.31,49.99 L543.57,53.22 L544.82,56.24 L546.08,59.24 L547.33,62.24 L548.58,65.24 L549.84,68.25 L551.09,71.25 L552.35,74.24 L553.6,77.23 L554.86,80.23 L556.11,83.37 L557.36,87.43 L558.62,91.47 L559.87,95.5 L561.13,100.06 L562.38,104.64 L563.64,108.86 L564.89,110.32 L566.14,111.78 L567.4,113.23 L568.65,114.64 L569.91,115.58 L571.16,116.48 L572.42,117.38 L573.67,118.28 L574.93,119.18 L576.18,120.09 L577.43,120.94 L578.69,121.76 L579.94,122.35 L581.2,122.95 L582.45,123.55 L583.71,124.15 L584.96,124.75 L586.21,125.33 L587.47,125.89 L588.72,126.46 L589.98,127.02 L591.23,127.5 L592.49,127.85 L593.74,128.2 L594.99,128.54 L596.25,128.88 L597.5,129.21 L598.76,129.54 L600.01,129.86 L601.27,130.18 L602.52,130.5 L603.78,130.81 L605.03,131.13 L606.28,131.44 L607.54,131.74 L608.79,132.01 L610.05,132.2 L611.3,132.39 L612.56,132.58 L613.81,132.78 L615.06,132.97 L616.32,133.18 L617.57,133.38 L618.83,133.59 L620.08,133.81 L621.34,134.03 L622.59,134.25 L623.84,134.43 L625.1,134.6 L626.35,134.78 L627.61,134.95 L628.86,135.13 L630.12,135.31 L631.37,135.49 L632.63,135.67 L633.88,135.85 L635.13,136.04 L636.39,136.22 L637.64,136.39 L638.9,136.56 L640.15,136.73 L641.41,136.89 L642.66,137.04 L643.91,137.11 L645.17,137.09 L646.42,137.07 L647.68,137.04 L648.93,137.01" fill="none" stroke="#111" stroke-width="0.75" />
<path d="M368.89,143.5 L368.89,142.52 L370.14,142.54 L371.39,142.55 L372.64,142.56 L373.89,142.56 L375.14,142.55 L376.39,142.54 L377.64,142.52 L378.9,142.49 L380.15,142.46 L381.4,142.43 L382.65,142.39 L383.9,142.35 L385.15,142.3 L386.4,142.26 L387.65,142.21 L388.9,142.16 L390.15,142.12 L391.4,142.07 L392.66,142.03 L393.91,141.99 L395.16,141.95 L396.41,141.91 L397.66,141.88 L398.91,141.85 L400.16,141.82 L401.41,141.8 L402.66,141.77 L403.91,141.75 L405.17,141.73 L406.42,141.7 L407.67,141.68 L408.92,141.65 L410.17,141.62 L411.42,141.59 L412.67,141.56 L413.92,141.51 L415.17,141.47 L416.42,141.42 L417.68,141.36 L418.93,141.29 L420.18,141.22 L421.43,141.15 L422.68,141.07 L423.93,140.98 L425.18,140.89 L426.43,140.79 L427.68,140.69 L428.93,140.58 L430.19,140.48 L431.44,140.37 L432.69,140.26 L433.94,140.15 L435.19,140.03 L436.44,139.92 L437.69,139.82 L438.94,139.71 L440.19,139.6 L441.44,139.5 L442.7,139.39 L443.95,139.29 L445.2,139.19 L446.45,139.09 L447.7,138.99 L448.95,138.89 L450.2,138.79 L451.45,138.69 L452.7,138.59 L453.95,138.48 L455.21,138.37 L456.46,138.26 L457.71,138.15 L458.96,138.03 L460.21,137.9 L461.46,137.78 L462.71,137.64 L463.96,137.51 L465.21,137.36 L466.46,137.22 L467.72,137.07 L468.97,136.91 L470.22,136.76 L471.47,136.68 L472.72,136.67 L473.97,136.38 L475.22,134.57 L476.47,132.33 L477.72,128.24 L478.97,124.15 L480.23,120.07 L481.48,115.11 L482.73,109.46 L483.98,103.82 L485.23,98.18 L486.48,92.54 L487.73,86.9 L488.98,81.26 L490.23,75.96 L491.48,71.45 L492.74,66.94 L493.99,62.42 L495.24,58.57 L496.49,56.46 L497.74,54.34 L498.99,52.22 L500.24,50.1 L501.49,48.59 L502.74,47.83 L503.99,47.08 L505.24,46.32 L506.5,45.57 L507.75,44.81 L509,44.24 L510.25,43.96 L511.5,43.67 L512.75,43.38 L514,43.1 L515.25,42.81 L516.5,42.39 L517.75,41.74 L519.01,41.1 L520.26,40.45 L521.51,39.8 L522.76,37.13 L524.01,34.3 L525.26,31.47 L526.51,30.22 L527.76,32.61 L529.01,35 L530.26,37.39 L531.52,39.96 L532.77,43.17 L534.02,46.57 L535.27,49.98 L536.52,53.38 L537.77,56.69 L539.02,59.8 L540.27,62.91 L541.52,66.02 L542.77,69.13 L544.03,72.25 L545.28,75.34 L546.53,78.41 L547.78,81.49 L549.03,84.56 L550.28,88.01 L551.53,92.08 L552.78,96.12 L554.03,100.23 L555.28,104.79 L556.54,109.35 L557.79,112.94 L559.04,114.51 L560.29,116.08 L561.54,117.64 L562.79,119.06 L564.04,120.13 L565.29,121.11 L566.54,122.09 L567.79,123.07 L569.05,124.06 L570.3,125.04 L571.55,125.9 L572.8,126.68 L574.05,127.29 L575.3,127.91 L576.55,128.53 L577.8,129.15 L579.05,129.78 L580.3,130.33 L581.56,130.88 L582.81,131.44 L584.06,132 L585.31,132.44 L586.56,132.8 L587.81,133.15 L589.06,133.51 L590.31,133.85 L591.56,134.18 L592.81,134.51 L594.07,134.83 L595.32,135.16 L596.57,135.48 L597.82,135.79 L599.07,136.11 L600.32,136.42 L601.57,136.73 L602.82,136.98 L604.07,137.18 L605.32,137.37 L606.58,137.57 L607.83,137.77 L609.08,137.96 L610.33,138.16 L611.58,138.37 L612.83,138.57 L614.08,138.78 L615.33,138.99 L616.58,139.2 L617.83,139.38 L619.08,139.54 L620.34,139.71 L621.59,139.88 L622.84,140.05 L624.09,140.22 L625.34,140.4 L626.59,140.58 L627.84,140.79 L629.09,140.99 L630.34,141.19 L631.59,141.39 L632.85,141.59 L634.1,141.78 L635.35,141.97 L636.6,142.16 L637.85,142.34 L639.1,142.36 L640.35,142.36 L641.6,142.34 L642.85,142.32 L644.1,142.3 L644.1,143.5 Z" fill="rgba(192,192,255,0.72)" stroke="none" stroke-width="1" />
<path d="M368.89,142.52 L370.14,142.54 L371.39,142.55 L372.64,142.56 L373.89,142.56 L375.14,142.55 L376.39,142.54 L377.64,142.52 L378.9,142.49 L380.15,142.46 L381.4,142.43 L382.65,142.39 L383.9,142.35 L385.15,142.3 L386.4,142.26 L387.65,142.21 L388.9,142.16 L390.15,142.12 L391.4,142.07 L392.66,142.03 L393.91,141.99 L395.16,141.95 L396.41,141.91 L397.66,141.88 L398.91,141.85 L400.16,141.82 L401.41,141.8 L402.66,141.77 L403.91,141.75 L405.17,141.73 L406.42,141.7 L407.67,141.68 L408.92,141.65 L410.17,141.62 L411.42,141.59 L412.67,141.56 L413.92,141.51 L415.17,141.47 L416.42,141.42 L417.68,141.36 L418.93,141.29 L420.18,141.22 L421.43,141.15 L422.68,141.07 L423.93,140.98 L425.18,140.89 L426.43,140.79 L427.68,140.69 L428.93,140.58 L430.19,140.48 L431.44,140.37 L432.69,140.26 L433.94,140.15 L435.19,140.03 L436.44,139.92 L437.69,139.82 L438.94,139.71 L440.19,139.6 L441.44,139.5 L442.7,139.39 L443.95,139.29 L445.2,139.19 L446.45,139.09 L447.7,138.99 L448.95,138.89 L450.2,138.79 L451.45,138.69 L452.7,138.59 L453.95,138.48 L455.21,138.37 L456.46,138.26 L457.71,138.15 L458.96,138.03 L460.21,137.9 L461.46,137.78 L462.71,137.64 L463.96,137.51 L465.21,137.36 L466.46,137.22 L467.72,137.07 L468.97,136.91 L470.22,136.76 L471.47,136.68 L472.72,136.67 L473.97,136.38 L475.22,134.57 L476.47,132.33 L477.72,128.24 L478.97,124.15 L480.23,120.07 L481.48,115.11 L482.73,109.46 L483.98,103.82 L485.23,98.18 L486.48,92.54 L487.73,86.9 L488.98,81.26 L490.23,75.96 L491.48,71.45 L492.74,66.94 L493.99,62.42 L495.24,58.57 L496.49,56.46 L497.74,54.34 L498.99,52.22 L500.24,50.1 L501.49,48.59 L502.74,47.83 L503.99,47.08 L505.24,46.32 L506.5,45.57 L507.75,44.81 L509,44.24 L510.25,43.96 L511.5,43.67 L512.75,43.38 L514,43.1 L515.25,42.81 L516.5,42.39 L517.75,41.74 L519.01,41.1 L520.26,40.45 L521.51,39.8 L522.76,37.13 L524.01,34.3 L525.26,31.47 L526.51,30.22 L527.76,32.61 L529.01,35 L530.26,37.39 L531.52,39.96 L532.77,43.17 L534.02,46.57 L535.27,49.98 L536.52,53.38 L537.77,56.69 L539.02,59.8 L540.27,62.91 L541.52,66.02 L542.77,69.13 L544.03,72.25 L545.28,75.34 L546.53,78.41 L547.78,81.49 L549.03,84.56 L550.28,88.01 L551.53,92.08 L552.78,96.12 L554.03,100.23 L555.28,104.79 L556.54,109.35 L557.79,112.94 L559.04,114.51 L560.29,116.08 L561.54,117.64 L562.79,119.06 L564.04,120.13 L565.29,121.11 L566.54,122.09 L567.79,123.07 L569.05,124.06 L570.3,125.04 L571.55,125.9 L572.8,126.68 L574.05,127.29 L575.3,127.91 L576.55,128.53 L577.8,129.15 L579.05,129.78 L580.3,130.33 L581.56,130.88 L582.81,131.44 L584.06,132 L585.31,132.44 L586.56,132.8 L587.81,133.15 L589.06,133.51 L590.31,133.85 L591.56,134.18 L592.81,134.51 L594.07,134.83 L595.32,135.16 L596.57,135.48 L597.82,135.79 L599.07,136.11 L600.32,136.42 L601.57,136.73 L602.82,136.98 L604.07,137.18 L605.32,137.37 L606.58,137.57 L607.83,137.77 L609.08,137.96 L610.33,138.16 L611.58,138.37 L612.83,138.57 L614.08,138.78 L615.33,138.99 L616.58,139.2 L617.83,139.38 L619.08,139.54 L620.34,139.71 L621.59,139.88 L622.84,140.05 L624.09,140.22 L625.34,140.4 L626.59,140.58 L627.84,140.79 L629.09,140.99 L630.34,141.19 L631.59,141.39 L632.85,141.59 L634.1,141.78 L635.35,141.97 L636.6,142.16 L637.85,142.34 L639.1,142.36 L640.35,142.36 L641.6,142.34 L642.85,142.32 L644.1,142.3" fill="none" stroke="#111" stroke-width="0.75" />
<path d="M364.8,148.7 L364.8,147.63 L366.05,147.61 L367.29,147.58 L368.54,147.54 L369.79,147.52 L371.04,147.49 L372.29,147.46 L373.53,147.44 L374.78,147.43 L376.03,147.41 L377.28,147.41 L378.52,147.4 L379.77,147.4 L381.02,147.41 L382.27,147.42 L383.51,147.42 L384.76,147.43 L386.01,147.44 L387.26,147.45 L388.5,147.45 L389.75,147.44 L391,147.43 L392.25,147.42 L393.49,147.39 L394.74,147.36 L395.99,147.32 L397.24,147.28 L398.49,147.22 L399.73,147.16 L400.98,147.09 L402.23,147.01 L403.48,146.93 L404.72,146.85 L405.97,146.76 L407.22,146.68 L408.47,146.59 L409.71,146.51 L410.96,146.43 L412.21,146.35 L413.46,146.28 L414.7,146.21 L415.95,146.15 L417.2,146.09 L418.45,146.03 L419.7,145.97 L420.94,145.92 L422.19,145.87 L423.44,145.82 L424.69,145.76 L425.93,145.71 L427.18,145.64 L428.43,145.58 L429.68,145.51 L430.92,145.43 L432.17,145.34 L433.42,145.25 L434.67,145.15 L435.91,145.04 L437.16,144.93 L438.41,144.81 L439.66,144.68 L440.9,144.55 L442.15,144.42 L443.4,144.29 L444.65,144.16 L445.9,144.03 L447.14,143.9 L448.39,143.77 L449.64,143.65 L450.89,143.53 L452.13,143.42 L453.38,143.31 L454.63,143.2 L455.88,143.1 L457.12,143 L458.37,142.9 L459.62,142.81 L460.87,142.71 L462.11,142.61 L463.36,142.51 L464.61,142.41 L465.86,142.3 L467.11,142.26 L468.35,142.28 L469.6,142.07 L470.85,140.33 L472.1,138.23 L473.34,134.25 L474.59,130.27 L475.84,126.28 L477.09,121.49 L478.33,115.98 L479.58,110.46 L480.83,104.95 L482.08,99.44 L483.32,93.93 L484.57,88.43 L485.82,83.2 L487.07,78.8 L488.31,74.41 L489.56,70.01 L490.81,66.11 L492.06,64.05 L493.31,62 L494.55,59.94 L495.8,57.88 L497.05,56.31 L498.3,55.58 L499.54,54.85 L500.79,54.12 L502.04,53.39 L503.29,52.66 L504.53,52.07 L505.78,51.79 L507.03,51.52 L508.28,51.24 L509.52,50.97 L510.77,50.69 L512.02,50.33 L513.27,49.7 L514.51,49.07 L515.76,48.44 L517.01,47.82 L518.26,45.49 L519.51,42.74 L520.75,39.99 L522,38.07 L523.25,40.32 L524.5,42.57 L525.74,44.83 L526.99,47.15 L528.24,50.16 L529.49,53.52 L530.73,56.89 L531.98,60.26 L533.23,63.58 L534.48,66.65 L535.72,69.71 L536.97,72.77 L538.22,75.83 L539.47,78.89 L540.72,81.91 L541.96,84.9 L543.21,87.89 L544.46,90.87 L545.71,94.02 L546.95,97.88 L548.2,101.69 L549.45,105.49 L550.7,109.73 L551.94,113.99 L553.19,117.93 L554.44,119.51 L555.69,121.08 L556.93,122.66 L558.18,124.2 L559.43,125.33 L560.68,126.36 L561.92,127.37 L563.17,128.39 L564.42,129.41 L565.67,130.43 L566.92,131.33 L568.16,132.15 L569.41,132.77 L570.66,133.39 L571.91,134.02 L573.15,134.65 L574.4,135.29 L575.65,135.84 L576.9,136.36 L578.14,136.89 L579.39,137.41 L580.64,137.87 L581.89,138.21 L583.13,138.54 L584.38,138.87 L585.63,139.18 L586.88,139.47 L588.13,139.75 L589.37,140.03 L590.62,140.31 L591.87,140.59 L593.12,140.87 L594.36,141.15 L595.61,141.43 L596.86,141.72 L598.11,141.99 L599.35,142.18 L600.6,142.38 L601.85,142.58 L603.1,142.79 L604.34,143.01 L605.59,143.23 L606.84,143.45 L608.09,143.67 L609.33,143.9 L610.58,144.12 L611.83,144.35 L613.08,144.54 L614.33,144.71 L615.57,144.87 L616.82,145.02 L618.07,145.17 L619.32,145.31 L620.56,145.44 L621.81,145.57 L623.06,145.72 L624.31,145.87 L625.55,146.02 L626.8,146.16 L628.05,146.3 L629.3,146.44 L630.54,146.58 L631.79,146.73 L633.04,146.87 L634.29,146.97 L635.53,147.02 L636.78,147.02 L638.03,147.01 L639.28,147.02 L639.28,148.7 Z" fill="rgba(224,229,255,0.72)" stroke="none" stroke-width="1" />
<path d="M364.8,147.63 L366.05,147.61 L367.29,147.58 L368.54,147.54 L369.79,147.52 L371.04,147.49 L372.29,147.46 L373.53,147.44 L374.78,147.43 L376.03,147.41 L377.28,147.41 L378.52,147.4 L379.77,147.4 L381.02,147.41 L382.27,147.42 L383.51,147.42 L384.76,147.43 L386.01,147.44 L387.26,147.45 L388.5,147.45 L389.75,147.44 L391,147.43 L392.25,147.42 L393.49,147.39 L394.74,147.36 L395.99,147.32 L397.24,147.28 L398.49,147.22 L399.73,147.16 L400.98,147.09 L402.23,147.01 L403.48,146.93 L404.72,146.85 L405.97,146.76 L407.22,146.68 L408.47,146.59 L409.71,146.51 L410.96,146.43 L412.21,146.35 L413.46,146.28 L414.7,146.21 L415.95,146.15 L417.2,146.09 L418.45,146.03 L419.7,145.97 L420.94,145.92 L422.19,145.87 L423.44,145.82 L424.69,145.76 L425.93,145.71 L427.18,145.64 L428.43,145.58 L429.68,145.51 L430.92,145.43 L432.17,145.34 L433.42,145.25 L434.67,145.15 L435.91,145.04 L437.16,144.93 L438.41,144.81 L439.66,144.68 L440.9,144.55 L442.15,144.42 L443.4,144.29 L444.65,144.16 L445.9,144.03 L447.14,143.9 L448.39,143.77 L449.64,143.65 L450.89,143.53 L452.13,143.42 L453.38,143.31 L454.63,143.2 L455.88,143.1 L457.12,143 L458.37,142.9 L459.62,142.81 L460.87,142.71 L462.11,142.61 L463.36,142.51 L464.61,142.41 L465.86,142.3 L467.11,142.26 L468.35,142.28 L469.6,142.07 L470.85,140.33 L472.1,138.23 L473.34,134.25 L474.59,130.27 L475.84,126.28 L477.09,121.49 L478.33,115.98 L479.58,110.46 L480.83,104.95 L482.08,99.44 L483.32,93.93 L484.57,88.43 L485.82,83.2 L487.07,78.8 L488.31,74.41 L489.56,70.01 L490.81,66.11 L492.06,64.05 L493.31,62 L494.55,59.94 L495.8,57.88 L497.05,56.31 L498.3,55.58 L499.54,54.85 L500.79,54.12 L502.04,53.39 L503.29,52.66 L504.53,52.07 L505.78,51.79 L507.03,51.52 L508.28,51.24 L509.52,50.97 L510.77,50.69 L512.02,50.33 L513.27,49.7 L514.51,49.07 L515.76,48.44 L517.01,47.82 L518.26,45.49 L519.51,42.74 L520.75,39.99 L522,38.07 L523.25,40.32 L524.5,42.57 L525.74,44.83 L526.99,47.15 L528.24,50.16 L529.49,53.52 L530.73,56.89 L531.98,60.26 L533.23,63.58 L534.48,66.65 L535.72,69.71 L536.97,72.77 L538.22,75.83 L539.47,78.89 L540.72,81.91 L541.96,84.9 L543.21,87.89 L544.46,90.87 L545.71,94.02 L546.95,97.88 L548.2,101.69 L549.45,105.49 L550.7,109.73 L551.94,113.99 L553.19,117.93 L554.44,119.51 L555.69,121.08 L556.93,122.66 L558.18,124.2 L559.43,125.33 L560.68,126.36 L561.92,127.37 L563.17,128.39 L564.42,129.41 L565.67,130.43 L566.92,131.33 L568.16,132.15 L569.41,132.77 L570.66,133.39 L571.91,134.02 L573.15,134.65 L574.4,135.29 L575.65,135.84 L576.9,136.36 L578.14,136.89 L579.39,137.41 L580.64,137.87 L581.89,138.21 L583.13,138.54 L584.38,138.87 L585.63,139.18 L586.88,139.47 L588.13,139.75 L589.37,140.03 L590.62,140.31 L591.87,140.59 L593.12,140.87 L594.36,141.15 L595.61,141.43 L596.86,141.72 L598.11,141.99 L599.35,142.18 L600.6,142.38 L601.85,142.58 L603.1,142.79 L604.34,143.01 L605.59,143.23 L606.84,143.45 L608.09,143.67 L609.33,143.9 L610.58,144.12 L611.83,144.35 L613.08,144.54 L614.33,144.71 L615.57,144.87 L616.82,145.02 L618.07,145.17 L619.32,145.31 L620.56,145.44 L621.81,145.57 L623.06,145.72 L624.31,145.87 L625.55,146.02 L626.8,146.16 L628.05,146.3 L629.3,146.44 L630.54,146.58 L631.79,146.73 L633.04,146.87 L634.29,146.97 L635.53,147.02 L636.78,147.02 L638.03,147.01 L639.28,147.02" fill="none" stroke="#111" stroke-width="0.75" />
<path d="M360.32,154.4 L360.32,153.54 L361.56,153.56 L362.81,153.58 L364.05,153.59 L365.3,153.6 L366.54,153.6 L367.78,153.6 L369.03,153.6 L370.27,153.59 L371.52,153.58 L372.76,153.56 L374.01,153.54 L375.25,153.51 L376.49,153.48 L377.74,153.44 L378.98,153.39 L380.23,153.34 L381.47,153.29 L382.72,153.23 L383.96,153.17 L385.2,153.11 L386.45,153.04 L387.69,152.97 L388.94,152.9 L390.18,152.83 L391.43,152.76 L392.67,152.69 L393.91,152.62 L395.16,152.54 L396.4,152.47 L397.65,152.41 L398.89,152.34 L400.14,152.27 L401.38,152.21 L402.62,152.15 L403.87,152.09 L405.11,152.04 L406.36,151.99 L407.6,151.94 L408.85,151.89 L410.09,151.84 L411.33,151.8 L412.58,151.75 L413.82,151.71 L415.07,151.67 L416.31,151.62 L417.56,151.58 L418.8,151.53 L420.04,151.48 L421.29,151.43 L422.53,151.38 L423.78,151.32 L425.02,151.26 L426.26,151.2 L427.51,151.13 L428.75,151.06 L430,150.98 L431.24,150.9 L432.49,150.81 L433.73,150.72 L434.97,150.62 L436.22,150.52 L437.46,150.41 L438.71,150.3 L439.95,150.19 L441.2,150.07 L442.44,149.95 L443.68,149.82 L444.93,149.69 L446.17,149.56 L447.42,149.43 L448.66,149.29 L449.91,149.16 L451.15,149.02 L452.39,148.88 L453.64,148.74 L454.88,148.6 L456.13,148.46 L457.37,148.32 L458.62,148.18 L459.86,148.04 L461.1,147.89 L462.35,147.83 L463.59,147.83 L464.84,147.65 L466.08,145.91 L467.33,143.89 L468.57,139.95 L469.81,136.01 L471.06,132.07 L472.3,127.4 L473.55,121.95 L474.79,116.5 L476.04,111.05 L477.28,105.59 L478.52,100.14 L479.77,94.69 L481.01,89.45 L482.26,85.08 L483.5,80.72 L484.75,76.36 L485.99,72.32 L487.23,70.28 L488.48,68.23 L489.72,66.19 L490.97,64.14 L492.21,62.47 L493.46,61.74 L494.7,61.02 L495.94,60.29 L497.19,59.56 L498.43,58.84 L499.68,58.2 L500.92,57.93 L502.17,57.66 L503.41,57.39 L504.65,57.12 L505.9,56.84 L507.14,56.53 L508.39,55.91 L509.63,55.29 L510.88,54.67 L512.12,54.05 L513.36,52.01 L514.61,49.28 L515.85,46.56 L517.1,43.96 L518.34,46.12 L519.59,48.29 L520.83,50.46 L522.07,52.62 L523.32,55.43 L524.56,58.82 L525.81,62.21 L527.05,65.61 L528.3,68.98 L529.54,72.08 L530.78,75.13 L532.03,78.18 L533.27,81.23 L534.52,84.27 L535.76,87.28 L537,90.23 L538.25,93.18 L539.49,96.12 L540.74,99.07 L541.98,102.82 L543.23,106.49 L544.47,110.16 L545.71,114.15 L546.96,118.25 L548.2,122.35 L549.45,124.23 L550.69,125.9 L551.94,127.57 L553.18,129.25 L554.42,130.58 L555.67,131.75 L556.91,132.86 L558.16,133.97 L559.4,135.08 L560.65,136.19 L561.89,137.19 L563.13,138.01 L564.38,138.69 L565.62,139.32 L566.87,139.96 L568.11,140.59 L569.36,141.22 L570.6,141.78 L571.84,142.26 L573.09,142.74 L574.33,143.23 L575.58,143.7 L576.82,144.01 L578.07,144.32 L579.31,144.63 L580.55,144.94 L581.8,145.21 L583.04,145.47 L584.29,145.73 L585.53,146 L586.78,146.26 L588.02,146.53 L589.26,146.79 L590.51,147.06 L591.75,147.33 L593,147.6 L594.24,147.8 L595.49,147.98 L596.73,148.17 L597.97,148.37 L599.22,148.57 L600.46,148.77 L601.71,148.98 L602.95,149.18 L604.2,149.39 L605.44,149.6 L606.68,149.81 L607.93,150.01 L609.17,150.17 L610.42,150.33 L611.66,150.49 L612.91,150.65 L614.15,150.81 L615.39,150.97 L616.64,151.12 L617.88,151.3 L619.13,151.49 L620.37,151.68 L621.62,151.87 L622.86,152.06 L624.1,152.24 L625.35,152.42 L626.59,152.6 L627.84,152.77 L629.08,152.94 L630.33,153.01 L631.57,153.08 L632.81,153.1 L634.06,153.07 L634.06,154.4 Z" fill="rgba(252,222,222,0.72)" stroke="none" stroke-width="1" />
<path d="M360.32,153.54 L361.56,153.56 L362.81,153.58 L364.05,153.59 L365.3,153.6 L366.54,153.6 L367.78,153.6 L369.03,153.6 L370.27,153.59 L371.52,153.58 L372.76,153.56 L374.01,153.54 L375.25,153.51 L376.49,153.48 L377.74,153.44 L378.98,153.39 L380.23,153.34 L381.47,153.29 L382.72,153.23 L383.96,153.17 L385.2,153.11 L386.45,153.04 L387.69,152.97 L388.94,152.9 L390.18,152.83 L391.43,152.76 L392.67,152.69 L393.91,152.62 L395.16,152.54 L396.4,152.47 L397.65,152.41 L398.89,152.34 L400.14,152.27 L401.38,152.21 L402.62,152.15 L403.87,152.09 L405.11,152.04 L406.36,151.99 L407.6,151.94 L408.85,151.89 L410.09,151.84 L411.33,151.8 L412.58,151.75 L413.82,151.71 L415.07,151.67 L416.31,151.62 L417.56,151.58 L418.8,151.53 L420.04,151.48 L421.29,151.43 L422.53,151.38 L423.78,151.32 L425.02,151.26 L426.26,151.2 L427.51,151.13 L428.75,151.06 L430,150.98 L431.24,150.9 L432.49,150.81 L433.73,150.72 L434.97,150.62 L436.22,150.52 L437.46,150.41 L438.71,150.3 L439.95,150.19 L441.2,150.07 L442.44,149.95 L443.68,149.82 L444.93,149.69 L446.17,149.56 L447.42,149.43 L448.66,149.29 L449.91,149.16 L451.15,149.02 L452.39,148.88 L453.64,148.74 L454.88,148.6 L456.13,148.46 L457.37,148.32 L458.62,148.18 L459.86,148.04 L461.1,147.89 L462.35,147.83 L463.59,147.83 L464.84,147.65 L466.08,145.91 L467.33,143.89 L468.57,139.95 L469.81,136.01 L471.06,132.07 L472.3,127.4 L473.55,121.95 L474.79,116.5 L476.04,111.05 L477.28,105.59 L478.52,100.14 L479.77,94.69 L481.01,89.45 L482.26,85.08 L483.5,80.72 L484.75,76.36 L485.99,72.32 L487.23,70.28 L488.48,68.23 L489.72,66.19 L490.97,64.14 L492.21,62.47 L493.46,61.74 L494.7,61.02 L495.94,60.29 L497.19,59.56 L498.43,58.84 L499.68,58.2 L500.92,57.93 L502.17,57.66 L503.41,57.39 L504.65,57.12 L505.9,56.84 L507.14,56.53 L508.39,55.91 L509.63,55.29 L510.88,54.67 L512.12,54.05 L513.36,52.01 L514.61,49.28 L515.85,46.56 L517.1,43.96 L518.34,46.12 L519.59,48.29 L520.83,50.46 L522.07,52.62 L523.32,55.43 L524.56,58.82 L525.81,62.21 L527.05,65.61 L528.3,68.98 L529.54,72.08 L530.78,75.13 L532.03,78.18 L533.27,81.23 L534.52,84.27 L535.76,87.28 L537,90.23 L538.25,93.18 L539.49,96.12 L540.74,99.07 L541.98,102.82 L543.23,106.49 L544.47,110.16 L545.71,114.15 L546.96,118.25 L548.2,122.35 L549.45,124.23 L550.69,125.9 L551.94,127.57 L553.18,129.25 L554.42,130.58 L555.67,131.75 L556.91,132.86 L558.16,133.97 L559.4,135.08 L560.65,136.19 L561.89,137.19 L563.13,138.01 L564.38,138.69 L565.62,139.32 L566.87,139.96 L568.11,140.59 L569.36,141.22 L570.6,141.78 L571.84,142.26 L573.09,142.74 L574.33,143.23 L575.58,143.7 L576.82,144.01 L578.07,144.32 L579.31,144.63 L580.55,144.94 L581.8,145.21 L583.04,145.47 L584.29,145.73 L585.53,146 L586.78,146.26 L588.02,146.53 L589.26,146.79 L590.51,147.06 L591.75,147.33 L593,147.6 L594.24,147.8 L595.49,147.98 L596.73,148.17 L597.97,148.37 L599.22,148.57 L600.46,148.77 L601.71,148.98 L602.95,149.18 L604.2,149.39 L605.44,149.6 L606.68,149.81 L607.93,150.01 L609.17,150.17 L610.42,150.33 L611.66,150.49 L612.91,150.65 L614.15,150.81 L615.39,150.97 L616.64,151.12 L617.88,151.3 L619.13,151.49 L620.37,151.68 L621.62,151.87 L622.86,152.06 L624.1,152.24 L625.35,152.42 L626.59,152.6 L627.84,152.77 L629.08,152.94 L630.33,153.01 L631.57,153.08 L632.81,153.1 L634.06,153.07" fill="none" stroke="#111" stroke-width="0.75" />
<path d="M356.07,159.8 L356.07,159 L357.31,159 L358.56,159 L359.8,159 L361.04,159 L362.28,158.97 L363.52,158.93 L364.76,158.88 L366,158.83 L367.24,158.78 L368.48,158.74 L369.72,158.69 L370.96,158.65 L372.21,158.61 L373.45,158.58 L374.69,158.55 L375.93,158.52 L377.17,158.49 L378.41,158.47 L379.65,158.45 L380.89,158.43 L382.13,158.41 L383.37,158.39 L384.61,158.37 L385.86,158.35 L387.1,158.32 L388.34,158.29 L389.58,158.26 L390.82,158.22 L392.06,158.18 L393.3,158.13 L394.54,158.07 L395.78,158.01 L397.02,157.94 L398.26,157.87 L399.51,157.79 L400.75,157.71 L401.99,157.62 L403.23,157.53 L404.47,157.44 L405.71,157.35 L406.95,157.26 L408.19,157.16 L409.43,157.07 L410.67,156.98 L411.91,156.89 L413.16,156.81 L414.4,156.73 L415.64,156.65 L416.88,156.57 L418.12,156.5 L419.36,156.43 L420.6,156.36 L421.84,156.3 L423.08,156.23 L424.32,156.17 L425.56,156.1 L426.81,156.03 L428.05,155.97 L429.29,155.89 L430.53,155.82 L431.77,155.74 L433.01,155.65 L434.25,155.56 L435.49,155.46 L436.73,155.36 L437.97,155.25 L439.21,155.14 L440.46,155.02 L441.7,154.89 L442.94,154.76 L444.18,154.63 L445.42,154.49 L446.66,154.35 L447.9,154.21 L449.14,154.06 L450.38,153.92 L451.62,153.78 L452.86,153.63 L454.11,153.49 L455.35,153.35 L456.59,153.23 L457.83,153.23 L459.07,153.23 L460.31,152.05 L461.55,150.33 L462.79,147.07 L464.03,143.17 L465.27,139.27 L466.51,135.29 L467.76,129.88 L469,124.48 L470.24,119.07 L471.48,113.66 L472.72,108.24 L473.96,102.83 L475.2,97.41 L476.44,92.8 L477.68,88.46 L478.92,84.13 L480.16,79.79 L481.41,77.02 L482.65,74.98 L483.89,72.95 L485.13,70.92 L486.37,68.89 L487.61,67.91 L488.85,67.18 L490.09,66.46 L491.33,65.74 L492.57,65.02 L493.81,64.3 L495.06,63.9 L496.3,63.63 L497.54,63.36 L498.78,63.09 L500.02,62.82 L501.26,62.55 L502.5,62.07 L503.74,61.46 L504.98,60.84 L506.22,60.23 L507.46,59.29 L508.71,56.58 L509.95,53.87 L511.19,51.16 L512.43,50.84 L513.67,52.92 L514.91,55 L516.15,57.08 L517.39,59.37 L518.63,62.48 L519.87,65.9 L521.11,69.33 L522.36,72.75 L523.6,76.05 L524.84,79.11 L526.08,82.16 L527.32,85.22 L528.56,88.27 L529.8,91.32 L531.04,94.26 L532.28,97.19 L533.52,100.11 L534.76,103.03 L536.01,106.26 L537.25,109.85 L538.49,113.38 L539.73,116.98 L540.97,120.9 L542.21,124.83 L543.45,128.06 L544.69,129.79 L545.93,131.53 L547.17,133.27 L548.41,134.91 L549.66,136.28 L550.9,137.44 L552.14,138.61 L553.38,139.77 L554.62,140.94 L555.86,142.1 L557.1,142.99 L558.34,143.76 L559.58,144.39 L560.82,145.02 L562.06,145.65 L563.31,146.28 L564.55,146.9 L565.79,147.38 L567.03,147.82 L568.27,148.27 L569.51,148.72 L570.75,149.11 L571.99,149.41 L573.23,149.71 L574.47,150.02 L575.71,150.31 L576.96,150.57 L578.2,150.83 L579.44,151.09 L580.68,151.35 L581.92,151.62 L583.16,151.89 L584.4,152.16 L585.64,152.43 L586.88,152.71 L588.12,152.97 L589.36,153.16 L590.61,153.36 L591.85,153.56 L593.09,153.76 L594.33,153.97 L595.57,154.17 L596.81,154.37 L598.05,154.56 L599.29,154.76 L600.53,154.96 L601.77,155.15 L603.01,155.33 L604.26,155.48 L605.5,155.62 L606.74,155.77 L607.98,155.92 L609.22,156.07 L610.46,156.22 L611.7,156.36 L612.94,156.55 L614.18,156.76 L615.42,156.97 L616.66,157.17 L617.91,157.38 L619.15,157.59 L620.39,157.8 L621.63,158.01 L622.87,158.22 L624.11,158.39 L625.35,158.51 L626.59,158.62 L627.83,158.71 L629.07,158.71 L629.07,159.8 Z" fill="rgba(255,190,188,0.72)" stroke="none" stroke-width="1" />
<path d="M356.07,159 L357.31,159 L358.56,159 L359.8,159 L361.04,159 L362.28,158.97 L363.52,158.93 L364.76,158.88 L366,158.83 L367.24,158.78 L368.48,158.74 L369.72,158.69 L370.96,158.65 L372.21,158.61 L373.45,158.58 L374.69,158.55 L375.93,158.52 L377.17,158.49 L378.41,158.47 L379.65,158.45 L380.89,158.43 L382.13,158.41 L383.37,158.39 L384.61,158.37 L385.86,158.35 L387.1,158.32 L388.34,158.29 L389.58,158.26 L390.82,158.22 L392.06,158.18 L393.3,158.13 L394.54,158.07 L395.78,158.01 L397.02,157.94 L398.26,157.87 L399.51,157.79 L400.75,157.71 L401.99,157.62 L403.23,157.53 L404.47,157.44 L405.71,157.35 L406.95,157.26 L408.19,157.16 L409.43,157.07 L410.67,156.98 L411.91,156.89 L413.16,156.81 L414.4,156.73 L415.64,156.65 L416.88,156.57 L418.12,156.5 L419.36,156.43 L420.6,156.36 L421.84,156.3 L423.08,156.23 L424.32,156.17 L425.56,156.1 L426.81,156.03 L428.05,155.97 L429.29,155.89 L430.53,155.82 L431.77,155.74 L433.01,155.65 L434.25,155.56 L435.49,155.46 L436.73,155.36 L437.97,155.25 L439.21,155.14 L440.46,155.02 L441.7,154.89 L442.94,154.76 L444.18,154.63 L445.42,154.49 L446.66,154.35 L447.9,154.21 L449.14,154.06 L450.38,153.92 L451.62,153.78 L452.86,153.63 L454.11,153.49 L455.35,153.35 L456.59,153.23 L457.83,153.23 L459.07,153.23 L460.31,152.05 L461.55,150.33 L462.79,147.07 L464.03,143.17 L465.27,139.27 L466.51,135.29 L467.76,129.88 L469,124.48 L470.24,119.07 L471.48,113.66 L472.72,108.24 L473.96,102.83 L475.2,97.41 L476.44,92.8 L477.68,88.46 L478.92,84.13 L480.16,79.79 L481.41,77.02 L482.65,74.98 L483.89,72.95 L485.13,70.92 L486.37,68.89 L487.61,67.91 L488.85,67.18 L490.09,66.46 L491.33,65.74 L492.57,65.02 L493.81,64.3 L495.06,63.9 L496.3,63.63 L497.54,63.36 L498.78,63.09 L500.02,62.82 L501.26,62.55 L502.5,62.07 L503.74,61.46 L504.98,60.84 L506.22,60.23 L507.46,59.29 L508.71,56.58 L509.95,53.87 L511.19,51.16 L512.43,50.84 L513.67,52.92 L514.91,55 L516.15,57.08 L517.39,59.37 L518.63,62.48 L519.87,65.9 L521.11,69.33 L522.36,72.75 L523.6,76.05 L524.84,79.11 L526.08,82.16 L527.32,85.22 L528.56,88.27 L529.8,91.32 L531.04,94.26 L532.28,97.19 L533.52,100.11 L534.76,103.03 L536.01,106.26 L537.25,109.85 L538.49,113.38 L539.73,116.98 L540.97,120.9 L542.21,124.83 L543.45,128.06 L544.69,129.79 L545.93,131.53 L547.17,133.27 L548.41,134.91 L549.66,136.28 L550.9,137.44 L552.14,138.61 L553.38,139.77 L554.62,140.94 L555.86,142.1 L557.1,142.99 L558.34,143.76 L559.58,144.39 L560.82,145.02 L562.06,145.65 L563.31,146.28 L564.55,146.9 L565.79,147.38 L567.03,147.82 L568.27,148.27 L569.51,148.72 L570.75,149.11 L571.99,149.41 L573.23,149.71 L574.47,150.02 L575.71,150.31 L576.96,150.57 L578.2,150.83 L579.44,151.09 L580.68,151.35 L581.92,151.62 L583.16,151.89 L584.4,152.16 L585.64,152.43 L586.88,152.71 L588.12,152.97 L589.36,153.16 L590.61,153.36 L591.85,153.56 L593.09,153.76 L594.33,153.97 L595.57,154.17 L596.81,154.37 L598.05,154.56 L599.29,154.76 L600.53,154.96 L601.77,155.15 L603.01,155.33 L604.26,155.48 L605.5,155.62 L606.74,155.77 L607.98,155.92 L609.22,156.07 L610.46,156.22 L611.7,156.36 L612.94,156.55 L614.18,156.76 L615.42,156.97 L616.66,157.17 L617.91,157.38 L619.15,157.59 L620.39,157.8 L621.63,158.01 L622.87,158.22 L624.11,158.39 L625.35,158.51 L626.59,158.62 L627.83,158.71 L629.07,158.71" fill="none" stroke="#111" stroke-width="0.75" />
<path d="M352.14,164.8 L352.14,163.69 L353.38,163.7 L354.62,163.72 L355.86,163.73 L357.09,163.74 L358.33,163.75 L359.57,163.76 L360.81,163.77 L362.04,163.78 L363.28,163.78 L364.52,163.78 L365.76,163.78 L366.99,163.78 L368.23,163.77 L369.47,163.76 L370.71,163.75 L371.94,163.74 L373.18,163.72 L374.42,163.69 L375.66,163.66 L376.89,163.63 L378.13,163.6 L379.37,163.56 L380.61,163.52 L381.84,163.48 L383.08,163.43 L384.32,163.38 L385.56,163.33 L386.79,163.27 L388.03,163.22 L389.27,163.16 L390.51,163.09 L391.74,163.03 L392.98,162.96 L394.22,162.9 L395.46,162.83 L396.7,162.76 L397.93,162.69 L399.17,162.61 L400.41,162.54 L401.65,162.46 L402.88,162.39 L404.12,162.31 L405.36,162.23 L406.6,162.15 L407.83,162.07 L409.07,161.99 L410.31,161.91 L411.55,161.82 L412.78,161.74 L414.02,161.65 L415.26,161.56 L416.5,161.47 L417.73,161.38 L418.97,161.29 L420.21,161.2 L421.45,161.1 L422.68,161.01 L423.92,160.91 L425.16,160.81 L426.4,160.7 L427.63,160.6 L428.87,160.5 L430.11,160.39 L431.35,160.28 L432.58,160.17 L433.82,160.06 L435.06,159.95 L436.3,159.83 L437.53,159.72 L438.77,159.6 L440.01,159.48 L441.25,159.36 L442.48,159.24 L443.72,159.12 L444.96,159 L446.2,158.88 L447.43,158.76 L448.67,158.63 L449.91,158.51 L451.15,158.38 L452.38,158.36 L453.62,158.36 L454.86,157.91 L456.1,156.21 L457.33,153.89 L458.57,150.03 L459.81,146.17 L461.05,142.31 L462.29,137.52 L463.52,132.17 L464.76,126.82 L466,121.47 L467.24,116.11 L468.47,110.76 L469.71,105.4 L470.95,100.36 L472.19,96.08 L473.42,91.79 L474.66,87.5 L475.9,83.72 L477.14,81.71 L478.37,79.7 L479.61,77.69 L480.85,75.68 L482.09,74.1 L483.32,73.38 L484.56,72.67 L485.8,71.95 L487.04,71.24 L488.27,70.52 L489.51,69.9 L490.75,69.63 L491.99,69.37 L493.22,69.1 L494.46,68.83 L495.7,68.56 L496.94,68.25 L498.17,67.64 L499.41,67.03 L500.65,66.42 L501.89,65.81 L503.12,63.89 L504.36,61.22 L505.6,58.55 L506.84,55.87 L508.07,57.72 L509.31,59.7 L510.55,61.68 L511.79,63.66 L513.02,66.11 L514.26,69.54 L515.5,72.97 L516.74,76.4 L517.97,79.83 L519.21,82.98 L520.45,86.03 L521.69,89.09 L522.93,92.15 L524.16,95.2 L525.4,98.22 L526.64,101.12 L527.88,104.03 L529.11,106.93 L530.35,109.84 L531.59,113.3 L532.83,116.71 L534.06,120.12 L535.3,123.73 L536.54,127.48 L537.78,131.23 L539.01,133.57 L540.25,135.36 L541.49,137.15 L542.73,138.94 L543.96,140.51 L545.2,141.87 L546.44,143.08 L547.68,144.29 L548.91,145.49 L550.15,146.7 L551.39,147.84 L552.63,148.62 L553.86,149.31 L555.1,149.94 L556.34,150.57 L557.58,151.19 L558.81,151.82 L560.05,152.4 L561.29,152.82 L562.53,153.24 L563.76,153.66 L565,154.08 L566.24,154.41 L567.48,154.7 L568.71,155 L569.95,155.3 L571.19,155.56 L572.43,155.79 L573.66,156.04 L574.9,156.28 L576.14,156.53 L577.38,156.78 L578.61,157.03 L579.85,157.28 L581.09,157.54 L582.33,157.8 L583.56,158.02 L584.8,158.2 L586.04,158.39 L587.28,158.59 L588.52,158.79 L589.75,158.99 L590.99,159.18 L592.23,159.38 L593.47,159.57 L594.7,159.76 L595.94,159.95 L597.18,160.14 L598.42,160.29 L599.65,160.44 L600.89,160.57 L602.13,160.71 L603.37,160.84 L604.6,160.97 L605.84,161.1 L607.08,161.23 L608.32,161.41 L609.55,161.6 L610.79,161.79 L612.03,161.97 L613.27,162.15 L614.5,162.34 L615.74,162.52 L616.98,162.7 L618.22,162.88 L619.45,163.02 L620.69,163.13 L621.93,163.24 L623.17,163.34 L624.4,163.33 L624.4,164.8 Z" fill="rgba(255,158,158,0.72)" stroke="none" stroke-width="1" />
<path d="M352.14,163.69 L353.38,163.7 L354.62,163.72 L355.86,163.73 L357.09,163.74 L358.33,163.75 L359.57,163.76 L360.81,163.77 L362.04,163.78 L363.28,163.78 L364.52,163.78 L365.76,163.78 L366.99,163.78 L368.23,163.77 L369.47,163.76 L370.71,163.75 L371.94,163.74 L373.18,163.72 L374.42,163.69 L375.66,163.66 L376.89,163.63 L378.13,163.6 L379.37,163.56 L380.61,163.52 L381.84,163.48 L383.08,163.43 L384.32,163.38 L385.56,163.33 L386.79,163.27 L388.03,163.22 L389.27,163.16 L390.51,163.09 L391.74,163.03 L392.98,162.96 L394.22,162.9 L395.46,162.83 L396.7,162.76 L397.93,162.69 L399.17,162.61 L400.41,162.54 L401.65,162.46 L402.88,162.39 L404.12,162.31 L405.36,162.23 L406.6,162.15 L407.83,162.07 L409.07,161.99 L410.31,161.91 L411.55,161.82 L412.78,161.74 L414.02,161.65 L415.26,161.56 L416.5,161.47 L417.73,161.38 L418.97,161.29 L420.21,161.2 L421.45,161.1 L422.68,161.01 L423.92,160.91 L425.16,160.81 L426.4,160.7 L427.63,160.6 L428.87,160.5 L430.11,160.39 L431.35,160.28 L432.58,160.17 L433.82,160.06 L435.06,159.95 L436.3,159.83 L437.53,159.72 L438.77,159.6 L440.01,159.48 L441.25,159.36 L442.48,159.24 L443.72,159.12 L444.96,159 L446.2,158.88 L447.43,158.76 L448.67,158.63 L449.91,158.51 L451.15,158.38 L452.38,158.36 L453.62,158.36 L454.86,157.91 L456.1,156.21 L457.33,153.89 L458.57,150.03 L459.81,146.17 L461.05,142.31 L462.29,137.52 L463.52,132.17 L464.76,126.82 L466,121.47 L467.24,116.11 L468.47,110.76 L469.71,105.4 L470.95,100.36 L472.19,96.08 L473.42,91.79 L474.66,87.5 L475.9,83.72 L477.14,81.71 L478.37,79.7 L479.61,77.69 L480.85,75.68 L482.09,74.1 L483.32,73.38 L484.56,72.67 L485.8,71.95 L487.04,71.24 L488.27,70.52 L489.51,69.9 L490.75,69.63 L491.99,69.37 L493.22,69.1 L494.46,68.83 L495.7,68.56 L496.94,68.25 L498.17,67.64 L499.41,67.03 L500.65,66.42 L501.89,65.81 L503.12,63.89 L504.36,61.22 L505.6,58.55 L506.84,55.87 L508.07,57.72 L509.31,59.7 L510.55,61.68 L511.79,63.66 L513.02,66.11 L514.26,69.54 L515.5,72.97 L516.74,76.4 L517.97,79.83 L519.21,82.98 L520.45,86.03 L521.69,89.09 L522.93,92.15 L524.16,95.2 L525.4,98.22 L526.64,101.12 L527.88,104.03 L529.11,106.93 L530.35,109.84 L531.59,113.3 L532.83,116.71 L534.06,120.12 L535.3,123.73 L536.54,127.48 L537.78,131.23 L539.01,133.57 L540.25,135.36 L541.49,137.15 L542.73,138.94 L543.96,140.51 L545.2,141.87 L546.44,143.08 L547.68,144.29 L548.91,145.49 L550.15,146.7 L551.39,147.84 L552.63,148.62 L553.86,149.31 L555.1,149.94 L556.34,150.57 L557.58,151.19 L558.81,151.82 L560.05,152.4 L561.29,152.82 L562.53,153.24 L563.76,153.66 L565,154.08 L566.24,154.41 L567.48,154.7 L568.71,155 L569.95,155.3 L571.19,155.56 L572.43,155.79 L573.66,156.04 L574.9,156.28 L576.14,156.53 L577.38,156.78 L578.61,157.03 L579.85,157.28 L581.09,157.54 L582.33,157.8 L583.56,158.02 L584.8,158.2 L586.04,158.39 L587.28,158.59 L588.52,158.79 L589.75,158.99 L590.99,159.18 L592.23,159.38 L593.47,159.57 L594.7,159.76 L595.94,159.95 L597.18,160.14 L598.42,160.29 L599.65,160.44 L600.89,160.57 L602.13,160.71 L603.37,160.84 L604.6,160.97 L605.84,161.1 L607.08,161.23 L608.32,161.41 L609.55,161.6 L610.79,161.79 L612.03,161.97 L613.27,162.15 L614.5,162.34 L615.74,162.52 L616.98,162.7 L618.22,162.88 L619.45,163.02 L620.69,163.13 L621.93,163.24 L623.17,163.34 L624.4,163.33" fill="none" stroke="#111" stroke-width="0.75" />
<path d="M347.82,170.3 L347.82,169.46 L349.05,169.45 L350.29,169.44 L351.52,169.42 L352.76,169.39 L353.99,169.35 L355.22,169.3 L356.46,169.25 L357.69,169.2 L358.93,169.15 L360.16,169.09 L361.4,169.04 L362.63,168.99 L363.86,168.95 L365.1,168.91 L366.33,168.88 L367.57,168.86 L368.8,168.85 L370.04,168.84 L371.27,168.85 L372.5,168.86 L373.74,168.87 L374.97,168.89 L376.21,168.92 L377.44,168.94 L378.67,168.96 L379.91,168.98 L381.14,168.99 L382.38,169 L383.61,168.99 L384.85,168.97 L386.08,168.94 L387.31,168.9 L388.55,168.84 L389.78,168.76 L391.02,168.67 L392.25,168.57 L393.48,168.45 L394.72,168.33 L395.95,168.19 L397.19,168.05 L398.42,167.91 L399.66,167.76 L400.89,167.61 L402.12,167.46 L403.36,167.32 L404.59,167.19 L405.83,167.07 L407.06,166.95 L408.3,166.85 L409.53,166.76 L410.76,166.68 L412,166.62 L413.23,166.56 L414.47,166.51 L415.7,166.47 L416.93,166.44 L418.17,166.41 L419.4,166.39 L420.64,166.36 L421.87,166.32 L423.11,166.29 L424.34,166.24 L425.57,166.19 L426.81,166.12 L428.04,166.04 L429.28,165.95 L430.51,165.85 L431.74,165.73 L432.98,165.6 L434.21,165.46 L435.45,165.3 L436.68,165.14 L437.92,164.97 L439.15,164.79 L440.38,164.61 L441.62,164.42 L442.85,164.24 L444.09,164.06 L445.32,163.88 L446.55,163.74 L447.79,163.7 L449.02,163.68 L450.26,162.44 L451.49,160.75 L452.73,157.5 L453.96,153.7 L455.19,149.9 L456.43,146.02 L457.66,140.76 L458.9,135.51 L460.13,130.26 L461.37,125 L462.6,119.73 L463.83,114.47 L465.07,109.19 L466.3,104.67 L467.54,100.45 L468.77,96.22 L470,91.99 L471.24,89.17 L472.47,87.19 L473.71,85.2 L474.94,83.22 L476.18,81.23 L477.41,80.17 L478.64,79.47 L479.88,78.76 L481.11,78.05 L482.35,77.34 L483.58,76.63 L484.81,76.19 L486.05,75.92 L487.28,75.66 L488.52,75.39 L489.75,75.13 L490.99,74.86 L492.22,74.43 L493.45,73.83 L494.69,73.23 L495.92,72.63 L497.16,72.03 L498.39,69.41 L499.63,66.76 L500.86,64.12 L502.09,62.89 L503.33,64.78 L504.56,66.66 L505.8,68.55 L507.03,70.52 L508.26,73.26 L509.5,76.7 L510.73,80.14 L511.97,83.57 L513.2,86.97 L514.44,90.02 L515.67,93.05 L516.9,96.08 L518.14,99.12 L519.37,102.15 L520.61,105.08 L521.84,107.93 L523.07,110.79 L524.31,113.65 L525.54,116.58 L526.78,119.97 L528.01,123.24 L529.25,126.5 L530.48,130.03 L531.71,133.6 L532.95,137.17 L534.18,139.04 L535.42,140.9 L536.65,142.76 L537.88,144.61 L539.12,146.21 L540.35,147.58 L541.59,148.86 L542.82,150.14 L544.06,151.41 L545.29,152.69 L546.52,153.77 L547.76,154.55 L548.99,155.22 L550.23,155.87 L551.46,156.51 L552.7,157.16 L553.93,157.8 L555.16,158.35 L556.4,158.75 L557.63,159.15 L558.87,159.56 L560.1,159.97 L561.33,160.28 L562.57,160.57 L563.8,160.88 L565.04,161.18 L566.27,161.42 L567.51,161.64 L568.74,161.87 L569.97,162.1 L571.21,162.32 L572.44,162.55 L573.68,162.77 L574.91,162.99 L576.14,163.21 L577.38,163.43 L578.61,163.6 L579.85,163.75 L581.08,163.91 L582.32,164.07 L583.55,164.23 L584.78,164.39 L586.02,164.55 L587.25,164.72 L588.49,164.88 L589.72,165.05 L590.96,165.22 L592.19,165.39 L593.42,165.53 L594.66,165.67 L595.89,165.82 L597.13,165.96 L598.36,166.11 L599.59,166.26 L600.83,166.41 L602.06,166.56 L603.3,166.78 L604.53,167 L605.77,167.22 L607,167.43 L608.23,167.64 L609.47,167.85 L610.7,168.05 L611.94,168.24 L613.17,168.43 L614.4,168.57 L615.64,168.69 L616.87,168.8 L618.11,168.9 L619.34,168.9 L619.34,170.3 Z" fill="rgba(255,130,130,0.72)" stroke="none" stroke-width="1" />
<path d="M347.82,169.46 L349.05,169.45 L350.29,169.44 L351.52,169.42 L352.76,169.39 L353.99,169.35 L355.22,169.3 L356.46,169.25 L357.69,169.2 L358.93,169.15 L360.16,169.09 L361.4,169.04 L362.63,168.99 L363.86,168.95 L365.1,168.91 L366.33,168.88 L367.57,168.86 L368.8,168.85 L370.04,168.84 L371.27,168.85 L372.5,168.86 L373.74,168.87 L374.97,168.89 L376.21,168.92 L377.44,168.94 L378.67,168.96 L379.91,168.98 L381.14,168.99 L382.38,169 L383.61,168.99 L384.85,168.97 L386.08,168.94 L387.31,168.9 L388.55,168.84 L389.78,168.76 L391.02,168.67 L392.25,168.57 L393.48,168.45 L394.72,168.33 L395.95,168.19 L397.19,168.05 L398.42,167.91 L399.66,167.76 L400.89,167.61 L402.12,167.46 L403.36,167.32 L404.59,167.19 L405.83,167.07 L407.06,166.95 L408.3,166.85 L409.53,166.76 L410.76,166.68 L412,166.62 L413.23,166.56 L414.47,166.51 L415.7,166.47 L416.93,166.44 L418.17,166.41 L419.4,166.39 L420.64,166.36 L421.87,166.32 L423.11,166.29 L424.34,166.24 L425.57,166.19 L426.81,166.12 L428.04,166.04 L429.28,165.95 L430.51,165.85 L431.74,165.73 L432.98,165.6 L434.21,165.46 L435.45,165.3 L436.68,165.14 L437.92,164.97 L439.15,164.79 L440.38,164.61 L441.62,164.42 L442.85,164.24 L444.09,164.06 L445.32,163.88 L446.55,163.74 L447.79,163.7 L449.02,163.68 L450.26,162.44 L451.49,160.75 L452.73,157.5 L453.96,153.7 L455.19,149.9 L456.43,146.02 L457.66,140.76 L458.9,135.51 L460.13,130.26 L461.37,125 L462.6,119.73 L463.83,114.47 L465.07,109.19 L466.3,104.67 L467.54,100.45 L468.77,96.22 L470,91.99 L471.24,89.17 L472.47,87.19 L473.71,85.2 L474.94,83.22 L476.18,81.23 L477.41,80.17 L478.64,79.47 L479.88,78.76 L481.11,78.05 L482.35,77.34 L483.58,76.63 L484.81,76.19 L486.05,75.92 L487.28,75.66 L488.52,75.39 L489.75,75.13 L490.99,74.86 L492.22,74.43 L493.45,73.83 L494.69,73.23 L495.92,72.63 L497.16,72.03 L498.39,69.41 L499.63,66.76 L500.86,64.12 L502.09,62.89 L503.33,64.78 L504.56,66.66 L505.8,68.55 L507.03,70.52 L508.26,73.26 L509.5,76.7 L510.73,80.14 L511.97,83.57 L513.2,86.97 L514.44,90.02 L515.67,93.05 L516.9,96.08 L518.14,99.12 L519.37,102.15 L520.61,105.08 L521.84,107.93 L523.07,110.79 L524.31,113.65 L525.54,116.58 L526.78,119.97 L528.01,123.24 L529.25,126.5 L530.48,130.03 L531.71,133.6 L532.95,137.17 L534.18,139.04 L535.42,140.9 L536.65,142.76 L537.88,144.61 L539.12,146.21 L540.35,147.58 L541.59,148.86 L542.82,150.14 L544.06,151.41 L545.29,152.69 L546.52,153.77 L547.76,154.55 L548.99,155.22 L550.23,155.87 L551.46,156.51 L552.7,157.16 L553.93,157.8 L555.16,158.35 L556.4,158.75 L557.63,159.15 L558.87,159.56 L560.1,159.97 L561.33,160.28 L562.57,160.57 L563.8,160.88 L565.04,161.18 L566.27,161.42 L567.51,161.64 L568.74,161.87 L569.97,162.1 L571.21,162.32 L572.44,162.55 L573.68,162.77 L574.91,162.99 L576.14,163.21 L577.38,163.43 L578.61,163.6 L579.85,163.75 L581.08,163.91 L582.32,164.07 L583.55,164.23 L584.78,164.39 L586.02,164.55 L587.25,164.72 L588.49,164.88 L589.72,165.05 L590.96,165.22 L592.19,165.39 L593.42,165.53 L594.66,165.67 L595.89,165.82 L597.13,165.96 L598.36,166.11 L599.59,166.26 L600.83,166.41 L602.06,166.56 L603.3,166.78 L604.53,167 L605.77,167.22 L607,167.43 L608.23,167.64 L609.47,167.85 L610.7,168.05 L611.94,168.24 L613.17,168.43 L614.4,168.57 L615.64,168.69 L616.87,168.8 L618.11,168.9 L619.34,168.9" fill="none" stroke="#111" stroke-width="0.75" />
<path d="M342.24,177.4 L342.24,176.58 L343.47,176.54 L344.7,176.51 L345.93,176.46 L347.16,176.42 L348.39,176.38 L349.62,176.33 L350.85,176.29 L352.09,176.25 L353.32,176.21 L354.55,176.18 L355.78,176.15 L357.01,176.13 L358.24,176.12 L359.47,176.1 L360.7,176.1 L361.93,176.09 L363.16,176.09 L364.39,176.09 L365.62,176.09 L366.86,176.08 L368.09,176.08 L369.32,176.07 L370.55,176.05 L371.78,176.03 L373.01,176 L374.24,175.96 L375.47,175.91 L376.7,175.86 L377.93,175.79 L379.16,175.72 L380.39,175.64 L381.63,175.56 L382.86,175.47 L384.09,175.38 L385.32,175.29 L386.55,175.19 L387.78,175.1 L389.01,175.01 L390.24,174.93 L391.47,174.84 L392.7,174.77 L393.93,174.7 L395.16,174.63 L396.39,174.57 L397.63,174.52 L398.86,174.47 L400.09,174.42 L401.32,174.38 L402.55,174.33 L403.78,174.29 L405.01,174.24 L406.24,174.19 L407.47,174.14 L408.7,174.07 L409.93,174.01 L411.16,173.93 L412.4,173.84 L413.63,173.75 L414.86,173.65 L416.09,173.54 L417.32,173.42 L418.55,173.3 L419.78,173.17 L421.01,173.04 L422.24,172.9 L423.47,172.76 L424.7,172.62 L425.93,172.49 L427.17,172.35 L428.4,172.21 L429.63,172.08 L430.86,171.96 L432.09,171.83 L433.32,171.71 L434.55,171.59 L435.78,171.47 L437.01,171.35 L438.24,171.24 L439.47,171.12 L440.7,171.09 L441.94,171.1 L443.17,170.79 L444.4,169.12 L445.63,167.02 L446.86,163.2 L448.09,159.38 L449.32,155.55 L450.55,150.97 L451.78,145.67 L453.01,140.37 L454.24,135.08 L455.47,129.78 L456.71,124.49 L457.94,119.2 L459.17,114.07 L460.4,109.85 L461.63,105.63 L462.86,101.42 L464.09,97.3 L465.32,95.33 L466.55,93.36 L467.78,91.39 L469.01,89.43 L470.24,87.63 L471.48,86.93 L472.71,86.24 L473.94,85.55 L475.17,84.85 L476.4,84.16 L477.63,83.46 L478.86,83.2 L480.09,82.95 L481.32,82.69 L482.55,82.43 L483.78,82.17 L485.01,81.91 L486.25,81.36 L487.48,80.76 L488.71,80.16 L489.94,79.55 L491.17,78.25 L492.4,75.6 L493.63,72.96 L494.86,70.31 L496.09,70.59 L497.32,72.4 L498.55,74.21 L499.78,76.02 L501.02,78.01 L502.25,81.14 L503.48,84.61 L504.71,88.08 L505.94,91.55 L507.17,94.88 L508.4,97.93 L509.63,100.98 L510.86,104.04 L512.09,107.09 L513.32,110.16 L514.55,113.03 L515.79,115.89 L517.02,118.75 L518.25,121.61 L519.48,124.69 L520.71,127.93 L521.94,131.09 L523.17,134.28 L524.4,137.69 L525.63,141.1 L526.86,144.11 L528.09,146.01 L529.32,147.91 L530.56,149.81 L531.79,151.66 L533.02,153.31 L534.25,154.65 L535.48,155.97 L536.71,157.29 L537.94,158.61 L539.17,159.94 L540.4,160.93 L541.63,161.71 L542.86,162.38 L544.09,163.06 L545.33,163.75 L546.56,164.44 L547.79,165.14 L549.02,165.65 L550.25,166.08 L551.48,166.5 L552.71,166.93 L553.94,167.33 L555.17,167.65 L556.4,167.97 L557.63,168.28 L558.86,168.58 L560.1,168.79 L561.33,169 L562.56,169.2 L563.79,169.39 L565.02,169.57 L566.25,169.75 L567.48,169.93 L568.71,170.1 L569.94,170.27 L571.17,170.44 L572.4,170.56 L573.63,170.68 L574.87,170.81 L576.1,170.96 L577.33,171.1 L578.56,171.26 L579.79,171.42 L581.02,171.59 L582.25,171.76 L583.48,171.94 L584.71,172.12 L585.94,172.31 L587.17,172.48 L588.4,172.64 L589.64,172.8 L590.87,172.97 L592.1,173.13 L593.33,173.28 L594.56,173.43 L595.79,173.59 L597.02,173.81 L598.25,174.03 L599.48,174.23 L600.71,174.43 L601.94,174.63 L603.17,174.81 L604.41,174.99 L605.64,175.17 L606.87,175.34 L608.1,175.47 L609.33,175.58 L610.56,175.69 L611.79,175.81 L613.02,175.84 L613.02,177.4 Z" fill="rgba(255,100,100,0.72)" stroke="none" stroke-width="1" />
<path d="M342.24,176.58 L343.47,176.54 L344.7,176.51 L345.93,176.46 L347.16,176.42 L348.39,176.38 L349.62,176.33 L350.85,176.29 L352.09,176.25 L353.32,176.21 L354.55,176.18 L355.78,176.15 L357.01,176.13 L358.24,176.12 L359.47,176.1 L360.7,176.1 L361.93,176.09 L363.16,176.09 L364.39,176.09 L365.62,176.09 L366.86,176.08 L368.09,176.08 L369.32,176.07 L370.55,176.05 L371.78,176.03 L373.01,176 L374.24,175.96 L375.47,175.91 L376.7,175.86 L377.93,175.79 L379.16,175.72 L380.39,175.64 L381.63,175.56 L382.86,175.47 L384.09,175.38 L385.32,175.29 L386.55,175.19 L387.78,175.1 L389.01,175.01 L390.24,174.93 L391.47,174.84 L392.7,174.77 L393.93,174.7 L395.16,174.63 L396.39,174.57 L397.63,174.52 L398.86,174.47 L400.09,174.42 L401.32,174.38 L402.55,174.33 L403.78,174.29 L405.01,174.24 L406.24,174.19 L407.47,174.14 L408.7,174.07 L409.93,174.01 L411.16,173.93 L412.4,173.84 L413.63,173.75 L414.86,173.65 L416.09,173.54 L417.32,173.42 L418.55,173.3 L419.78,173.17 L421.01,173.04 L422.24,172.9 L423.47,172.76 L424.7,172.62 L425.93,172.49 L427.17,172.35 L428.4,172.21 L429.63,172.08 L430.86,171.96 L432.09,171.83 L433.32,171.71 L434.55,171.59 L435.78,171.47 L437.01,171.35 L438.24,171.24 L439.47,171.12 L440.7,171.09 L441.94,171.1 L443.17,170.79 L444.4,169.12 L445.63,167.02 L446.86,163.2 L448.09,159.38 L449.32,155.55 L450.55,150.97 L451.78,145.67 L453.01,140.37 L454.24,135.08 L455.47,129.78 L456.71,124.49 L457.94,119.2 L459.17,114.07 L460.4,109.85 L461.63,105.63 L462.86,101.42 L464.09,97.3 L465.32,95.33 L466.55,93.36 L467.78,91.39 L469.01,89.43 L470.24,87.63 L471.48,86.93 L472.71,86.24 L473.94,85.55 L475.17,84.85 L476.4,84.16 L477.63,83.46 L478.86,83.2 L480.09,82.95 L481.32,82.69 L482.55,82.43 L483.78,82.17 L485.01,81.91 L486.25,81.36 L487.48,80.76 L488.71,80.16 L489.94,79.55 L491.17,78.25 L492.4,75.6 L493.63,72.96 L494.86,70.31 L496.09,70.59 L497.32,72.4 L498.55,74.21 L499.78,76.02 L501.02,78.01 L502.25,81.14 L503.48,84.61 L504.71,88.08 L505.94,91.55 L507.17,94.88 L508.4,97.93 L509.63,100.98 L510.86,104.04 L512.09,107.09 L513.32,110.16 L514.55,113.03 L515.79,115.89 L517.02,118.75 L518.25,121.61 L519.48,124.69 L520.71,127.93 L521.94,131.09 L523.17,134.28 L524.4,137.69 L525.63,141.1 L526.86,144.11 L528.09,146.01 L529.32,147.91 L530.56,149.81 L531.79,151.66 L533.02,153.31 L534.25,154.65 L535.48,155.97 L536.71,157.29 L537.94,158.61 L539.17,159.94 L540.4,160.93 L541.63,161.71 L542.86,162.38 L544.09,163.06 L545.33,163.75 L546.56,164.44 L547.79,165.14 L549.02,165.65 L550.25,166.08 L551.48,166.5 L552.71,166.93 L553.94,167.33 L555.17,167.65 L556.4,167.97 L557.63,168.28 L558.86,168.58 L560.1,168.79 L561.33,169 L562.56,169.2 L563.79,169.39 L565.02,169.57 L566.25,169.75 L567.48,169.93 L568.71,170.1 L569.94,170.27 L571.17,170.44 L572.4,170.56 L573.63,170.68 L574.87,170.81 L576.1,170.96 L577.33,171.1 L578.56,171.26 L579.79,171.42 L581.02,171.59 L582.25,171.76 L583.48,171.94 L584.71,172.12 L585.94,172.31 L587.17,172.48 L588.4,172.64 L589.64,172.8 L590.87,172.97 L592.1,173.13 L593.33,173.28 L594.56,173.43 L595.79,173.59 L597.02,173.81 L598.25,174.03 L599.48,174.23 L600.71,174.43 L601.94,174.63 L603.17,174.81 L604.41,174.99 L605.64,175.17 L606.87,175.34 L608.1,175.47 L609.33,175.58 L610.56,175.69 L611.79,175.81 L613.02,175.84" fill="none" stroke="#111" stroke-width="0.75" />
<path d="M338.78,181.8 L338.78,180.71 L340.01,180.71 L341.23,180.71 L342.46,180.71 L343.69,180.71 L344.92,180.71 L346.14,180.71 L347.37,180.71 L348.6,180.71 L349.83,180.71 L351.05,180.71 L352.28,180.72 L353.51,180.72 L354.74,180.72 L355.96,180.72 L357.19,180.71 L358.42,180.71 L359.65,180.7 L360.87,180.69 L362.1,180.68 L363.33,180.66 L364.56,180.64 L365.78,180.61 L367.01,180.58 L368.24,180.55 L369.47,180.51 L370.69,180.47 L371.92,180.42 L373.15,180.37 L374.38,180.31 L375.6,180.25 L376.83,180.18 L378.06,180.11 L379.29,180.04 L380.51,179.96 L381.74,179.88 L382.97,179.79 L384.2,179.71 L385.42,179.62 L386.65,179.53 L387.88,179.44 L389.11,179.34 L390.33,179.25 L391.56,179.16 L392.79,179.07 L394.02,178.97 L395.24,178.88 L396.47,178.79 L397.7,178.7 L398.93,178.61 L400.15,178.52 L401.38,178.43 L402.61,178.34 L403.84,178.25 L405.06,178.16 L406.29,178.08 L407.52,177.99 L408.75,177.91 L409.97,177.82 L411.2,177.73 L412.43,177.64 L413.66,177.55 L414.88,177.46 L416.11,177.37 L417.34,177.28 L418.57,177.18 L419.79,177.08 L421.02,176.98 L422.25,176.88 L423.48,176.77 L424.7,176.66 L425.93,176.55 L427.16,176.43 L428.38,176.31 L429.61,176.19 L430.84,176.06 L432.07,175.93 L433.29,175.8 L434.52,175.67 L435.75,175.55 L436.98,175.54 L438.2,175.54 L439.43,174.44 L440.66,172.76 L441.89,169.7 L443.11,165.88 L444.34,162.07 L445.57,158.26 L446.8,153.05 L448.02,147.78 L449.25,142.51 L450.48,137.24 L451.71,131.97 L452.93,126.7 L454.16,121.44 L455.39,116.76 L456.62,112.55 L457.84,108.34 L459.07,104.13 L460.3,100.94 L461.53,98.97 L462.75,96.99 L463.98,95.02 L465.21,93.05 L466.44,91.75 L467.66,91.05 L468.89,90.35 L470.12,89.65 L471.35,88.95 L472.57,88.25 L473.8,87.71 L475.03,87.45 L476.26,87.18 L477.48,86.92 L478.71,86.66 L479.94,86.4 L481.17,86.07 L482.39,85.47 L483.62,84.88 L484.85,84.28 L486.08,83.69 L487.3,81.69 L488.53,79.06 L489.76,76.43 L490.99,73.8 L492.21,75.53 L493.44,77.27 L494.67,79.01 L495.9,80.75 L497.12,82.85 L498.35,86.38 L499.58,89.91 L500.81,93.44 L502.03,96.98 L503.26,100.23 L504.49,103.32 L505.72,106.41 L506.94,109.5 L508.17,112.59 L509.4,115.63 L510.63,118.48 L511.85,121.33 L513.08,124.17 L514.31,127.02 L515.54,130.17 L516.76,133.23 L517.99,136.26 L519.22,139.38 L520.45,142.63 L521.67,145.88 L522.9,148.43 L524.13,150.4 L525.35,152.35 L526.58,154.31 L527.81,156.18 L529.04,157.85 L530.26,159.23 L531.49,160.6 L532.72,161.98 L533.95,163.37 L535.17,164.75 L536.4,165.59 L537.63,166.33 L538.86,166.99 L540.08,167.66 L541.31,168.34 L542.54,169.01 L543.77,169.69 L544.99,170.1 L546.22,170.48 L547.45,170.85 L548.68,171.24 L549.9,171.59 L551.13,171.89 L552.36,172.2 L553.59,172.5 L554.81,172.79 L556.04,173 L557.27,173.21 L558.5,173.43 L559.72,173.64 L560.95,173.85 L562.18,174.07 L563.41,174.28 L564.63,174.49 L565.86,174.7 L567.09,174.91 L568.32,175.06 L569.54,175.22 L570.77,175.39 L572,175.55 L573.23,175.72 L574.45,175.88 L575.68,176.04 L576.91,176.19 L578.14,176.35 L579.36,176.49 L580.59,176.64 L581.82,176.78 L583.05,176.9 L584.27,177.01 L585.5,177.12 L586.73,177.23 L587.96,177.34 L589.18,177.45 L590.41,177.56 L591.64,177.69 L592.87,177.9 L594.09,178.1 L595.32,178.3 L596.55,178.51 L597.78,178.71 L599,178.92 L600.23,179.13 L601.46,179.33 L602.69,179.54 L603.91,179.71 L605.14,179.87 L606.37,180.03 L607.6,180.19 L608.82,180.27 L608.82,181.8 Z" fill="rgba(255,72,72,0.72)" stroke="none" stroke-width="1" />
<path d="M338.78,180.71 L340.01,180.71 L341.23,180.71 L342.46,180.71 L343.69,180.71 L344.92,180.71 L346.14,180.71 L347.37,180.71 L348.6,180.71 L349.83,180.71 L351.05,180.71 L352.28,180.72 L353.51,180.72 L354.74,180.72 L355.96,180.72 L357.19,180.71 L358.42,180.71 L359.65,180.7 L360.87,180.69 L362.1,180.68 L363.33,180.66 L364.56,180.64 L365.78,180.61 L367.01,180.58 L368.24,180.55 L369.47,180.51 L370.69,180.47 L371.92,180.42 L373.15,180.37 L374.38,180.31 L375.6,180.25 L376.83,180.18 L378.06,180.11 L379.29,180.04 L380.51,179.96 L381.74,179.88 L382.97,179.79 L384.2,179.71 L385.42,179.62 L386.65,179.53 L387.88,179.44 L389.11,179.34 L390.33,179.25 L391.56,179.16 L392.79,179.07 L394.02,178.97 L395.24,178.88 L396.47,178.79 L397.7,178.7 L398.93,178.61 L400.15,178.52 L401.38,178.43 L402.61,178.34 L403.84,178.25 L405.06,178.16 L406.29,178.08 L407.52,177.99 L408.75,177.91 L409.97,177.82 L411.2,177.73 L412.43,177.64 L413.66,177.55 L414.88,177.46 L416.11,177.37 L417.34,177.28 L418.57,177.18 L419.79,177.08 L421.02,176.98 L422.25,176.88 L423.48,176.77 L424.7,176.66 L425.93,176.55 L427.16,176.43 L428.38,176.31 L429.61,176.19 L430.84,176.06 L432.07,175.93 L433.29,175.8 L434.52,175.67 L435.75,175.55 L436.98,175.54 L438.2,175.54 L439.43,174.44 L440.66,172.76 L441.89,169.7 L443.11,165.88 L444.34,162.07 L445.57,158.26 L446.8,153.05 L448.02,147.78 L449.25,142.51 L450.48,137.24 L451.71,131.97 L452.93,126.7 L454.16,121.44 L455.39,116.76 L456.62,112.55 L457.84,108.34 L459.07,104.13 L460.3,100.94 L461.53,98.97 L462.75,96.99 L463.98,95.02 L465.21,93.05 L466.44,91.75 L467.66,91.05 L468.89,90.35 L470.12,89.65 L471.35,88.95 L472.57,88.25 L473.8,87.71 L475.03,87.45 L476.26,87.18 L477.48,86.92 L478.71,86.66 L479.94,86.4 L481.17,86.07 L482.39,85.47 L483.62,84.88 L484.85,84.28 L486.08,83.69 L487.3,81.69 L488.53,79.06 L489.76,76.43 L490.99,73.8 L492.21,75.53 L493.44,77.27 L494.67,79.01 L495.9,80.75 L497.12,82.85 L498.35,86.38 L499.58,89.91 L500.81,93.44 L502.03,96.98 L503.26,100.23 L504.49,103.32 L505.72,106.41 L506.94,109.5 L508.17,112.59 L509.4,115.63 L510.63,118.48 L511.85,121.33 L513.08,124.17 L514.31,127.02 L515.54,130.17 L516.76,133.23 L517.99,136.26 L519.22,139.38 L520.45,142.63 L521.67,145.88 L522.9,148.43 L524.13,150.4 L525.35,152.35 L526.58,154.31 L527.81,156.18 L529.04,157.85 L530.26,159.23 L531.49,160.6 L532.72,161.98 L533.95,163.37 L535.17,164.75 L536.4,165.59 L537.63,166.33 L538.86,166.99 L540.08,167.66 L541.31,168.34 L542.54,169.01 L543.77,169.69 L544.99,170.1 L546.22,170.48 L547.45,170.85 L548.68,171.24 L549.9,171.59 L551.13,171.89 L552.36,172.2 L553.59,172.5 L554.81,172.79 L556.04,173 L557.27,173.21 L558.5,173.43 L559.72,173.64 L560.95,173.85 L562.18,174.07 L563.41,174.28 L564.63,174.49 L565.86,174.7 L567.09,174.91 L568.32,175.06 L569.54,175.22 L570.77,175.39 L572,175.55 L573.23,175.72 L574.45,175.88 L575.68,176.04 L576.91,176.19 L578.14,176.35 L579.36,176.49 L580.59,176.64 L581.82,176.78 L583.05,176.9 L584.27,177.01 L585.5,177.12 L586.73,177.23 L587.96,177.34 L589.18,177.45 L590.41,177.56 L591.64,177.69 L592.87,177.9 L594.09,178.1 L595.32,178.3 L596.55,178.51 L597.78,178.71 L599,178.92 L600.23,179.13 L601.46,179.33 L602.69,179.54 L603.91,179.71 L605.14,179.87 L606.37,180.03 L607.6,180.19 L608.82,180.27" fill="none" stroke="#111" stroke-width="0.75" />
<path d="M329.43,193.7 L329.43,192.74 L330.65,192.78 L331.87,192.82 L333.1,192.86 L334.32,192.9 L335.55,192.9 L336.77,192.9 L337.99,192.9 L339.22,192.9 L340.44,192.9 L341.67,192.9 L342.89,192.9 L344.11,192.9 L345.34,192.9 L346.56,192.9 L347.79,192.9 L349.01,192.85 L350.23,192.78 L351.46,192.71 L352.68,192.64 L353.91,192.56 L355.13,192.47 L356.36,192.39 L357.58,192.3 L358.8,192.21 L360.03,192.12 L361.25,192.04 L362.48,191.95 L363.7,191.88 L364.92,191.8 L366.15,191.73 L367.37,191.66 L368.6,191.59 L369.82,191.53 L371.04,191.47 L372.27,191.41 L373.49,191.36 L374.72,191.3 L375.94,191.24 L377.17,191.18 L378.39,191.12 L379.61,191.06 L380.84,190.99 L382.06,190.92 L383.29,190.84 L384.51,190.76 L385.73,190.67 L386.96,190.59 L388.18,190.49 L389.41,190.4 L390.63,190.3 L391.85,190.2 L393.08,190.1 L394.3,190 L395.53,189.89 L396.75,189.79 L397.98,189.69 L399.2,189.59 L400.42,189.49 L401.65,189.39 L402.87,189.29 L404.1,189.19 L405.32,189.1 L406.54,189 L407.77,188.9 L408.99,188.8 L410.22,188.71 L411.44,188.6 L412.66,188.5 L413.89,188.4 L415.11,188.29 L416.34,188.18 L417.56,188.06 L418.79,187.94 L420.01,187.82 L421.23,187.69 L422.46,187.56 L423.68,187.43 L424.91,187.29 L426.13,187.26 L427.35,187.26 L428.58,186.83 L429.8,185.13 L431.03,182.91 L432.25,179.04 L433.47,175.18 L434.7,171.32 L435.92,166.66 L437.15,161.32 L438.37,155.97 L439.59,150.62 L440.82,145.28 L442.04,139.93 L443.27,134.58 L444.49,129.37 L445.72,125.09 L446.94,120.81 L448.16,116.54 L449.39,112.28 L450.61,110.27 L451.84,108.27 L453.06,106.26 L454.28,104.25 L455.51,102.34 L456.73,101.62 L457.96,100.91 L459.18,100.2 L460.4,99.49 L461.63,98.77 L462.85,98.06 L464.08,97.75 L465.3,97.48 L466.53,97.22 L467.75,96.95 L468.97,96.69 L470.2,96.43 L471.42,95.92 L472.65,95.32 L473.87,94.71 L475.09,94.11 L476.32,93.12 L477.54,90.44 L478.77,87.77 L479.99,85.09 L481.21,84.52 L482.44,86.21 L483.66,87.91 L484.89,89.61 L486.11,91.39 L487.34,94.25 L488.56,97.89 L489.78,101.53 L491.01,105.17 L492.23,108.76 L493.46,111.91 L494.68,115.06 L495.9,118.21 L497.13,121.35 L498.35,124.49 L499.58,127.46 L500.8,130.33 L502.02,133.2 L503.25,136.08 L504.47,139 L505.7,142.16 L506.92,145.14 L508.15,148.12 L509.37,151.26 L510.59,154.43 L511.82,157.61 L513.04,159.76 L514.27,161.86 L515.49,163.96 L516.71,166.06 L517.94,168.01 L519.16,169.69 L520.39,171.19 L521.61,172.7 L522.83,174.19 L524.06,175.69 L525.28,177 L526.51,177.78 L527.73,178.5 L528.95,179.18 L530.18,179.86 L531.4,180.54 L532.63,181.22 L533.85,181.81 L535.08,182.13 L536.3,182.46 L537.52,182.79 L538.75,183.12 L539.97,183.4 L541.2,183.67 L542.42,183.94 L543.64,184.22 L544.87,184.44 L546.09,184.62 L547.32,184.81 L548.54,185 L549.76,185.19 L550.99,185.39 L552.21,185.59 L553.44,185.79 L554.66,185.99 L555.89,186.2 L557.11,186.38 L558.33,186.54 L559.56,186.7 L560.78,186.87 L562.01,187.04 L563.23,187.21 L564.45,187.37 L565.68,187.52 L566.9,187.67 L568.13,187.82 L569.35,187.97 L570.57,188.11 L571.8,188.24 L573.02,188.36 L574.25,188.47 L575.47,188.59 L576.7,188.71 L577.92,188.82 L579.14,188.94 L580.37,189.06 L581.59,189.25 L582.82,189.48 L584.04,189.72 L585.26,189.96 L586.49,190.2 L587.71,190.44 L588.94,190.69 L590.16,190.93 L591.38,191.18 L592.61,191.43 L593.83,191.63 L595.06,191.83 L596.28,192.04 L597.51,192.24 L598.73,192.33 L598.73,193.7 Z" fill="rgba(255,45,45,0.72)" stroke="none" stroke-width="1" />
<path d="M329.43,192.74 L330.65,192.78 L331.87,192.82 L333.1,192.86 L334.32,192.9 L335.55,192.9 L336.77,192.9 L337.99,192.9 L339.22,192.9 L340.44,192.9 L341.67,192.9 L342.89,192.9 L344.11,192.9 L345.34,192.9 L346.56,192.9 L347.79,192.9 L349.01,192.85 L350.23,192.78 L351.46,192.71 L352.68,192.64 L353.91,192.56 L355.13,192.47 L356.36,192.39 L357.58,192.3 L358.8,192.21 L360.03,192.12 L361.25,192.04 L362.48,191.95 L363.7,191.88 L364.92,191.8 L366.15,191.73 L367.37,191.66 L368.6,191.59 L369.82,191.53 L371.04,191.47 L372.27,191.41 L373.49,191.36 L374.72,191.3 L375.94,191.24 L377.17,191.18 L378.39,191.12 L379.61,191.06 L380.84,190.99 L382.06,190.92 L383.29,190.84 L384.51,190.76 L385.73,190.67 L386.96,190.59 L388.18,190.49 L389.41,190.4 L390.63,190.3 L391.85,190.2 L393.08,190.1 L394.3,190 L395.53,189.89 L396.75,189.79 L397.98,189.69 L399.2,189.59 L400.42,189.49 L401.65,189.39 L402.87,189.29 L404.1,189.19 L405.32,189.1 L406.54,189 L407.77,188.9 L408.99,188.8 L410.22,188.71 L411.44,188.6 L412.66,188.5 L413.89,188.4 L415.11,188.29 L416.34,188.18 L417.56,188.06 L418.79,187.94 L420.01,187.82 L421.23,187.69 L422.46,187.56 L423.68,187.43 L424.91,187.29 L426.13,187.26 L427.35,187.26 L428.58,186.83 L429.8,185.13 L431.03,182.91 L432.25,179.04 L433.47,175.18 L434.7,171.32 L435.92,166.66 L437.15,161.32 L438.37,155.97 L439.59,150.62 L440.82,145.28 L442.04,139.93 L443.27,134.58 L444.49,129.37 L445.72,125.09 L446.94,120.81 L448.16,116.54 L449.39,112.28 L450.61,110.27 L451.84,108.27 L453.06,106.26 L454.28,104.25 L455.51,102.34 L456.73,101.62 L457.96,100.91 L459.18,100.2 L460.4,99.49 L461.63,98.77 L462.85,98.06 L464.08,97.75 L465.3,97.48 L466.53,97.22 L467.75,96.95 L468.97,96.69 L470.2,96.43 L471.42,95.92 L472.65,95.32 L473.87,94.71 L475.09,94.11 L476.32,93.12 L477.54,90.44 L478.77,87.77 L479.99,85.09 L481.21,84.52 L482.44,86.21 L483.66,87.91 L484.89,89.61 L486.11,91.39 L487.34,94.25 L488.56,97.89 L489.78,101.53 L491.01,105.17 L492.23,108.76 L493.46,111.91 L494.68,115.06 L495.9,118.21 L497.13,121.35 L498.35,124.49 L499.58,127.46 L500.8,130.33 L502.02,133.2 L503.25,136.08 L504.47,139 L505.7,142.16 L506.92,145.14 L508.15,148.12 L509.37,151.26 L510.59,154.43 L511.82,157.61 L513.04,159.76 L514.27,161.86 L515.49,163.96 L516.71,166.06 L517.94,168.01 L519.16,169.69 L520.39,171.19 L521.61,172.7 L522.83,174.19 L524.06,175.69 L525.28,177 L526.51,177.78 L527.73,178.5 L528.95,179.18 L530.18,179.86 L531.4,180.54 L532.63,181.22 L533.85,181.81 L535.08,182.13 L536.3,182.46 L537.52,182.79 L538.75,183.12 L539.97,183.4 L541.2,183.67 L542.42,183.94 L543.64,184.22 L544.87,184.44 L546.09,184.62 L547.32,184.81 L548.54,185 L549.76,185.19 L550.99,185.39 L552.21,185.59 L553.44,185.79 L554.66,185.99 L555.89,186.2 L557.11,186.38 L558.33,186.54 L559.56,186.7 L560.78,186.87 L562.01,187.04 L563.23,187.21 L564.45,187.37 L565.68,187.52 L566.9,187.67 L568.13,187.82 L569.35,187.97 L570.57,188.11 L571.8,188.24 L573.02,188.36 L574.25,188.47 L575.47,188.59 L576.7,188.71 L577.92,188.82 L579.14,188.94 L580.37,189.06 L581.59,189.25 L582.82,189.48 L584.04,189.72 L585.26,189.96 L586.49,190.2 L587.71,190.44 L588.94,190.69 L590.16,190.93 L591.38,191.18 L592.61,191.43 L593.83,191.63 L595.06,191.83 L596.28,192.04 L597.51,192.24 L598.73,192.33" fill="none" stroke="#111" stroke-width="0.75" />
<path d="M323.61,201.1 L323.61,199.97 L324.83,199.93 L326.05,199.89 L327.27,199.86 L328.49,199.83 L329.71,199.8 L330.93,199.77 L332.15,199.75 L333.37,199.74 L334.59,199.73 L335.82,199.72 L337.04,199.72 L338.26,199.73 L339.48,199.74 L340.7,199.75 L341.92,199.76 L343.14,199.77 L344.36,199.78 L345.58,199.8 L346.8,199.8 L348.02,199.81 L349.24,199.81 L350.46,199.81 L351.69,199.8 L352.91,199.78 L354.13,199.75 L355.35,199.72 L356.57,199.68 L357.79,199.63 L359.01,199.58 L360.23,199.51 L361.45,199.44 L362.67,199.37 L363.89,199.29 L365.11,199.2 L366.33,199.11 L367.55,199.02 L368.78,198.92 L370,198.83 L371.22,198.73 L372.44,198.63 L373.66,198.53 L374.88,198.44 L376.1,198.34 L377.32,198.25 L378.54,198.15 L379.76,198.06 L380.98,197.97 L382.2,197.88 L383.42,197.79 L384.65,197.7 L385.87,197.6 L387.09,197.51 L388.31,197.41 L389.53,197.31 L390.75,197.21 L391.97,197.1 L393.19,197 L394.41,196.88 L395.63,196.76 L396.85,196.64 L398.07,196.52 L399.29,196.39 L400.52,196.26 L401.74,196.13 L402.96,195.99 L404.18,195.86 L405.4,195.72 L406.62,195.59 L407.84,195.45 L409.06,195.32 L410.28,195.19 L411.5,195.06 L412.72,194.93 L413.94,194.81 L415.16,194.69 L416.38,194.57 L417.61,194.46 L418.83,194.4 L420.05,194.44 L421.27,194.47 L422.49,193.04 L423.71,191.35 L424.93,187.82 L426.15,183.93 L427.37,180.04 L428.59,175.95 L429.81,170.54 L431.03,165.12 L432.25,159.69 L433.48,154.26 L434.7,148.83 L435.92,143.39 L437.14,137.94 L438.36,133.25 L439.58,128.89 L440.8,124.53 L442.02,120.17 L443.24,117.12 L444.46,115.07 L445.68,113.03 L446.9,110.98 L448.12,108.94 L449.35,107.7 L450.57,106.97 L451.79,106.24 L453.01,105.51 L454.23,104.78 L455.45,104.06 L456.67,103.52 L457.89,103.25 L459.11,102.98 L460.33,102.71 L461.55,102.44 L462.77,102.17 L463.99,101.82 L465.21,101.21 L466.44,100.6 L467.66,99.98 L468.88,99.37 L470.1,97.32 L471.32,94.61 L472.54,91.9 L473.76,89.19 L474.98,90.69 L476.2,92.34 L477.42,93.99 L478.64,95.63 L479.86,97.47 L481.08,101.21 L482.31,104.95 L483.53,108.69 L484.75,112.43 L485.97,115.9 L487.19,119.12 L488.41,122.35 L489.63,125.57 L490.85,128.79 L492.07,131.99 L493.29,134.91 L494.51,137.83 L495.73,140.75 L496.95,143.68 L498.18,146.77 L499.4,149.77 L500.62,152.7 L501.84,155.67 L503.06,158.75 L504.28,161.83 L505.5,164.6 L506.72,166.81 L507.94,169.02 L509.16,171.23 L510.38,173.4 L511.6,175.46 L512.82,177.07 L514.04,178.67 L515.27,180.27 L516.49,181.86 L517.71,183.45 L518.93,184.54 L520.15,185.33 L521.37,186.05 L522.59,186.76 L523.81,187.48 L525.03,188.19 L526.25,188.9 L527.47,189.36 L528.69,189.68 L529.91,189.99 L531.14,190.3 L532.36,190.62 L533.58,190.88 L534.8,191.14 L536.02,191.41 L537.24,191.68 L538.46,191.84 L539.68,192 L540.9,192.17 L542.12,192.33 L543.34,192.51 L544.56,192.68 L545.78,192.86 L547.01,193.04 L548.23,193.23 L549.45,193.41 L550.67,193.57 L551.89,193.72 L553.11,193.89 L554.33,194.06 L555.55,194.23 L556.77,194.4 L557.99,194.56 L559.21,194.72 L560.43,194.87 L561.65,195.02 L562.87,195.17 L564.1,195.31 L565.32,195.44 L566.54,195.56 L567.76,195.68 L568.98,195.8 L570.2,195.92 L571.42,196.04 L572.64,196.16 L573.86,196.28 L575.08,196.5 L576.3,196.75 L577.52,197.01 L578.74,197.27 L579.97,197.53 L581.19,197.8 L582.41,198.07 L583.63,198.35 L584.85,198.63 L586.07,198.9 L587.29,199.15 L588.51,199.4 L589.73,199.65 L590.95,199.9 L592.17,200 L592.17,201.1 Z" fill="rgba(255,22,22,0.72)" stroke="none" stroke-width="1" />
<path d="M323.61,199.97 L324.83,199.93 L326.05,199.89 L327.27,199.86 L328.49,199.83 L329.71,199.8 L330.93,199.77 L332.15,199.75 L333.37,199.74 L334.59,199.73 L335.82,199.72 L337.04,199.72 L338.26,199.73 L339.48,199.74 L340.7,199.75 L341.92,199.76 L343.14,199.77 L344.36,199.78 L345.58,199.8 L346.8,199.8 L348.02,199.81 L349.24,199.81 L350.46,199.81 L351.69,199.8 L352.91,199.78 L354.13,199.75 L355.35,199.72 L356.57,199.68 L357.79,199.63 L359.01,199.58 L360.23,199.51 L361.45,199.44 L362.67,199.37 L363.89,199.29 L365.11,199.2 L366.33,199.11 L367.55,199.02 L368.78,198.92 L370,198.83 L371.22,198.73 L372.44,198.63 L373.66,198.53 L374.88,198.44 L376.1,198.34 L377.32,198.25 L378.54,198.15 L379.76,198.06 L380.98,197.97 L382.2,197.88 L383.42,197.79 L384.65,197.7 L385.87,197.6 L387.09,197.51 L388.31,197.41 L389.53,197.31 L390.75,197.21 L391.97,197.1 L393.19,197 L394.41,196.88 L395.63,196.76 L396.85,196.64 L398.07,196.52 L399.29,196.39 L400.52,196.26 L401.74,196.13 L402.96,195.99 L404.18,195.86 L405.4,195.72 L406.62,195.59 L407.84,195.45 L409.06,195.32 L410.28,195.19 L411.5,195.06 L412.72,194.93 L413.94,194.81 L415.16,194.69 L416.38,194.57 L417.61,194.46 L418.83,194.4 L420.05,194.44 L421.27,194.47 L422.49,193.04 L423.71,191.35 L424.93,187.82 L426.15,183.93 L427.37,180.04 L428.59,175.95 L429.81,170.54 L431.03,165.12 L432.25,159.69 L433.48,154.26 L434.7,148.83 L435.92,143.39 L437.14,137.94 L438.36,133.25 L439.58,128.89 L440.8,124.53 L442.02,120.17 L443.24,117.12 L444.46,115.07 L445.68,113.03 L446.9,110.98 L448.12,108.94 L449.35,107.7 L450.57,106.97 L451.79,106.24 L453.01,105.51 L454.23,104.78 L455.45,104.06 L456.67,103.52 L457.89,103.25 L459.11,102.98 L460.33,102.71 L461.55,102.44 L462.77,102.17 L463.99,101.82 L465.21,101.21 L466.44,100.6 L467.66,99.98 L468.88,99.37 L470.1,97.32 L471.32,94.61 L472.54,91.9 L473.76,89.19 L474.98,90.69 L476.2,92.34 L477.42,93.99 L478.64,95.63 L479.86,97.47 L481.08,101.21 L482.31,104.95 L483.53,108.69 L484.75,112.43 L485.97,115.9 L487.19,119.12 L488.41,122.35 L489.63,125.57 L490.85,128.79 L492.07,131.99 L493.29,134.91 L494.51,137.83 L495.73,140.75 L496.95,143.68 L498.18,146.77 L499.4,149.77 L500.62,152.7 L501.84,155.67 L503.06,158.75 L504.28,161.83 L505.5,164.6 L506.72,166.81 L507.94,169.02 L509.16,171.23 L510.38,173.4 L511.6,175.46 L512.82,177.07 L514.04,178.67 L515.27,180.27 L516.49,181.86 L517.71,183.45 L518.93,184.54 L520.15,185.33 L521.37,186.05 L522.59,186.76 L523.81,187.48 L525.03,188.19 L526.25,188.9 L527.47,189.36 L528.69,189.68 L529.91,189.99 L531.14,190.3 L532.36,190.62 L533.58,190.88 L534.8,191.14 L536.02,191.41 L537.24,191.68 L538.46,191.84 L539.68,192 L540.9,192.17 L542.12,192.33 L543.34,192.51 L544.56,192.68 L545.78,192.86 L547.01,193.04 L548.23,193.23 L549.45,193.41 L550.67,193.57 L551.89,193.72 L553.11,193.89 L554.33,194.06 L555.55,194.23 L556.77,194.4 L557.99,194.56 L559.21,194.72 L560.43,194.87 L561.65,195.02 L562.87,195.17 L564.1,195.31 L565.32,195.44 L566.54,195.56 L567.76,195.68 L568.98,195.8 L570.2,195.92 L571.42,196.04 L572.64,196.16 L573.86,196.28 L575.08,196.5 L576.3,196.75 L577.52,197.01 L578.74,197.27 L579.97,197.53 L581.19,197.8 L582.41,198.07 L583.63,198.35 L584.85,198.63 L586.07,198.9 L587.29,199.15 L588.51,199.4 L589.73,199.65 L590.95,199.9 L592.17,200" fill="none" stroke="#111" stroke-width="0.75" />
<path d="M317.87,208.4 L317.87,207.36 L319.09,207.37 L320.3,207.37 L321.52,207.37 L322.74,207.36 L323.96,207.36 L325.17,207.35 L326.39,207.33 L327.61,207.32 L328.83,207.3 L330.04,207.29 L331.26,207.27 L332.48,207.25 L333.7,207.23 L334.91,207.2 L336.13,207.18 L337.35,207.15 L338.57,207.13 L339.78,207.1 L341,207.07 L342.22,207.04 L343.43,207.01 L344.65,206.98 L345.87,206.94 L347.09,206.9 L348.3,206.86 L349.52,206.82 L350.74,206.77 L351.96,206.71 L353.17,206.66 L354.39,206.59 L355.61,206.52 L356.83,206.45 L358.04,206.37 L359.26,206.29 L360.48,206.2 L361.7,206.11 L362.91,206.02 L364.13,205.91 L365.35,205.81 L366.57,205.7 L367.78,205.59 L369,205.48 L370.22,205.37 L371.43,205.26 L372.65,205.14 L373.87,205.03 L375.09,204.92 L376.3,204.8 L377.52,204.69 L378.74,204.59 L379.96,204.48 L381.17,204.38 L382.39,204.27 L383.61,204.17 L384.83,204.08 L386.04,203.98 L387.26,203.89 L388.48,203.79 L389.7,203.7 L390.91,203.61 L392.13,203.51 L393.35,203.42 L394.57,203.32 L395.78,203.22 L397,203.12 L398.22,203.02 L399.43,202.91 L400.65,202.79 L401.87,202.68 L403.09,202.56 L404.3,202.43 L405.52,202.3 L406.74,202.17 L407.96,202.03 L409.17,201.88 L410.39,201.73 L411.61,201.58 L412.83,201.57 L414.04,201.57 L415.26,200.73 L416.48,198.91 L417.7,196.08 L418.91,191.97 L420.13,187.86 L421.35,183.75 L422.56,178.51 L423.78,172.83 L425,167.14 L426.22,161.46 L427.43,155.78 L428.65,150.1 L429.87,144.42 L431.09,139.04 L432.3,134.5 L433.52,129.96 L434.74,125.42 L435.96,121.18 L437.17,119.05 L438.39,116.93 L439.61,114.8 L440.83,112.67 L442.04,110.76 L443.26,110 L444.48,109.24 L445.7,108.49 L446.91,107.73 L448.13,106.98 L449.35,106.22 L450.56,105.91 L451.78,105.63 L453,105.35 L454.22,105.06 L455.43,104.78 L456.65,104.5 L457.87,103.95 L459.09,103.3 L460.3,102.66 L461.52,102.01 L462.74,100.97 L463.96,98.13 L465.17,95.29 L466.39,92.45 L467.61,91.65 L468.83,93.3 L470.04,94.95 L471.26,96.59 L472.48,98.29 L473.7,101.15 L474.91,105.12 L476.13,109.08 L477.35,113.05 L478.56,117 L479.78,120.44 L481,123.84 L482.22,127.24 L483.43,130.64 L484.65,134.05 L485.87,137.26 L487.09,140.31 L488.3,143.36 L489.52,146.41 L490.74,149.47 L491.96,152.7 L493.17,155.64 L494.39,158.57 L495.61,161.6 L496.83,164.66 L498.04,167.73 L499.26,170.25 L500.48,172.63 L501.7,175.01 L502.91,177.39 L504.13,179.69 L505.35,181.75 L506.56,183.5 L507.78,185.25 L509,187 L510.22,188.75 L511.43,190.48 L512.65,191.33 L513.87,192.15 L515.09,192.95 L516.3,193.74 L517.52,194.54 L518.74,195.33 L519.96,196.12 L521.17,196.47 L522.39,196.8 L523.61,197.14 L524.83,197.47 L526.04,197.79 L527.26,198.07 L528.48,198.35 L529.7,198.64 L530.91,198.88 L532.13,199.02 L533.35,199.15 L534.56,199.29 L535.78,199.43 L537,199.57 L538.22,199.7 L539.43,199.84 L540.65,199.98 L541.87,200.11 L543.09,200.25 L544.3,200.36 L545.52,200.48 L546.74,200.61 L547.96,200.76 L549.17,200.9 L550.39,201.04 L551.61,201.19 L552.83,201.34 L554.04,201.48 L555.26,201.63 L556.48,201.78 L557.7,201.93 L558.91,202.07 L560.13,202.21 L561.35,202.35 L562.56,202.5 L563.78,202.64 L565,202.79 L566.22,202.94 L567.43,203.1 L568.65,203.39 L569.87,203.69 L571.09,203.98 L572.3,204.28 L573.52,204.58 L574.74,204.88 L575.96,205.18 L577.17,205.48 L578.39,205.79 L579.61,206.07 L580.83,206.35 L582.04,206.62 L583.26,206.89 L584.48,207.16 L585.7,207.23 L585.7,208.4 Z" fill="rgba(255,8,8,0.72)" stroke="none" stroke-width="1" />
<path d="M317.87,207.36 L319.09,207.37 L320.3,207.37 L321.52,207.37 L322.74,207.36 L323.96,207.36 L325.17,207.35 L326.39,207.33 L327.61,207.32 L328.83,207.3 L330.04,207.29 L331.26,207.27 L332.48,207.25 L333.7,207.23 L334.91,207.2 L336.13,207.18 L337.35,207.15 L338.57,207.13 L339.78,207.1 L341,207.07 L342.22,207.04 L343.43,207.01 L344.65,206.98 L345.87,206.94 L347.09,206.9 L348.3,206.86 L349.52,206.82 L350.74,206.77 L351.96,206.71 L353.17,206.66 L354.39,206.59 L355.61,206.52 L356.83,206.45 L358.04,206.37 L359.26,206.29 L360.48,206.2 L361.7,206.11 L362.91,206.02 L364.13,205.91 L365.35,205.81 L366.57,205.7 L367.78,205.59 L369,205.48 L370.22,205.37 L371.43,205.26 L372.65,205.14 L373.87,205.03 L375.09,204.92 L376.3,204.8 L377.52,204.69 L378.74,204.59 L379.96,204.48 L381.17,204.38 L382.39,204.27 L383.61,204.17 L384.83,204.08 L386.04,203.98 L387.26,203.89 L388.48,203.79 L389.7,203.7 L390.91,203.61 L392.13,203.51 L393.35,203.42 L394.57,203.32 L395.78,203.22 L397,203.12 L398.22,203.02 L399.43,202.91 L400.65,202.79 L401.87,202.68 L403.09,202.56 L404.3,202.43 L405.52,202.3 L406.74,202.17 L407.96,202.03 L409.17,201.88 L410.39,201.73 L411.61,201.58 L412.83,201.57 L414.04,201.57 L415.26,200.73 L416.48,198.91 L417.7,196.08 L418.91,191.97 L420.13,187.86 L421.35,183.75 L422.56,178.51 L423.78,172.83 L425,167.14 L426.22,161.46 L427.43,155.78 L428.65,150.1 L429.87,144.42 L431.09,139.04 L432.3,134.5 L433.52,129.96 L434.74,125.42 L435.96,121.18 L437.17,119.05 L438.39,116.93 L439.61,114.8 L440.83,112.67 L442.04,110.76 L443.26,110 L444.48,109.24 L445.7,108.49 L446.91,107.73 L448.13,106.98 L449.35,106.22 L450.56,105.91 L451.78,105.63 L453,105.35 L454.22,105.06 L455.43,104.78 L456.65,104.5 L457.87,103.95 L459.09,103.3 L460.3,102.66 L461.52,102.01 L462.74,100.97 L463.96,98.13 L465.17,95.29 L466.39,92.45 L467.61,91.65 L468.83,93.3 L470.04,94.95 L471.26,96.59 L472.48,98.29 L473.7,101.15 L474.91,105.12 L476.13,109.08 L477.35,113.05 L478.56,117 L479.78,120.44 L481,123.84 L482.22,127.24 L483.43,130.64 L484.65,134.05 L485.87,137.26 L487.09,140.31 L488.3,143.36 L489.52,146.41 L490.74,149.47 L491.96,152.7 L493.17,155.64 L494.39,158.57 L495.61,161.6 L496.83,164.66 L498.04,167.73 L499.26,170.25 L500.48,172.63 L501.7,175.01 L502.91,177.39 L504.13,179.69 L505.35,181.75 L506.56,183.5 L507.78,185.25 L509,187 L510.22,188.75 L511.43,190.48 L512.65,191.33 L513.87,192.15 L515.09,192.95 L516.3,193.74 L517.52,194.54 L518.74,195.33 L519.96,196.12 L521.17,196.47 L522.39,196.8 L523.61,197.14 L524.83,197.47 L526.04,197.79 L527.26,198.07 L528.48,198.35 L529.7,198.64 L530.91,198.88 L532.13,199.02 L533.35,199.15 L534.56,199.29 L535.78,199.43 L537,199.57 L538.22,199.7 L539.43,199.84 L540.65,199.98 L541.87,200.11 L543.09,200.25 L544.3,200.36 L545.52,200.48 L546.74,200.61 L547.96,200.76 L549.17,200.9 L550.39,201.04 L551.61,201.19 L552.83,201.34 L554.04,201.48 L555.26,201.63 L556.48,201.78 L557.7,201.93 L558.91,202.07 L560.13,202.21 L561.35,202.35 L562.56,202.5 L563.78,202.64 L565,202.79 L566.22,202.94 L567.43,203.1 L568.65,203.39 L569.87,203.69 L571.09,203.98 L572.3,204.28 L573.52,204.58 L574.74,204.88 L575.96,205.18 L577.17,205.48 L578.39,205.79 L579.61,206.07 L580.83,206.35 L582.04,206.62 L583.26,206.89 L584.48,207.16 L585.7,207.23" fill="none" stroke="#111" stroke-width="0.75" />
<path d="M310.01,218.4 L310.01,217.11 L311.22,217.12 L312.44,217.13 L313.65,217.15 L314.86,217.16 L316.08,217.18 L317.29,217.19 L318.51,217.21 L319.72,217.22 L320.93,217.23 L322.15,217.24 L323.36,217.24 L324.58,217.23 L325.79,217.22 L327,217.2 L328.22,217.18 L329.43,217.14 L330.65,217.11 L331.86,217.06 L333.08,217.01 L334.29,216.96 L335.5,216.9 L336.72,216.84 L337.93,216.77 L339.15,216.7 L340.36,216.63 L341.57,216.56 L342.79,216.49 L344,216.41 L345.22,216.34 L346.43,216.27 L347.64,216.19 L348.86,216.12 L350.07,216.04 L351.29,215.97 L352.5,215.89 L353.71,215.82 L354.93,215.74 L356.14,215.65 L357.36,215.57 L358.57,215.48 L359.78,215.39 L361,215.3 L362.21,215.21 L363.43,215.11 L364.64,215.01 L365.85,214.9 L367.07,214.8 L368.28,214.69 L369.5,214.58 L370.71,214.48 L371.92,214.37 L373.14,214.27 L374.35,214.16 L375.57,214.06 L376.78,213.96 L377.99,213.86 L379.21,213.77 L380.42,213.67 L381.64,213.58 L382.85,213.49 L384.06,213.4 L385.28,213.31 L386.49,213.22 L387.71,213.12 L388.92,213.03 L390.13,212.92 L391.35,212.82 L392.56,212.7 L393.78,212.58 L394.99,212.45 L396.2,212.31 L397.42,212.16 L398.63,212 L399.85,211.83 L401.06,211.65 L402.27,211.46 L403.49,210.29 L404.7,208.44 L405.92,205.13 L407.13,201.48 L408.34,197.84 L409.56,193.43 L410.77,188.95 L411.99,184.41 L413.2,179.77 L414.42,175.15 L415.63,170.52 L416.84,166.02 L418.06,161.58 L419.27,157.14 L420.49,153.12 L421.7,149.84 L422.91,146.56 L424.13,143.28 L425.34,140.21 L426.56,137.26 L427.77,134.32 L428.98,131.37 L430.2,128.51 L431.41,127.14 L432.63,125.77 L433.84,124.39 L435.05,123.02 L436.27,121.64 L437.48,120.26 L438.7,119.37 L439.91,118.59 L441.12,117.81 L442.34,117.02 L443.55,116.23 L444.77,115.45 L445.98,114.66 L447.19,113.33 L448.41,111.85 L449.62,110.36 L450.84,108.88 L452.05,107.23 L453.26,104.95 L454.48,102.67 L455.69,100.39 L456.91,98.11 L458.12,95.84 L459.33,96.72 L460.55,98.36 L461.76,100 L462.98,101.64 L464.19,103.35 L465.4,107.12 L466.62,111.32 L467.83,115.51 L469.05,119.72 L470.26,123.75 L471.47,127.34 L472.69,130.94 L473.9,134.54 L475.12,138.14 L476.33,141.74 L477.54,145 L478.76,148.2 L479.97,151.41 L481.19,154.61 L482.4,157.86 L483.61,161.04 L484.83,164.01 L486.04,166.97 L487.26,170.02 L488.47,173.06 L489.68,176.07 L490.9,178.63 L492.11,181.2 L493.33,183.76 L494.54,186.32 L495.76,188.81 L496.97,190.89 L498.18,192.78 L499.4,194.67 L500.61,196.56 L501.83,198.45 L503.04,200.06 L504.25,200.93 L505.47,201.77 L506.68,202.6 L507.9,203.42 L509.11,204.25 L510.32,205.07 L511.54,205.78 L512.75,206.09 L513.97,206.4 L515.18,206.7 L516.39,207.01 L517.61,207.29 L518.82,207.56 L520.04,207.83 L521.25,208.11 L522.46,208.3 L523.68,208.42 L524.89,208.55 L526.11,208.67 L527.32,208.8 L528.53,208.94 L529.75,209.08 L530.96,209.23 L532.18,209.38 L533.39,209.54 L534.6,209.7 L535.82,209.85 L537.03,210.01 L538.25,210.19 L539.46,210.38 L540.67,210.57 L541.89,210.76 L543.1,210.94 L544.32,211.12 L545.53,211.3 L546.74,211.47 L547.96,211.64 L549.17,211.79 L550.39,211.93 L551.6,212.07 L552.81,212.19 L554.03,212.31 L555.24,212.42 L556.46,212.53 L557.67,212.63 L558.88,212.76 L560.1,213.01 L561.31,213.26 L562.53,213.52 L563.74,213.77 L564.95,214.03 L566.17,214.29 L567.38,214.56 L568.6,214.83 L569.81,215.11 L571.02,215.38 L572.24,215.66 L573.45,215.95 L574.67,216.24 L575.88,216.54 L577.09,216.64 L577.09,218.4 Z" fill="rgba(255,0,0,0.72)" stroke="none" stroke-width="1" />
<path d="M310.01,217.11 L311.22,217.12 L312.44,217.13 L313.65,217.15 L314.86,217.16 L316.08,217.18 L317.29,217.19 L318.51,217.21 L319.72,217.22 L320.93,217.23 L322.15,217.24 L323.36,217.24 L324.58,217.23 L325.79,217.22 L327,217.2 L328.22,217.18 L329.43,217.14 L330.65,217.11 L331.86,217.06 L333.08,217.01 L334.29,216.96 L335.5,216.9 L336.72,216.84 L337.93,216.77 L339.15,216.7 L340.36,216.63 L341.57,216.56 L342.79,216.49 L344,216.41 L345.22,216.34 L346.43,216.27 L347.64,216.19 L348.86,216.12 L350.07,216.04 L351.29,215.97 L352.5,215.89 L353.71,215.82 L354.93,215.74 L356.14,215.65 L357.36,215.57 L358.57,215.48 L359.78,215.39 L361,215.3 L362.21,215.21 L363.43,215.11 L364.64,215.01 L365.85,214.9 L367.07,214.8 L368.28,214.69 L369.5,214.58 L370.71,214.48 L371.92,214.37 L373.14,214.27 L374.35,214.16 L375.57,214.06 L376.78,213.96 L377.99,213.86 L379.21,213.77 L380.42,213.67 L381.64,213.58 L382.85,213.49 L384.06,213.4 L385.28,213.31 L386.49,213.22 L387.71,213.12 L388.92,213.03 L390.13,212.92 L391.35,212.82 L392.56,212.7 L393.78,212.58 L394.99,212.45 L396.2,212.31 L397.42,212.16 L398.63,212 L399.85,211.83 L401.06,211.65 L402.27,211.46 L403.49,210.29 L404.7,208.44 L405.92,205.13 L407.13,201.48 L408.34,197.84 L409.56,193.43 L410.77,188.95 L411.99,184.41 L413.2,179.77 L414.42,175.15 L415.63,170.52 L416.84,166.02 L418.06,161.58 L419.27,157.14 L420.49,153.12 L421.7,149.84 L422.91,146.56 L424.13,143.28 L425.34,140.21 L426.56,137.26 L427.77,134.32 L428.98,131.37 L430.2,128.51 L431.41,127.14 L432.63,125.77 L433.84,124.39 L435.05,123.02 L436.27,121.64 L437.48,120.26 L438.7,119.37 L439.91,118.59 L441.12,117.81 L442.34,117.02 L443.55,116.23 L444.77,115.45 L445.98,114.66 L447.19,113.33 L448.41,111.85 L449.62,110.36 L450.84,108.88 L452.05,107.23 L453.26,104.95 L454.48,102.67 L455.69,100.39 L456.91,98.11 L458.12,95.84 L459.33,96.72 L460.55,98.36 L461.76,100 L462.98,101.64 L464.19,103.35 L465.4,107.12 L466.62,111.32 L467.83,115.51 L469.05,119.72 L470.26,123.75 L471.47,127.34 L472.69,130.94 L473.9,134.54 L475.12,138.14 L476.33,141.74 L477.54,145 L478.76,148.2 L479.97,151.41 L481.19,154.61 L482.4,157.86 L483.61,161.04 L484.83,164.01 L486.04,166.97 L487.26,170.02 L488.47,173.06 L489.68,176.07 L490.9,178.63 L492.11,181.2 L493.33,183.76 L494.54,186.32 L495.76,188.81 L496.97,190.89 L498.18,192.78 L499.4,194.67 L500.61,196.56 L501.83,198.45 L503.04,200.06 L504.25,200.93 L505.47,201.77 L506.68,202.6 L507.9,203.42 L509.11,204.25 L510.32,205.07 L511.54,205.78 L512.75,206.09 L513.97,206.4 L515.18,206.7 L516.39,207.01 L517.61,207.29 L518.82,207.56 L520.04,207.83 L521.25,208.11 L522.46,208.3 L523.68,208.42 L524.89,208.55 L526.11,208.67 L527.32,208.8 L528.53,208.94 L529.75,209.08 L530.96,209.23 L532.18,209.38 L533.39,209.54 L534.6,209.7 L535.82,209.85 L537.03,210.01 L538.25,210.19 L539.46,210.38 L540.67,210.57 L541.89,210.76 L543.1,210.94 L544.32,211.12 L545.53,211.3 L546.74,211.47 L547.96,211.64 L549.17,211.79 L550.39,211.93 L551.6,212.07 L552.81,212.19 L554.03,212.31 L555.24,212.42 L556.46,212.53 L557.67,212.63 L558.88,212.76 L560.1,213.01 L561.31,213.26 L562.53,213.52 L563.74,213.77 L564.95,214.03 L566.17,214.29 L567.38,214.56 L568.6,214.83 L569.81,215.11 L571.02,215.38 L572.24,215.66 L573.45,215.95 L574.67,216.24 L575.88,216.54 L577.09,216.64" fill="none" stroke="#111" stroke-width="0.75" />
<path d="M300.1,231 L300.1,230.14 L301.31,230.13 L302.53,230.11 L303.74,230.09 L304.95,230.06 L306.16,230.03 L307.37,230 L308.58,229.97 L309.79,229.93 L311,229.89 L312.21,229.85 L313.42,229.8 L314.63,229.76 L315.84,229.7 L317.05,229.65 L318.26,229.59 L319.47,229.53 L320.69,229.47 L321.9,229.41 L323.11,229.34 L324.32,229.28 L325.53,229.21 L326.74,229.14 L327.95,229.07 L329.16,229 L330.37,228.94 L331.58,228.87 L332.79,228.81 L334,228.75 L335.21,228.69 L336.42,228.64 L337.63,228.59 L338.85,228.54 L340.06,228.49 L341.27,228.45 L342.48,228.41 L343.69,228.37 L344.9,228.33 L346.11,228.28 L347.32,228.24 L348.53,228.2 L349.74,228.14 L350.95,228.09 L352.16,228.03 L353.37,227.96 L354.58,227.88 L355.79,227.8 L357.01,227.71 L358.22,227.6 L359.43,227.49 L360.64,227.37 L361.85,227.24 L363.06,227.11 L364.27,226.96 L365.48,226.81 L366.69,226.66 L367.9,226.5 L369.11,226.34 L370.32,226.18 L371.53,226.02 L372.74,225.86 L373.95,225.7 L375.17,225.54 L376.38,225.39 L377.59,225.25 L378.8,225.11 L380.01,224.98 L381.22,224.85 L382.43,224.72 L383.64,224.6 L384.85,224.48 L386.06,224.37 L387.27,224.25 L388.48,224.14 L389.69,224.02 L390.9,223.9 L392.11,223.66 L393.33,221.87 L394.54,219.56 L395.75,215.97 L396.96,212.38 L398.17,208.46 L399.38,204 L400.59,199.53 L401.8,194.92 L403.01,190.28 L404.22,185.64 L405.43,181.02 L406.64,176.54 L407.85,172.07 L409.06,167.59 L410.27,164.05 L411.49,160.73 L412.7,157.42 L413.91,154.13 L415.12,151.15 L416.33,148.18 L417.54,145.2 L418.75,142.23 L419.96,140.01 L421.17,138.63 L422.38,137.25 L423.59,135.86 L424.8,134.48 L426.01,133.1 L427.22,131.85 L428.43,131.07 L429.65,130.28 L430.86,129.5 L432.07,128.71 L433.28,127.93 L434.49,127.14 L435.7,126.24 L436.91,124.75 L438.12,123.26 L439.33,121.77 L440.54,120.28 L441.75,118.32 L442.96,116.03 L444.17,113.74 L445.38,111.45 L446.59,109.16 L447.81,107.51 L449.02,109.07 L450.23,110.63 L451.44,112.19 L452.65,113.75 L453.86,115.81 L455.07,120.06 L456.28,124.31 L457.49,128.57 L458.7,132.82 L459.91,136.69 L461.12,140.31 L462.33,143.93 L463.54,147.55 L464.75,151.18 L465.97,154.74 L467.18,157.95 L468.39,161.16 L469.6,164.37 L470.81,167.59 L472.02,170.85 L473.23,173.83 L474.44,176.71 L475.65,179.59 L476.86,182.51 L478.07,185.43 L479.28,188.26 L480.49,190.93 L481.7,193.6 L482.91,196.27 L484.13,198.93 L485.34,201.55 L486.55,203.57 L487.76,205.55 L488.97,207.53 L490.18,209.5 L491.39,211.48 L492.6,212.87 L493.81,213.73 L495.02,214.58 L496.23,215.43 L497.44,216.28 L498.65,217.13 L499.86,217.98 L501.07,218.57 L502.29,218.87 L503.5,219.16 L504.71,219.46 L505.92,219.76 L507.13,220.04 L508.34,220.32 L509.55,220.6 L510.76,220.88 L511.97,221.04 L513.18,221.15 L514.39,221.27 L515.6,221.38 L516.81,221.5 L518.02,221.62 L519.23,221.74 L520.45,221.87 L521.66,221.99 L522.87,222.12 L524.08,222.25 L525.29,222.38 L526.5,222.51 L527.71,222.68 L528.92,222.85 L530.13,223.02 L531.34,223.19 L532.55,223.37 L533.76,223.54 L534.97,223.71 L536.18,223.88 L537.39,224.04 L538.61,224.2 L539.82,224.36 L541.03,224.51 L542.24,224.66 L543.45,224.8 L544.66,224.94 L545.87,225.07 L547.08,225.2 L548.29,225.38 L549.5,225.67 L550.71,225.96 L551.92,226.25 L553.13,226.53 L554.34,226.82 L555.55,227.1 L556.77,227.38 L557.98,227.67 L559.19,227.96 L560.4,228.24 L561.61,228.52 L562.82,228.8 L564.03,229.09 L565.24,229.38 L566.45,229.44 L566.45,231 Z" fill="rgba(255,0,0,0.72)" stroke="none" stroke-width="1" />
<path d="M300.1,230.14 L301.31,230.13 L302.53,230.11 L303.74,230.09 L304.95,230.06 L306.16,230.03 L307.37,230 L308.58,229.97 L309.79,229.93 L311,229.89 L312.21,229.85 L313.42,229.8 L314.63,229.76 L315.84,229.7 L317.05,229.65 L318.26,229.59 L319.47,229.53 L320.69,229.47 L321.9,229.41 L323.11,229.34 L324.32,229.28 L325.53,229.21 L326.74,229.14 L327.95,229.07 L329.16,229 L330.37,228.94 L331.58,228.87 L332.79,228.81 L334,228.75 L335.21,228.69 L336.42,228.64 L337.63,228.59 L338.85,228.54 L340.06,228.49 L341.27,228.45 L342.48,228.41 L343.69,228.37 L344.9,228.33 L346.11,228.28 L347.32,228.24 L348.53,228.2 L349.74,228.14 L350.95,228.09 L352.16,228.03 L353.37,227.96 L354.58,227.88 L355.79,227.8 L357.01,227.71 L358.22,227.6 L359.43,227.49 L360.64,227.37 L361.85,227.24 L363.06,227.11 L364.27,226.96 L365.48,226.81 L366.69,226.66 L367.9,226.5 L369.11,226.34 L370.32,226.18 L371.53,226.02 L372.74,225.86 L373.95,225.7 L375.17,225.54 L376.38,225.39 L377.59,225.25 L378.8,225.11 L380.01,224.98 L381.22,224.85 L382.43,224.72 L383.64,224.6 L384.85,224.48 L386.06,224.37 L387.27,224.25 L388.48,224.14 L389.69,224.02 L390.9,223.9 L392.11,223.66 L393.33,221.87 L394.54,219.56 L395.75,215.97 L396.96,212.38 L398.17,208.46 L399.38,204 L400.59,199.53 L401.8,194.92 L403.01,190.28 L404.22,185.64 L405.43,181.02 L406.64,176.54 L407.85,172.07 L409.06,167.59 L410.27,164.05 L411.49,160.73 L412.7,157.42 L413.91,154.13 L415.12,151.15 L416.33,148.18 L417.54,145.2 L418.75,142.23 L419.96,140.01 L421.17,138.63 L422.38,137.25 L423.59,135.86 L424.8,134.48 L426.01,133.1 L427.22,131.85 L428.43,131.07 L429.65,130.28 L430.86,129.5 L432.07,128.71 L433.28,127.93 L434.49,127.14 L435.7,126.24 L436.91,124.75 L438.12,123.26 L439.33,121.77 L440.54,120.28 L441.75,118.32 L442.96,116.03 L444.17,113.74 L445.38,111.45 L446.59,109.16 L447.81,107.51 L449.02,109.07 L450.23,110.63 L451.44,112.19 L452.65,113.75 L453.86,115.81 L455.07,120.06 L456.28,124.31 L457.49,128.57 L458.7,132.82 L459.91,136.69 L461.12,140.31 L462.33,143.93 L463.54,147.55 L464.75,151.18 L465.97,154.74 L467.18,157.95 L468.39,161.16 L469.6,164.37 L470.81,167.59 L472.02,170.85 L473.23,173.83 L474.44,176.71 L475.65,179.59 L476.86,182.51 L478.07,185.43 L479.28,188.26 L480.49,190.93 L481.7,193.6 L482.91,196.27 L484.13,198.93 L485.34,201.55 L486.55,203.57 L487.76,205.55 L488.97,207.53 L490.18,209.5 L491.39,211.48 L492.6,212.87 L493.81,213.73 L495.02,214.58 L496.23,215.43 L497.44,216.28 L498.65,217.13 L499.86,217.98 L501.07,218.57 L502.29,218.87 L503.5,219.16 L504.71,219.46 L505.92,219.76 L507.13,220.04 L508.34,220.32 L509.55,220.6 L510.76,220.88 L511.97,221.04 L513.18,221.15 L514.39,221.27 L515.6,221.38 L516.81,221.5 L518.02,221.62 L519.23,221.74 L520.45,221.87 L521.66,221.99 L522.87,222.12 L524.08,222.25 L525.29,222.38 L526.5,222.51 L527.71,222.68 L528.92,222.85 L530.13,223.02 L531.34,223.19 L532.55,223.37 L533.76,223.54 L534.97,223.71 L536.18,223.88 L537.39,224.04 L538.61,224.2 L539.82,224.36 L541.03,224.51 L542.24,224.66 L543.45,224.8 L544.66,224.94 L545.87,225.07 L547.08,225.2 L548.29,225.38 L549.5,225.67 L550.71,225.96 L551.92,226.25 L553.13,226.53 L554.34,226.82 L555.55,227.1 L556.77,227.38 L557.98,227.67 L559.19,227.96 L560.4,228.24 L561.61,228.52 L562.82,228.8 L564.03,229.09 L565.24,229.38 L566.45,229.44" fill="none" stroke="#111" stroke-width="0.75" />
<path d="M292.56,240.6 L292.56,239.4 L293.76,239.39 L294.97,239.39 L296.18,239.39 L297.39,239.38 L298.59,239.38 L299.8,239.38 L301.01,239.38 L302.22,239.37 L303.42,239.36 L304.63,239.36 L305.84,239.34 L307.04,239.32 L308.25,239.3 L309.46,239.27 L310.67,239.24 L311.87,239.2 L313.08,239.16 L314.29,239.1 L315.5,239.05 L316.7,238.98 L317.91,238.92 L319.12,238.85 L320.33,238.77 L321.53,238.69 L322.74,238.61 L323.95,238.53 L325.15,238.45 L326.36,238.37 L327.57,238.29 L328.78,238.21 L329.98,238.13 L331.19,238.06 L332.4,237.98 L333.61,237.92 L334.81,237.85 L336.02,237.79 L337.23,237.73 L338.43,237.67 L339.64,237.61 L340.85,237.56 L342.06,237.5 L343.26,237.44 L344.47,237.38 L345.68,237.32 L346.89,237.26 L348.09,237.19 L349.3,237.12 L350.51,237.04 L351.72,236.96 L352.92,236.87 L354.13,236.78 L355.34,236.68 L356.54,236.58 L357.75,236.47 L358.96,236.35 L360.17,236.23 L361.37,236.11 L362.58,235.98 L363.79,235.85 L365,235.71 L366.2,235.57 L367.41,235.44 L368.62,235.29 L369.83,235.15 L371.03,235.01 L372.24,234.86 L373.45,234.72 L374.65,234.57 L375.86,234.43 L377.07,234.28 L378.28,234.13 L379.48,233.98 L380.69,233.83 L381.9,233.67 L383.11,233.52 L384.31,232.43 L385.52,230.61 L386.73,227.4 L387.93,223.77 L389.14,220.14 L390.35,215.78 L391.56,211.3 L392.76,206.76 L393.97,202.1 L395.18,197.45 L396.39,192.8 L397.59,188.24 L398.8,183.75 L400.01,179.27 L401.22,175.07 L402.42,171.75 L403.63,168.42 L404.84,165.1 L406.04,161.95 L407.25,158.96 L408.46,155.97 L409.67,152.99 L410.87,150.01 L412.08,148.45 L413.29,147.06 L414.5,145.66 L415.7,144.27 L416.91,142.88 L418.12,141.49 L419.32,140.48 L420.53,139.69 L421.74,138.9 L422.95,138.11 L424.15,137.32 L425.36,136.53 L426.57,135.74 L427.78,134.57 L428.98,133.08 L430.19,131.59 L431.4,130.1 L432.61,128.61 L433.81,126.36 L435.02,124.07 L436.23,121.78 L437.43,119.49 L438.64,117.2 L439.85,116.87 L441.06,118.36 L442.26,119.85 L443.47,121.34 L444.68,122.83 L445.89,125.77 L447.09,130.1 L448.3,134.44 L449.51,138.77 L450.71,143.11 L451.92,146.84 L453.13,150.52 L454.34,154.2 L455.54,157.88 L456.75,161.56 L457.96,165.02 L459.17,168.24 L460.37,171.47 L461.58,174.69 L462.79,177.91 L464,181.11 L465.2,183.87 L466.41,186.62 L467.62,189.38 L468.82,192.13 L470.03,194.88 L471.24,197.63 L472.45,200.37 L473.65,203.12 L474.86,205.86 L476.07,208.6 L477.28,211.19 L478.48,213.25 L479.69,215.3 L480.9,217.36 L482.1,219.42 L483.31,221.48 L484.52,222.61 L485.73,223.49 L486.93,224.37 L488.14,225.26 L489.35,226.14 L490.56,227.04 L491.76,227.93 L492.97,228.42 L494.18,228.72 L495.39,229.02 L496.59,229.32 L497.8,229.62 L499.01,229.92 L500.21,230.21 L501.42,230.5 L502.63,230.79 L503.84,230.91 L505.04,231 L506.25,231.09 L507.46,231.18 L508.67,231.27 L509.87,231.35 L511.08,231.42 L512.29,231.5 L513.49,231.57 L514.7,231.65 L515.91,231.72 L517.12,231.8 L518.32,231.89 L519.53,232 L520.74,232.12 L521.95,232.24 L523.15,232.37 L524.36,232.5 L525.57,232.63 L526.78,232.76 L527.98,232.9 L529.19,233.05 L530.4,233.19 L531.6,233.34 L532.81,233.49 L534.02,233.64 L535.23,233.8 L536.43,233.95 L537.64,234.11 L538.85,234.26 L540.06,234.5 L541.26,234.83 L542.47,235.17 L543.68,235.5 L544.88,235.83 L546.09,236.15 L547.3,236.48 L548.51,236.8 L549.71,237.13 L550.92,237.45 L552.13,237.77 L553.34,238.08 L554.54,238.4 L555.75,238.72 L556.96,239.03 L558.17,239.1 L558.17,240.6 Z" fill="rgba(255,0,0,0.72)" stroke="none" stroke-width="1" />
<path d="M292.56,239.4 L293.76,239.39 L294.97,239.39 L296.18,239.39 L297.39,239.38 L298.59,239.38 L299.8,239.38 L301.01,239.38 L302.22,239.37 L303.42,239.36 L304.63,239.36 L305.84,239.34 L307.04,239.32 L308.25,239.3 L309.46,239.27 L310.67,239.24 L311.87,239.2 L313.08,239.16 L314.29,239.1 L315.5,239.05 L316.7,238.98 L317.91,238.92 L319.12,238.85 L320.33,238.77 L321.53,238.69 L322.74,238.61 L323.95,238.53 L325.15,238.45 L326.36,238.37 L327.57,238.29 L328.78,238.21 L329.98,238.13 L331.19,238.06 L332.4,237.98 L333.61,237.92 L334.81,237.85 L336.02,237.79 L337.23,237.73 L338.43,237.67 L339.64,237.61 L340.85,237.56 L342.06,237.5 L343.26,237.44 L344.47,237.38 L345.68,237.32 L346.89,237.26 L348.09,237.19 L349.3,237.12 L350.51,237.04 L351.72,236.96 L352.92,236.87 L354.13,236.78 L355.34,236.68 L356.54,236.58 L357.75,236.47 L358.96,236.35 L360.17,236.23 L361.37,236.11 L362.58,235.98 L363.79,235.85 L365,235.71 L366.2,235.57 L367.41,235.44 L368.62,235.29 L369.83,235.15 L371.03,235.01 L372.24,234.86 L373.45,234.72 L374.65,234.57 L375.86,234.43 L377.07,234.28 L378.28,234.13 L379.48,233.98 L380.69,233.83 L381.9,233.67 L383.11,233.52 L384.31,232.43 L385.52,230.61 L386.73,227.4 L387.93,223.77 L389.14,220.14 L390.35,215.78 L391.56,211.3 L392.76,206.76 L393.97,202.1 L395.18,197.45 L396.39,192.8 L397.59,188.24 L398.8,183.75 L400.01,179.27 L401.22,175.07 L402.42,171.75 L403.63,168.42 L404.84,165.1 L406.04,161.95 L407.25,158.96 L408.46,155.97 L409.67,152.99 L410.87,150.01 L412.08,148.45 L413.29,147.06 L414.5,145.66 L415.7,144.27 L416.91,142.88 L418.12,141.49 L419.32,140.48 L420.53,139.69 L421.74,138.9 L422.95,138.11 L424.15,137.32 L425.36,136.53 L426.57,135.74 L427.78,134.57 L428.98,133.08 L430.19,131.59 L431.4,130.1 L432.61,128.61 L433.81,126.36 L435.02,124.07 L436.23,121.78 L437.43,119.49 L438.64,117.2 L439.85,116.87 L441.06,118.36 L442.26,119.85 L443.47,121.34 L444.68,122.83 L445.89,125.77 L447.09,130.1 L448.3,134.44 L449.51,138.77 L450.71,143.11 L451.92,146.84 L453.13,150.52 L454.34,154.2 L455.54,157.88 L456.75,161.56 L457.96,165.02 L459.17,168.24 L460.37,171.47 L461.58,174.69 L462.79,177.91 L464,181.11 L465.2,183.87 L466.41,186.62 L467.62,189.38 L468.82,192.13 L470.03,194.88 L471.24,197.63 L472.45,200.37 L473.65,203.12 L474.86,205.86 L476.07,208.6 L477.28,211.19 L478.48,213.25 L479.69,215.3 L480.9,217.36 L482.1,219.42 L483.31,221.48 L484.52,222.61 L485.73,223.49 L486.93,224.37 L488.14,225.26 L489.35,226.14 L490.56,227.04 L491.76,227.93 L492.97,228.42 L494.18,228.72 L495.39,229.02 L496.59,229.32 L497.8,229.62 L499.01,229.92 L500.21,230.21 L501.42,230.5 L502.63,230.79 L503.84,230.91 L505.04,231 L506.25,231.09 L507.46,231.18 L508.67,231.27 L509.87,231.35 L511.08,231.42 L512.29,231.5 L513.49,231.57 L514.7,231.65 L515.91,231.72 L517.12,231.8 L518.32,231.89 L519.53,232 L520.74,232.12 L521.95,232.24 L523.15,232.37 L524.36,232.5 L525.57,232.63 L526.78,232.76 L527.98,232.9 L529.19,233.05 L530.4,233.19 L531.6,233.34 L532.81,233.49 L534.02,233.64 L535.23,233.8 L536.43,233.95 L537.64,234.11 L538.85,234.26 L540.06,234.5 L541.26,234.83 L542.47,235.17 L543.68,235.5 L544.88,235.83 L546.09,236.15 L547.3,236.48 L548.51,236.8 L549.71,237.13 L550.92,237.45 L552.13,237.77 L553.34,238.08 L554.54,238.4 L555.75,238.72 L556.96,239.03 L558.17,239.1" fill="none" stroke="#111" stroke-width="0.75" />
<line x1="56.2" y1="240.8" x2="56.2" y2="243.8" stroke="#000" stroke-width="1.2" />
<line x1="111.3" y1="240.8" x2="111.3" y2="243.8" stroke="#000" stroke-width="1.2" />
<line x1="166.4" y1="240.8" x2="166.4" y2="243.8" stroke="#000" stroke-width="1.2" />
<line x1="221.5" y1="240.8" x2="221.5" y2="243.8" stroke="#000" stroke-width="1.2" />
<line x1="276.6" y1="240.8" x2="276.6" y2="243.8" stroke="#000" stroke-width="1.2" />
<line x1="317.6" y1="240.8" x2="317.6" y2="243.8" stroke="#000" stroke-width="1.2" />
<line x1="368" y1="240.8" x2="368" y2="243.8" stroke="#000" stroke-width="1.2" />
<line x1="418.4" y1="240.8" x2="418.4" y2="243.8" stroke="#000" stroke-width="1.2" />
<line x1="468.8" y1="240.8" x2="468.8" y2="243.8" stroke="#000" stroke-width="1.2" />
<line x1="519.2" y1="240.8" x2="519.2" y2="243.8" stroke="#000" stroke-width="1.2" />
<line x1="569.6" y1="240.8" x2="569.6" y2="243.8" stroke="#000" stroke-width="1.2" />
<path d="M125,134 L210,24" fill="none" stroke="#111" stroke-width="1.2" stroke-dasharray="6 7"/>
<path d="M452,135 L531,37" fill="none" stroke="#111" stroke-width="1.2" stroke-dasharray="6 7"/>
<path d="M204.5,17.3 L193.8,32 L183.3,47.7 L179.3,53.6 L175.5,57.2 L172.3,60.3 L164.5,70.7 L151.9,87.5 L141.4,100 L130.9,112.6 L120.5,123.6 L111.5,133.6" fill="none" stroke="#000" stroke-width="1.6" stroke-linejoin="round"/>
<path d="M110.4,135.8 L112,129.9 L116.3,134 Z" fill="#000" stroke="#000" stroke-width="0.6" />
<path d="M539.8,21.9 L535.4,20.2 L530.1,19.6 L524.9,21.4 L519.6,24.9 L514.3,31 L509.1,38.9 L503.8,46.8 L498.6,54.7 L493.3,62.6 L488.1,69.6 L482.8,76.6 L477.6,82.7 L472.3,87.1 L467,90.6 L460,91.5 L455.7,92.3 L452.2,95 L447.8,101.5 L444.6,106.6 L442.2,109.3 L438.8,111.2 L434.5,113" fill="none" stroke="#000" stroke-width="1.4" stroke-linejoin="round" stroke-linecap="round"/>
<path d="M431,114.5 L434.4,108.8 L437.9,114.4 Z" fill="#000" stroke="#000" stroke-width="0.6" />
<rect x="113.5" y="28" width="59" height="24" fill="#8a4797" stroke="#3b2a40" stroke-width="1" />
<text x="129.6" y="46.6" font-size="20.6" font-weight="normal" fill="#fff" text-anchor="start" textLength="23.3" lengthAdjust="spacingAndGlyphs" >YZ</text>
<rect x="415" y="28.5" width="54.3" height="22.5" fill="#8a4797" stroke="#3b2a40" stroke-width="1" />
<text x="428.3" y="46.3" font-size="20.6" font-weight="normal" fill="#fff" text-anchor="start" textLength="24" lengthAdjust="spacingAndGlyphs" >XZ</text>
<text x="64" y="37.4" font-size="25.4" font-weight="normal" fill="#000" text-anchor="start" textLength="14.9" lengthAdjust="spacingAndGlyphs" stroke="#000" stroke-width="1.5">A</text>
<text x="388" y="37.3" font-size="25.4" font-weight="normal" fill="#000" text-anchor="start" textLength="13.3" lengthAdjust="spacingAndGlyphs" stroke="#000" stroke-width="1.5">B</text>
<text x="35.2" y="260.7" font-size="20.4" font-weight="normal" fill="#000" text-anchor="start" textLength="43.1" lengthAdjust="spacingAndGlyphs" >1320</text>
<text x="146.3" y="260.7" font-size="20.4" font-weight="normal" fill="#000" text-anchor="start" textLength="42.8" lengthAdjust="spacingAndGlyphs" >1340</text>
<text x="237.5" y="260.7" font-size="20.4" font-weight="normal" fill="#000" text-anchor="start" textLength="42.8" lengthAdjust="spacingAndGlyphs" >1360</text>
<text x="295.7" y="260.7" font-size="20.4" font-weight="normal" fill="#000" text-anchor="start" textLength="42.4" lengthAdjust="spacingAndGlyphs" >1420</text>
<text x="396.8" y="260.7" font-size="20.4" font-weight="normal" fill="#000" text-anchor="start" textLength="42.7" lengthAdjust="spacingAndGlyphs" >1440</text>
<text x="496.5" y="260.7" font-size="20.4" font-weight="normal" fill="#000" text-anchor="start" textLength="41.6" lengthAdjust="spacingAndGlyphs" >1460</text>
<text x="281.4" y="283" font-size="19" font-weight="normal" fill="#000" text-anchor="start" textLength="152" lengthAdjust="spacingAndGlyphs" >Frequency (MHz)</text>
<text x="0" y="0" font-size="20.3" font-weight="normal" fill="#000" text-anchor="start" textLength="155" lengthAdjust="spacingAndGlyphs" transform="translate(680.2,153.4) rotate(-90)">Signal (arb. units)</text>
<line x1="644.03" y1="144.61" x2="648.03" y2="144.61" stroke="#000" stroke-width="1.3" />
<line x1="620.38" y1="174.81" x2="624.38" y2="174.81" stroke="#000" stroke-width="1.3" />
<line x1="596.72" y1="205.01" x2="600.72" y2="205.01" stroke="#000" stroke-width="1.3" />
<line x1="573.07" y1="235.21" x2="577.07" y2="235.21" stroke="#000" stroke-width="1.3" />
<line x1="353.62" y1="144.61" x2="357.12" y2="144.61" stroke="#000" stroke-width="1.3" />
<line x1="329.88" y1="174.81" x2="333.38" y2="174.81" stroke="#000" stroke-width="1.3" />
<line x1="306.14" y1="205.01" x2="309.64" y2="205.01" stroke="#000" stroke-width="1.3" />
<line x1="282.4" y1="235.21" x2="285.9" y2="235.21" stroke="#000" stroke-width="1.3" />
<text x="652" y="152" font-size="19.6" font-weight="normal" fill="#000" text-anchor="start" >2</text>
<text x="628.8" y="182.6" font-size="19.6" font-weight="normal" fill="#000" text-anchor="start" >4</text>
<text x="604.8" y="211.8" font-size="19.6" font-weight="normal" fill="#000" text-anchor="start" >6</text>
<text x="581" y="243.5" font-size="19.6" font-weight="normal" fill="#000" text-anchor="start" >8</text>
<text x="0" y="0" font-size="18.4" font-weight="normal" fill="#000" text-anchor="start" textLength="119" lengthAdjust="spacingAndGlyphs" transform="translate(594.2,270.6) rotate(-52)">Pressure (Bar)</text>
<text x="4.7" y="282.2" font-size="25.6" font-weight="normal" fill="#000" text-anchor="start" textLength="15" lengthAdjust="spacingAndGlyphs" stroke="#000" stroke-width="1.3">C</text>
<text x="449" y="281.9" font-size="20.8" font-weight="normal" fill="#000" text-anchor="start" textLength="17.6" lengthAdjust="spacingAndGlyphs" stroke="#000" stroke-width="1.2">D</text>
<text x="11" y="520.3" font-size="26.4" font-weight="normal" fill="#000" text-anchor="start" textLength="12.6" lengthAdjust="spacingAndGlyphs" stroke="#000" stroke-width="1.5">E</text>
<circle cx="105.6" cy="310.5" r="3.1" fill="#7db88e" stroke="#236e3a" stroke-width="1.5"/>
<circle cx="92" cy="335.2" r="3.1" fill="#7db88e" stroke="#236e3a" stroke-width="1.5"/>
<circle cx="108.1" cy="327.1" r="3.1" fill="#7db88e" stroke="#236e3a" stroke-width="1.5"/>
<circle cx="109.7" cy="332.3" r="3.1" fill="#7db88e" stroke="#236e3a" stroke-width="1.5"/>
<circle cx="103.7" cy="336.8" r="3.1" fill="#7db88e" stroke="#236e3a" stroke-width="1.5"/>
<circle cx="102.1" cy="338.7" r="3.1" fill="#7db88e" stroke="#236e3a" stroke-width="1.5"/>
<circle cx="110.5" cy="335.8" r="3.1" fill="#7db88e" stroke="#236e3a" stroke-width="1.5"/>
<circle cx="105.6" cy="341.6" r="3.1" fill="#7db88e" stroke="#236e3a" stroke-width="1.5"/>
<circle cx="111.6" cy="339.7" r="3.1" fill="#7db88e" stroke="#236e3a" stroke-width="1.5"/>
<circle cx="113.6" cy="343" r="3.1" fill="#7db88e" stroke="#236e3a" stroke-width="1.5"/>
<circle cx="103.5" cy="347.9" r="3.1" fill="#7db88e" stroke="#236e3a" stroke-width="1.5"/>
<circle cx="115.1" cy="354.7" r="3.1" fill="#7db88e" stroke="#236e3a" stroke-width="1.5"/>
<circle cx="113.6" cy="357.2" r="3.1" fill="#7db88e" stroke="#236e3a" stroke-width="1.5"/>
<circle cx="116.7" cy="360.5" r="3.1" fill="#7db88e" stroke="#236e3a" stroke-width="1.5"/>
<circle cx="119" cy="361.5" r="3.1" fill="#7db88e" stroke="#236e3a" stroke-width="1.5"/>
<circle cx="121.9" cy="364.6" r="3.1" fill="#7db88e" stroke="#236e3a" stroke-width="1.5"/>
<circle cx="123.9" cy="366.1" r="3.1" fill="#7db88e" stroke="#236e3a" stroke-width="1.5"/>
<circle cx="125.2" cy="367.7" r="3.1" fill="#7db88e" stroke="#236e3a" stroke-width="1.5"/>
<circle cx="128.5" cy="378.8" r="3.1" fill="#7db88e" stroke="#236e3a" stroke-width="1.5"/>
<circle cx="131.6" cy="380.5" r="3.1" fill="#7db88e" stroke="#236e3a" stroke-width="1.5"/>
<circle cx="136.1" cy="383.4" r="3.1" fill="#7db88e" stroke="#236e3a" stroke-width="1.5"/>
<circle cx="147.2" cy="382.8" r="3.1" fill="#7db88e" stroke="#236e3a" stroke-width="1.5"/>
<circle cx="144.7" cy="387.9" r="3.1" fill="#7db88e" stroke="#236e3a" stroke-width="1.5"/>
<circle cx="151.5" cy="391.2" r="3.1" fill="#7db88e" stroke="#236e3a" stroke-width="1.5"/>
<circle cx="155.9" cy="385.6" r="3.1" fill="#7db88e" stroke="#236e3a" stroke-width="1.5"/>
<circle cx="159.8" cy="390.2" r="3.1" fill="#7db88e" stroke="#236e3a" stroke-width="1.5"/>
<circle cx="169.9" cy="392.2" r="3.1" fill="#7db88e" stroke="#236e3a" stroke-width="1.5"/>
<circle cx="182.4" cy="403.8" r="3.1" fill="#7db88e" stroke="#236e3a" stroke-width="1.5"/>
<circle cx="209.8" cy="410.6" r="3.1" fill="#7db88e" stroke="#236e3a" stroke-width="1.5"/>
<circle cx="219.7" cy="419.8" r="3.1" fill="#7db88e" stroke="#236e3a" stroke-width="1.5"/>
<circle cx="235.2" cy="434.3" r="3.1" fill="#7db88e" stroke="#236e3a" stroke-width="1.5"/>
<circle cx="271.1" cy="428.6" r="3.1" fill="#7db88e" stroke="#236e3a" stroke-width="1.5"/>
<circle cx="293.7" cy="445.8" r="3.1" fill="#7db88e" stroke="#236e3a" stroke-width="1.5"/>
<circle cx="321.8" cy="478.6" r="3.1" fill="#7db88e" stroke="#236e3a" stroke-width="1.5"/>
<line x1="103.5" y1="329.4" x2="135.9" y2="388.7" stroke="#ff0000" stroke-width="1.8" />
<line x1="151.1" y1="386" x2="322" y2="466.7" stroke="#ff0000" stroke-width="1.8" />
<rect x="87.4" y="297.6" width="248.8" height="195.2" fill="none" stroke="#000" stroke-width="1.6" />
<line x1="83.9" y1="314.8" x2="87.4" y2="314.8" stroke="#000" stroke-width="1.3" />
<line x1="83.9" y1="358.2" x2="87.4" y2="358.2" stroke="#000" stroke-width="1.3" />
<line x1="83.9" y1="401.8" x2="87.4" y2="401.8" stroke="#000" stroke-width="1.3" />
<line x1="83.9" y1="445.3" x2="87.4" y2="445.3" stroke="#000" stroke-width="1.3" />
<line x1="89.2" y1="492.8" x2="89.2" y2="497.3" stroke="#000" stroke-width="1.3" />
<line x1="122.5" y1="492.8" x2="122.5" y2="497.3" stroke="#000" stroke-width="1.3" />
<line x1="155.8" y1="492.8" x2="155.8" y2="497.3" stroke="#000" stroke-width="1.3" />
<line x1="189.1" y1="492.8" x2="189.1" y2="497.3" stroke="#000" stroke-width="1.3" />
<line x1="222.4" y1="492.8" x2="222.4" y2="497.3" stroke="#000" stroke-width="1.3" />
<line x1="255.7" y1="492.8" x2="255.7" y2="497.3" stroke="#000" stroke-width="1.3" />
<line x1="289" y1="492.8" x2="289" y2="497.3" stroke="#000" stroke-width="1.3" />
<line x1="322.3" y1="492.8" x2="322.3" y2="497.3" stroke="#000" stroke-width="1.3" />
<text x="21.8" y="320.8" font-size="20.4" font-weight="normal" fill="#000" text-anchor="start" textLength="57.6" lengthAdjust="spacingAndGlyphs" >1335.0</text>
<text x="21.8" y="408.2" font-size="20.4" font-weight="normal" fill="#000" text-anchor="start" textLength="57.6" lengthAdjust="spacingAndGlyphs" >1333.0</text>
<text x="0" y="0" font-size="18.4" font-weight="normal" fill="#000" text-anchor="start" textLength="150.5" lengthAdjust="spacingAndGlyphs" transform="translate(17.8,467.5) rotate(-90)">Frequency (MHz)</text>
<text x="122.5" y="515.6" font-size="20.2" font-weight="normal" fill="#000" text-anchor="middle" >2</text>
<text x="189" y="515.6" font-size="20.2" font-weight="normal" fill="#000" text-anchor="middle" >4</text>
<text x="255.6" y="515.6" font-size="20.2" font-weight="normal" fill="#000" text-anchor="middle" >6</text>
<text x="322.2" y="515.6" font-size="20.2" font-weight="normal" fill="#000" text-anchor="middle" >8</text>
<rect x="115.8" y="462.7" width="59.8" height="24.9" fill="#8a4797" stroke="#2e2e2e" stroke-width="1" />
<text x="124.5" y="482.6" font-size="20.6" font-weight="normal" fill="#fff" text-anchor="start" textLength="43.5" lengthAdjust="spacingAndGlyphs" >(i) YZ</text>
<circle cx="401.4" cy="307.9" r="3.4" fill="#ecb487" stroke="#e8872a" stroke-width="1.5"/>
<circle cx="416.7" cy="320.1" r="3.4" fill="#ecb487" stroke="#e8872a" stroke-width="1.5"/>
<circle cx="420.2" cy="324.2" r="3.4" fill="#ecb487" stroke="#e8872a" stroke-width="1.5"/>
<circle cx="413.8" cy="334.3" r="3.4" fill="#ecb487" stroke="#e8872a" stroke-width="1.5"/>
<circle cx="416.4" cy="337.6" r="3.4" fill="#ecb487" stroke="#e8872a" stroke-width="1.5"/>
<circle cx="414.8" cy="344.4" r="3.4" fill="#ecb487" stroke="#e8872a" stroke-width="1.5"/>
<circle cx="418.3" cy="342.1" r="3.4" fill="#ecb487" stroke="#e8872a" stroke-width="1.5"/>
<circle cx="422.6" cy="342.1" r="3.4" fill="#ecb487" stroke="#e8872a" stroke-width="1.5"/>
<circle cx="419.5" cy="347.9" r="3.4" fill="#ecb487" stroke="#e8872a" stroke-width="1.5"/>
<circle cx="423.2" cy="357" r="3.4" fill="#ecb487" stroke="#e8872a" stroke-width="1.5"/>
<circle cx="425.5" cy="359" r="3.4" fill="#ecb487" stroke="#e8872a" stroke-width="1.5"/>
<circle cx="426.1" cy="367.3" r="3.4" fill="#ecb487" stroke="#e8872a" stroke-width="1.5"/>
<circle cx="428" cy="366.8" r="3.4" fill="#ecb487" stroke="#e8872a" stroke-width="1.5"/>
<circle cx="431.3" cy="371.6" r="3.4" fill="#ecb487" stroke="#e8872a" stroke-width="1.5"/>
<circle cx="430" cy="374" r="3.4" fill="#ecb487" stroke="#e8872a" stroke-width="1.5"/>
<circle cx="433.5" cy="378.4" r="3.4" fill="#ecb487" stroke="#e8872a" stroke-width="1.5"/>
<circle cx="436.8" cy="381.3" r="3.4" fill="#ecb487" stroke="#e8872a" stroke-width="1.5"/>
<circle cx="440.6" cy="385.6" r="3.4" fill="#ecb487" stroke="#e8872a" stroke-width="1.5"/>
<circle cx="441.6" cy="392" r="3.4" fill="#ecb487" stroke="#e8872a" stroke-width="1.5"/>
<circle cx="445.5" cy="393" r="3.4" fill="#ecb487" stroke="#e8872a" stroke-width="1.5"/>
<circle cx="450.4" cy="392.6" r="3.4" fill="#ecb487" stroke="#e8872a" stroke-width="1.5"/>
<circle cx="453.3" cy="396.5" r="3.4" fill="#ecb487" stroke="#e8872a" stroke-width="1.5"/>
<circle cx="460.1" cy="398.8" r="3.4" fill="#ecb487" stroke="#e8872a" stroke-width="1.5"/>
<circle cx="464" cy="398.4" r="3.4" fill="#ecb487" stroke="#e8872a" stroke-width="1.5"/>
<circle cx="467.9" cy="398.8" r="3.4" fill="#ecb487" stroke="#e8872a" stroke-width="1.5"/>
<circle cx="472.7" cy="401.2" r="3.4" fill="#ecb487" stroke="#e8872a" stroke-width="1.5"/>
<circle cx="477.2" cy="398.8" r="3.4" fill="#ecb487" stroke="#e8872a" stroke-width="1.5"/>
<circle cx="483.4" cy="401.2" r="3.4" fill="#ecb487" stroke="#e8872a" stroke-width="1.5"/>
<circle cx="488.3" cy="406.2" r="3.4" fill="#ecb487" stroke="#e8872a" stroke-width="1.5"/>
<circle cx="495.4" cy="411.4" r="3.4" fill="#ecb487" stroke="#e8872a" stroke-width="1.5"/>
<circle cx="502.5" cy="424.6" r="3.4" fill="#ecb487" stroke="#e8872a" stroke-width="1.5"/>
<circle cx="512.6" cy="427" r="3.4" fill="#ecb487" stroke="#e8872a" stroke-width="1.5"/>
<circle cx="521.8" cy="431.3" r="3.4" fill="#ecb487" stroke="#e8872a" stroke-width="1.5"/>
<circle cx="532.2" cy="429.8" r="3.4" fill="#ecb487" stroke="#e8872a" stroke-width="1.5"/>
<circle cx="543.6" cy="435" r="3.4" fill="#ecb487" stroke="#e8872a" stroke-width="1.5"/>
<circle cx="560.7" cy="446" r="3.4" fill="#ecb487" stroke="#e8872a" stroke-width="1.5"/>
<circle cx="579.7" cy="456.4" r="3.4" fill="#ecb487" stroke="#e8872a" stroke-width="1.5"/>
<circle cx="600.9" cy="453.4" r="3.4" fill="#ecb487" stroke="#e8872a" stroke-width="1.5"/>
<circle cx="626" cy="464.1" r="3.4" fill="#ecb487" stroke="#e8872a" stroke-width="1.5"/>
<circle cx="657.3" cy="487.4" r="3.4" fill="#ecb487" stroke="#e8872a" stroke-width="1.5"/>
<line x1="401.7" y1="304.3" x2="443.2" y2="395.9" stroke="#ff0000" stroke-width="1.8" />
<line x1="483.2" y1="409.2" x2="657.6" y2="484.3" stroke="#ff0000" stroke-width="1.8" />
<rect x="390.4" y="297.4" width="274.6" height="195.6" fill="none" stroke="#000" stroke-width="1.6" />
<line x1="385.9" y1="316.4" x2="390.4" y2="316.4" stroke="#000" stroke-width="1.3" />
<line x1="385.9" y1="362" x2="390.4" y2="362" stroke="#000" stroke-width="1.3" />
<line x1="385.9" y1="407.6" x2="390.4" y2="407.6" stroke="#000" stroke-width="1.3" />
<line x1="385.9" y1="453.3" x2="390.4" y2="453.3" stroke="#000" stroke-width="1.3" />
<line x1="435" y1="493" x2="435" y2="497.5" stroke="#000" stroke-width="1.3" />
<line x1="472.1" y1="493" x2="472.1" y2="497.5" stroke="#000" stroke-width="1.3" />
<line x1="509.2" y1="493" x2="509.2" y2="497.5" stroke="#000" stroke-width="1.3" />
<line x1="546.3" y1="493" x2="546.3" y2="497.5" stroke="#000" stroke-width="1.3" />
<line x1="583.4" y1="493" x2="583.4" y2="497.5" stroke="#000" stroke-width="1.3" />
<line x1="620.5" y1="493" x2="620.5" y2="497.5" stroke="#000" stroke-width="1.3" />
<line x1="657.6" y1="493" x2="657.6" y2="497.5" stroke="#000" stroke-width="1.3" />
<text x="340.8" y="322.3" font-size="20.4" font-weight="normal" fill="#000" text-anchor="start" textLength="41.8" lengthAdjust="spacingAndGlyphs" >1445</text>
<text x="340.8" y="413.6" font-size="20.4" font-weight="normal" fill="#000" text-anchor="start" textLength="41.8" lengthAdjust="spacingAndGlyphs" >1443</text>
<text x="435.4" y="515.9" font-size="20.2" font-weight="normal" fill="#000" text-anchor="middle" >2</text>
<text x="509.6" y="515.9" font-size="20.2" font-weight="normal" fill="#000" text-anchor="middle" >4</text>
<text x="583.8" y="515.9" font-size="20.2" font-weight="normal" fill="#000" text-anchor="middle" >6</text>
<text x="657.8" y="515.9" font-size="20.2" font-weight="normal" fill="#000" text-anchor="middle" >8</text>
<rect x="414.9" y="463.4" width="59.6" height="25" fill="#8a4797" stroke="#2e2e2e" stroke-width="1" />
<text x="419.2" y="482.7" font-size="20.6" font-weight="normal" fill="#fff" text-anchor="start" textLength="50.3" lengthAdjust="spacingAndGlyphs" >(ii) XZ</text>
<text x="296.5" y="531.2" font-size="19" font-weight="normal" fill="#000" text-anchor="start" textLength="120.3" lengthAdjust="spacingAndGlyphs" >Pressure (Bar)</text>
<rect x="534.9" y="283.6" width="143" height="105.7" fill="#fff" stroke="none" stroke-width="1" />
<clipPath id="cpD"><rect x="534.9" y="283.6" width="143.0" height="105.69999999999999"/></clipPath>
<g clip-path="url(#cpD)">
<circle cx="536.7" cy="292" r="3.2" fill="#8080ff" stroke="#0000ff" stroke-width="1.6"/>
<circle cx="544.9" cy="292.5" r="3.2" fill="#8080ff" stroke="#0000ff" stroke-width="1.6"/>
<circle cx="546.7" cy="294.4" r="3.2" fill="#8080ff" stroke="#0000ff" stroke-width="1.6"/>
<circle cx="542.5" cy="300.7" r="3.2" fill="#8080ff" stroke="#0000ff" stroke-width="1.6"/>
<circle cx="548.4" cy="302.1" r="3.2" fill="#8080ff" stroke="#0000ff" stroke-width="1.6"/>
<circle cx="543.7" cy="306" r="3.2" fill="#8080ff" stroke="#0000ff" stroke-width="1.6"/>
<circle cx="550.2" cy="307.9" r="3.2" fill="#8080ff" stroke="#0000ff" stroke-width="1.6"/>
<circle cx="549.1" cy="314.2" r="3.2" fill="#8080ff" stroke="#0000ff" stroke-width="1.6"/>
<circle cx="551.9" cy="316.5" r="3.2" fill="#8080ff" stroke="#0000ff" stroke-width="1.6"/>
<circle cx="554.2" cy="320" r="3.2" fill="#8080ff" stroke="#0000ff" stroke-width="1.6"/>
<circle cx="556.5" cy="322.4" r="3.2" fill="#8080ff" stroke="#0000ff" stroke-width="1.6"/>
<circle cx="557.7" cy="327" r="3.2" fill="#8080ff" stroke="#0000ff" stroke-width="1.6"/>
<circle cx="560" cy="328.2" r="3.2" fill="#8080ff" stroke="#0000ff" stroke-width="1.6"/>
<circle cx="563.1" cy="329.4" r="3.2" fill="#8080ff" stroke="#0000ff" stroke-width="1.6"/>
<circle cx="568.2" cy="332.4" r="3.2" fill="#8080ff" stroke="#0000ff" stroke-width="1.6"/>
<circle cx="570.5" cy="331.3" r="3.2" fill="#8080ff" stroke="#0000ff" stroke-width="1.6"/>
<circle cx="572.9" cy="333.6" r="3.2" fill="#8080ff" stroke="#0000ff" stroke-width="1.6"/>
<circle cx="575.9" cy="332.2" r="3.2" fill="#8080ff" stroke="#0000ff" stroke-width="1.6"/>
<circle cx="578.3" cy="333.1" r="3.2" fill="#8080ff" stroke="#0000ff" stroke-width="1.6"/>
<circle cx="584.1" cy="335.5" r="3.2" fill="#8080ff" stroke="#0000ff" stroke-width="1.6"/>
<circle cx="591.6" cy="344.6" r="3.2" fill="#8080ff" stroke="#0000ff" stroke-width="1.6"/>
<circle cx="607.9" cy="347.6" r="3.2" fill="#8080ff" stroke="#0000ff" stroke-width="1.6"/>
<circle cx="613.8" cy="351.8" r="3.2" fill="#8080ff" stroke="#0000ff" stroke-width="1.6"/>
<circle cx="623.1" cy="359.3" r="3.2" fill="#8080ff" stroke="#0000ff" stroke-width="1.6"/>
<circle cx="644.6" cy="359.8" r="3.2" fill="#8080ff" stroke="#0000ff" stroke-width="1.6"/>
<circle cx="658.1" cy="367.5" r="3.2" fill="#8080ff" stroke="#0000ff" stroke-width="1.6"/>
<circle cx="675.2" cy="384.3" r="3.2" fill="#8080ff" stroke="#0000ff" stroke-width="1.6"/>
<line x1="536.2" y1="285.7" x2="556.5" y2="321.2" stroke="#ff0000" stroke-width="1.8" />
<line x1="575.2" y1="333.4" x2="678" y2="380.1" stroke="#ff0000" stroke-width="1.8" />
</g>
<rect x="534.9" y="283.6" width="143" height="105.7" fill="none" stroke="#000" stroke-width="1.6" />
<line x1="531.4" y1="288.5" x2="534.9" y2="288.5" stroke="#000" stroke-width="1.3" />
<line x1="531.4" y1="314" x2="534.9" y2="314" stroke="#000" stroke-width="1.3" />
<line x1="531.4" y1="339.5" x2="534.9" y2="339.5" stroke="#000" stroke-width="1.3" />
<line x1="531.4" y1="365" x2="534.9" y2="365" stroke="#000" stroke-width="1.3" />
<line x1="534.9" y1="389.3" x2="534.9" y2="393.3" stroke="#000" stroke-width="1.3" />
<line x1="554.8" y1="389.3" x2="554.8" y2="393.3" stroke="#000" stroke-width="1.3" />
<line x1="574.7" y1="389.3" x2="574.7" y2="393.3" stroke="#000" stroke-width="1.3" />
<line x1="594.6" y1="389.3" x2="594.6" y2="393.3" stroke="#000" stroke-width="1.3" />
<line x1="614.5" y1="389.3" x2="614.5" y2="393.3" stroke="#000" stroke-width="1.3" />
<line x1="634.4" y1="389.3" x2="634.4" y2="393.3" stroke="#000" stroke-width="1.3" />
<line x1="654.3" y1="389.3" x2="654.3" y2="393.3" stroke="#000" stroke-width="1.3" />
<line x1="674.2" y1="389.3" x2="674.2" y2="393.3" stroke="#000" stroke-width="1.3" />
<rect x="448.4" y="288.2" width="19.4" height="78.5" fill="#fff" stroke="#333" stroke-width="1" />
<text x="0" y="0" font-size="18.3" font-weight="normal" fill="#000" text-anchor="start" textLength="74.5" lengthAdjust="spacingAndGlyphs" transform="translate(464.3,364.8) rotate(-90)">D (MHz)</text>
<text x="471.8" y="295.8" font-size="20.6" font-weight="normal" fill="#000" text-anchor="start" textLength="57.5" lengthAdjust="spacingAndGlyphs" >1390.0</text>
<text x="471.8" y="346.2" font-size="20.6" font-weight="normal" fill="#000" text-anchor="start" textLength="57.5" lengthAdjust="spacingAndGlyphs" >1388.0</text>
<text x="553.8" y="407.8" font-size="21.5" font-weight="normal" fill="#000" text-anchor="middle" >2</text>
<text x="594.4" y="407.8" font-size="21.5" font-weight="normal" fill="#000" text-anchor="middle" >4</text>
<text x="634.2" y="407.8" font-size="21.5" font-weight="normal" fill="#000" text-anchor="middle" >6</text>
<text x="673.8" y="407.8" font-size="21.5" font-weight="normal" fill="#000" text-anchor="middle" >8</text>
<rect x="551.4" y="412.4" width="125.4" height="24.5" fill="#fff" stroke="#333" stroke-width="1" />
<text x="553.9" y="431.3" font-size="19.3" font-weight="normal" fill="#000" text-anchor="start" textLength="120.5" lengthAdjust="spacingAndGlyphs" >Pressure (Bar)</text>
<clipPath id="cpE1"><rect x="88.0" y="540.0" width="272.3" height="85.0"/></clipPath>
<g clip-path="url(#cpE1)">
<circle cx="90.3" cy="576.8" r="2.9" fill="#7db88e" stroke="#236e3a" stroke-width="1.4"/>
<circle cx="90.7" cy="581.5" r="2.9" fill="#7db88e" stroke="#236e3a" stroke-width="1.4"/>
<circle cx="93.5" cy="575.8" r="2.9" fill="#7db88e" stroke="#236e3a" stroke-width="1.4"/>
<circle cx="96.4" cy="574.9" r="2.9" fill="#7db88e" stroke="#236e3a" stroke-width="1.4"/>
<circle cx="99.2" cy="575.4" r="2.9" fill="#7db88e" stroke="#236e3a" stroke-width="1.4"/>
<circle cx="101.7" cy="579" r="2.9" fill="#7db88e" stroke="#236e3a" stroke-width="1.4"/>
<circle cx="103" cy="574.9" r="2.9" fill="#7db88e" stroke="#236e3a" stroke-width="1.4"/>
<circle cx="106.4" cy="572" r="2.9" fill="#7db88e" stroke="#236e3a" stroke-width="1.4"/>
<circle cx="108.7" cy="578.3" r="2.9" fill="#7db88e" stroke="#236e3a" stroke-width="1.4"/>
<circle cx="111.6" cy="575.8" r="2.9" fill="#7db88e" stroke="#236e3a" stroke-width="1.4"/>
<circle cx="114.4" cy="579.6" r="2.9" fill="#7db88e" stroke="#236e3a" stroke-width="1.4"/>
<circle cx="118.2" cy="575.8" r="2.9" fill="#7db88e" stroke="#236e3a" stroke-width="1.4"/>
<circle cx="119.7" cy="582.1" r="2.9" fill="#7db88e" stroke="#236e3a" stroke-width="1.4"/>
<circle cx="124.9" cy="580.2" r="2.9" fill="#7db88e" stroke="#236e3a" stroke-width="1.4"/>
<circle cx="129.6" cy="580" r="2.9" fill="#7db88e" stroke="#236e3a" stroke-width="1.4"/>
<circle cx="132.1" cy="580.5" r="2.9" fill="#7db88e" stroke="#236e3a" stroke-width="1.4"/>
<circle cx="135.3" cy="577.7" r="2.9" fill="#7db88e" stroke="#236e3a" stroke-width="1.4"/>
<circle cx="139.7" cy="580.5" r="2.9" fill="#7db88e" stroke="#236e3a" stroke-width="1.4"/>
<circle cx="143.5" cy="584.7" r="2.9" fill="#7db88e" stroke="#236e3a" stroke-width="1.4"/>
<circle cx="148.2" cy="580.9" r="2.9" fill="#7db88e" stroke="#236e3a" stroke-width="1.4"/>
<circle cx="152.4" cy="582.4" r="2.9" fill="#7db88e" stroke="#236e3a" stroke-width="1.4"/>
<circle cx="157.7" cy="583.4" r="2.9" fill="#7db88e" stroke="#236e3a" stroke-width="1.4"/>
<circle cx="163.8" cy="582.4" r="2.9" fill="#7db88e" stroke="#236e3a" stroke-width="1.4"/>
<circle cx="170.4" cy="586.6" r="2.9" fill="#7db88e" stroke="#236e3a" stroke-width="1.4"/>
<circle cx="177.4" cy="585.9" r="2.9" fill="#7db88e" stroke="#236e3a" stroke-width="1.4"/>
<circle cx="185.6" cy="585.7" r="2.9" fill="#7db88e" stroke="#236e3a" stroke-width="1.4"/>
<circle cx="194.5" cy="587.2" r="2.9" fill="#7db88e" stroke="#236e3a" stroke-width="1.4"/>
<circle cx="205.1" cy="589.5" r="2.9" fill="#7db88e" stroke="#236e3a" stroke-width="1.4"/>
<circle cx="217.4" cy="587.9" r="2.9" fill="#7db88e" stroke="#236e3a" stroke-width="1.4"/>
<circle cx="231.8" cy="585.4" r="2.9" fill="#7db88e" stroke="#236e3a" stroke-width="1.4"/>
<circle cx="248.5" cy="588.6" r="2.9" fill="#7db88e" stroke="#236e3a" stroke-width="1.4"/>
<circle cx="268" cy="591.1" r="2.9" fill="#7db88e" stroke="#236e3a" stroke-width="1.4"/>
<circle cx="290.2" cy="592.8" r="2.9" fill="#7db88e" stroke="#236e3a" stroke-width="1.4"/>
<circle cx="315.8" cy="591.5" r="2.9" fill="#7db88e" stroke="#236e3a" stroke-width="1.4"/>
<circle cx="349.4" cy="590.2" r="2.9" fill="#7db88e" stroke="#236e3a" stroke-width="1.4"/>
</g>
<rect x="88" y="540" width="272.3" height="85" fill="none" stroke="#000" stroke-width="1.6" />
<line x1="84.5" y1="564" x2="88" y2="564" stroke="#000" stroke-width="1.3" />
<line x1="84.5" y1="584.4" x2="88" y2="584.4" stroke="#000" stroke-width="1.3" />
<line x1="84.5" y1="604.8" x2="88" y2="604.8" stroke="#000" stroke-width="1.3" />
<line x1="113.4" y1="625" x2="113.4" y2="629" stroke="#000" stroke-width="1.3" />
<line x1="154.45" y1="625" x2="154.45" y2="629" stroke="#000" stroke-width="1.3" />
<line x1="195.5" y1="625" x2="195.5" y2="629" stroke="#000" stroke-width="1.3" />
<line x1="236.55" y1="625" x2="236.55" y2="629" stroke="#000" stroke-width="1.3" />
<line x1="277.6" y1="625" x2="277.6" y2="629" stroke="#000" stroke-width="1.3" />
<line x1="318.65" y1="625" x2="318.65" y2="629" stroke="#000" stroke-width="1.3" />
<line x1="359.7" y1="625" x2="359.7" y2="629" stroke="#000" stroke-width="1.3" />
<text x="33.8" y="570.8" font-size="20" font-weight="normal" fill="#000" text-anchor="start" textLength="46.5" lengthAdjust="spacingAndGlyphs" >0.040</text>
<text x="33.8" y="611.2" font-size="20" font-weight="normal" fill="#000" text-anchor="start" textLength="46.5" lengthAdjust="spacingAndGlyphs" >0.030</text>
<text x="0" y="0" font-size="19.2" font-weight="normal" fill="#000" text-anchor="start" textLength="88.5" lengthAdjust="spacingAndGlyphs" transform="translate(24.1,632.2) rotate(-90)">|ΔPL/PL%|</text>
<text x="113.2" y="646.8" font-size="20.2" font-weight="normal" fill="#000" text-anchor="middle" >2</text>
<text x="195.4" y="646.8" font-size="20.2" font-weight="normal" fill="#000" text-anchor="middle" >4</text>
<text x="277.3" y="646.8" font-size="20.2" font-weight="normal" fill="#000" text-anchor="middle" >6</text>
<text x="358.8" y="646.8" font-size="20.2" font-weight="normal" fill="#000" text-anchor="middle" >8</text>
<rect x="115.7" y="595.7" width="60" height="24.7" fill="#8a4797" stroke="#2e2e2e" stroke-width="1" />
<text x="124.4" y="615.4" font-size="20.6" font-weight="normal" fill="#fff" text-anchor="start" textLength="43.5" lengthAdjust="spacingAndGlyphs" >(i) YZ</text>
<clipPath id="cpE2"><rect x="407.5" y="542.0" width="272.5" height="84.5"/></clipPath>
<g clip-path="url(#cpE2)">
<circle cx="410.3" cy="558" r="3.3" fill="#ecb487" stroke="#e8872a" stroke-width="1.5"/>
<circle cx="409.9" cy="562.4" r="3.3" fill="#ecb487" stroke="#e8872a" stroke-width="1.5"/>
<circle cx="411.4" cy="567.8" r="3.3" fill="#ecb487" stroke="#e8872a" stroke-width="1.5"/>
<circle cx="413.6" cy="564.6" r="3.3" fill="#ecb487" stroke="#e8872a" stroke-width="1.5"/>
<circle cx="416.2" cy="570" r="3.3" fill="#ecb487" stroke="#e8872a" stroke-width="1.5"/>
<circle cx="417.6" cy="572.2" r="3.3" fill="#ecb487" stroke="#e8872a" stroke-width="1.5"/>
<circle cx="418.6" cy="562.4" r="3.3" fill="#ecb487" stroke="#e8872a" stroke-width="1.5"/>
<circle cx="421.3" cy="565.7" r="3.3" fill="#ecb487" stroke="#e8872a" stroke-width="1.5"/>
<circle cx="424.1" cy="569" r="3.3" fill="#ecb487" stroke="#e8872a" stroke-width="1.5"/>
<circle cx="425.7" cy="561.3" r="3.3" fill="#ecb487" stroke="#e8872a" stroke-width="1.5"/>
<circle cx="427.8" cy="565.7" r="3.3" fill="#ecb487" stroke="#e8872a" stroke-width="1.5"/>
<circle cx="430.7" cy="567.4" r="3.3" fill="#ecb487" stroke="#e8872a" stroke-width="1.5"/>
<circle cx="433.3" cy="560.6" r="3.3" fill="#ecb487" stroke="#e8872a" stroke-width="1.5"/>
<circle cx="434.4" cy="564.6" r="3.3" fill="#ecb487" stroke="#e8872a" stroke-width="1.5"/>
<circle cx="437.7" cy="571.8" r="3.3" fill="#ecb487" stroke="#e8872a" stroke-width="1.5"/>
<circle cx="439.9" cy="564.6" r="3.3" fill="#ecb487" stroke="#e8872a" stroke-width="1.5"/>
<circle cx="442.1" cy="565.7" r="3.3" fill="#ecb487" stroke="#e8872a" stroke-width="1.5"/>
<circle cx="444.9" cy="570" r="3.3" fill="#ecb487" stroke="#e8872a" stroke-width="1.5"/>
<circle cx="449.3" cy="565.7" r="3.3" fill="#ecb487" stroke="#e8872a" stroke-width="1.5"/>
<circle cx="451.9" cy="565.7" r="3.3" fill="#ecb487" stroke="#e8872a" stroke-width="1.5"/>
<circle cx="454.8" cy="568.3" r="3.3" fill="#ecb487" stroke="#e8872a" stroke-width="1.5"/>
<circle cx="458.9" cy="567.2" r="3.3" fill="#ecb487" stroke="#e8872a" stroke-width="1.5"/>
<circle cx="462.9" cy="571.8" r="3.3" fill="#ecb487" stroke="#e8872a" stroke-width="1.5"/>
<circle cx="467.7" cy="561.9" r="3.3" fill="#ecb487" stroke="#e8872a" stroke-width="1.5"/>
<circle cx="472.1" cy="560.6" r="3.3" fill="#ecb487" stroke="#e8872a" stroke-width="1.5"/>
<circle cx="477.1" cy="568.3" r="3.3" fill="#ecb487" stroke="#e8872a" stroke-width="1.5"/>
<circle cx="483.2" cy="566.1" r="3.3" fill="#ecb487" stroke="#e8872a" stroke-width="1.5"/>
<circle cx="489.8" cy="568.9" r="3.3" fill="#ecb487" stroke="#e8872a" stroke-width="1.5"/>
<circle cx="496.4" cy="571.1" r="3.3" fill="#ecb487" stroke="#e8872a" stroke-width="1.5"/>
<circle cx="505.1" cy="571.1" r="3.3" fill="#ecb487" stroke="#e8872a" stroke-width="1.5"/>
<circle cx="514.3" cy="570.5" r="3.3" fill="#ecb487" stroke="#e8872a" stroke-width="1.5"/>
<circle cx="525.3" cy="574.4" r="3.3" fill="#ecb487" stroke="#e8872a" stroke-width="1.5"/>
<circle cx="536.9" cy="572.7" r="3.3" fill="#ecb487" stroke="#e8872a" stroke-width="1.5"/>
<circle cx="568" cy="571.9" r="3.3" fill="#ecb487" stroke="#e8872a" stroke-width="1.5"/>
<circle cx="587.9" cy="568" r="3.3" fill="#ecb487" stroke="#e8872a" stroke-width="1.5"/>
<circle cx="609.4" cy="561.5" r="3.3" fill="#ecb487" stroke="#e8872a" stroke-width="1.5"/>
<circle cx="635.7" cy="549.7" r="3.3" fill="#ecb487" stroke="#e8872a" stroke-width="1.5"/>
<circle cx="669.2" cy="554.7" r="3.3" fill="#ecb487" stroke="#e8872a" stroke-width="1.5"/>
</g>
<rect x="407.5" y="542" width="272.5" height="84.5" fill="none" stroke="#000" stroke-width="1.6" />
<line x1="404" y1="552.5" x2="407.5" y2="552.5" stroke="#000" stroke-width="1.3" />
<line x1="404" y1="570.5" x2="407.5" y2="570.5" stroke="#000" stroke-width="1.3" />
<line x1="404" y1="588.6" x2="407.5" y2="588.6" stroke="#000" stroke-width="1.3" />
<line x1="432.7" y1="626.5" x2="432.7" y2="630.5" stroke="#000" stroke-width="1.3" />
<line x1="473.9" y1="626.5" x2="473.9" y2="630.5" stroke="#000" stroke-width="1.3" />
<line x1="515.1" y1="626.5" x2="515.1" y2="630.5" stroke="#000" stroke-width="1.3" />
<line x1="556.3" y1="626.5" x2="556.3" y2="630.5" stroke="#000" stroke-width="1.3" />
<line x1="597.5" y1="626.5" x2="597.5" y2="630.5" stroke="#000" stroke-width="1.3" />
<line x1="638.7" y1="626.5" x2="638.7" y2="630.5" stroke="#000" stroke-width="1.3" />
<line x1="679.9" y1="626.5" x2="679.9" y2="630.5" stroke="#000" stroke-width="1.3" />
<text x="364.9" y="559.6" font-size="20" font-weight="normal" fill="#000" text-anchor="start" textLength="38" lengthAdjust="spacingAndGlyphs" >0.18</text>
<text x="364.9" y="595.6" font-size="20" font-weight="normal" fill="#000" text-anchor="start" textLength="38" lengthAdjust="spacingAndGlyphs" >0.14</text>
<text x="432.7" y="647.1" font-size="20.2" font-weight="normal" fill="#000" text-anchor="middle" >2</text>
<text x="515.1" y="647.1" font-size="20.2" font-weight="normal" fill="#000" text-anchor="middle" >4</text>
<text x="596.6" y="647.1" font-size="20.2" font-weight="normal" fill="#000" text-anchor="middle" >6</text>
<text x="679.4" y="647.1" font-size="20.2" font-weight="normal" fill="#000" text-anchor="middle" >8</text>
<rect x="415.1" y="596.3" width="59.2" height="24.5" fill="#8a4797" stroke="#2e2e2e" stroke-width="1" />
<text x="419.4" y="615.6" font-size="20.6" font-weight="normal" fill="#fff" text-anchor="start" textLength="50.3" lengthAdjust="spacingAndGlyphs" >(ii) XZ</text>
<text x="296.8" y="665.6" font-size="19" font-weight="normal" fill="#000" text-anchor="start" textLength="120" lengthAdjust="spacingAndGlyphs" >Pressure (Bar)</text></svg></body></html>
